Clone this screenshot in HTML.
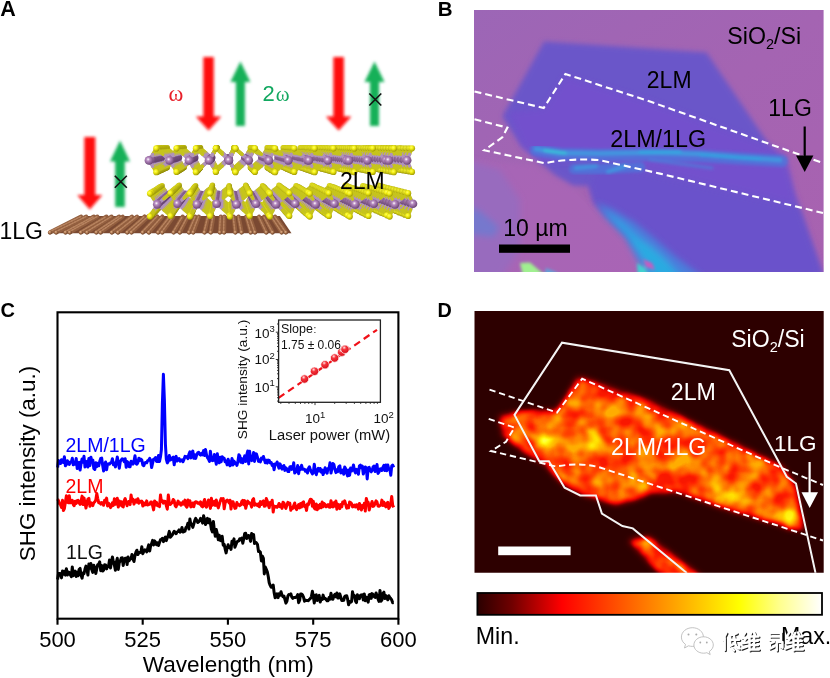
<!DOCTYPE html>
<html><head><meta charset="utf-8"><title>figure</title><style>html,body{margin:0;padding:0;background:#fff;overflow:hidden}
svg{display:block;font-family:"Liberation Sans",sans-serif;opacity:.999}
.s{fill:url(#sg)}.m{fill:url(#mg)}.sb{fill:url(#sgb)}.mb{fill:url(#mgb)}.p{stroke:#b092bc}.y{stroke:#c6c41c}
</style></head><body>
<svg width="830" height="678" viewBox="0 0 830 678">

<defs>
<filter id="b04" x="-5%" y="-5%" width="110%" height="110%"><feGaussianBlur stdDeviation="0.45"/></filter>
<filter id="b05" x="-5%" y="-20%" width="110%" height="140%"><feGaussianBlur stdDeviation="0.5"/></filter>
<filter id="b15" x="-5%" y="-5%" width="110%" height="110%"><feGaussianBlur stdDeviation="1.7"/></filter>
<filter id="b2" x="-10%" y="-10%" width="120%" height="120%"><feGaussianBlur stdDeviation="1.8"/></filter>
<filter id="b25" x="-10%" y="-10%" width="120%" height="120%"><feGaussianBlur stdDeviation="2.5"/></filter>
<filter id="b3" x="-10%" y="-10%" width="120%" height="120%"><feGaussianBlur stdDeviation="3"/></filter>
<clipPath id="clipA"><rect x="140" y="130" width="278.5" height="100"/></clipPath>
<clipPath id="clipB"><rect x="474" y="10" width="349.6" height="262"/></clipPath>
<clipPath id="clipD"><rect x="474.5" y="311" width="349.2" height="261.7"/></clipPath>
<radialGradient id="sg" cx="0.38" cy="0.35" r="0.7"><stop offset="0" stop-color="#ffff60"/><stop offset="0.4" stop-color="#f2ee14"/><stop offset="1" stop-color="#9a9400"/></radialGradient>
<radialGradient id="mg" cx="0.4" cy="0.38" r="0.7"><stop offset="0" stop-color="#ffffff"/><stop offset="0.28" stop-color="#b88cc2"/><stop offset="1" stop-color="#603a6a"/></radialGradient>
<radialGradient id="sgb" cx="0.4" cy="0.38" r="0.7"><stop offset="0" stop-color="#f0ee30"/><stop offset="0.5" stop-color="#d0cc18"/><stop offset="1" stop-color="#868000"/></radialGradient>
<radialGradient id="mgb" cx="0.4" cy="0.38" r="0.7"><stop offset="0" stop-color="#a880b0"/><stop offset="0.45" stop-color="#8a6292"/><stop offset="1" stop-color="#583662"/></radialGradient>
<radialGradient id="cg" cx="0.4" cy="0.35" r="0.7"><stop offset="0" stop-color="#e8b890"/><stop offset="0.5" stop-color="#a06c48"/><stop offset="1" stop-color="#5a3420"/></radialGradient>
<radialGradient id="rdot" cx="0.4" cy="0.3" r="0.75"><stop offset="0" stop-color="#ffe4e4"/><stop offset="0.32" stop-color="#f4343c"/><stop offset="1" stop-color="#d40814"/></radialGradient>
<linearGradient id="bgB" x1="0" y1="0" x2="1" y2="1"><stop offset="0" stop-color="#9c66b6"/><stop offset="0.5" stop-color="#a464b2"/><stop offset="1" stop-color="#a862b0"/></linearGradient>
<linearGradient id="cbar" x1="0" y1="0" x2="1" y2="0"><stop offset="0" stop-color="#2a0000"/><stop offset="0.1" stop-color="#700000"/><stop offset="0.245" stop-color="#ff0000"/><stop offset="0.5" stop-color="#ff8000"/><stop offset="0.76" stop-color="#ffff00"/><stop offset="0.88" stop-color="#ffff90"/><stop offset="1" stop-color="#ffffff"/></linearGradient>
<filter id="heat" filterUnits="userSpaceOnUse" x="440" y="290" width="400" height="300" color-interpolation-filters="sRGB">
<feGaussianBlur in="SourceGraphic" stdDeviation="3.1" result="m"/>
<feTurbulence type="fractalNoise" baseFrequency="0.055" numOctaves="2" seed="11" result="t"/>
<feColorMatrix in="t" type="matrix" values="1 0 0 0 0 1 0 0 0 0 1 0 0 0 0 0 0 0 0 1" result="g"/>
<feComponentTransfer in="g" result="n"><feFuncR type="linear" slope="1.9" intercept="-0.45"/><feFuncG type="linear" slope="1.9" intercept="-0.45"/><feFuncB type="linear" slope="1.9" intercept="-0.45"/></feComponentTransfer>
<feComposite in="m" in2="n" operator="arithmetic" k1="0.46" k2="0.54" k3="0" k4="0" result="i"/>
<feComponentTransfer in="i">
<feFuncR type="table" tableValues="0.18 0.36 0.66 0.92 1 1 1 1 1 1 1"/>
<feFuncG type="table" tableValues="0 0 0 0.02 0.12 0.3 0.5 0.7 0.87 1 1"/>
<feFuncB type="table" tableValues="0 0 0 0 0 0 0 0 0 0.1 0.4"/>
<feFuncA type="linear" slope="0" intercept="1"/>
</feComponentTransfer>
</filter>
</defs>

<!--A-->
<text x="0.2" y="16" font-size="21.5" font-weight="bold">A</text>
<g filter="url(#b05)">
<polygon points="48.0,233.3 79.3,216.1 279.9,216.1 291.5,233.3" fill="#7a4a32"/>
<line x1="50.0" y1="232.3" x2="81.1" y2="216.6" stroke="#935f3f" stroke-width="4.2" stroke-linecap="round"/>
<line x1="56.2" y1="232.3" x2="86.2" y2="216.6" stroke="#935f3f" stroke-width="4.2" stroke-linecap="round"/>
<line x1="65.5" y1="232.3" x2="93.8" y2="216.6" stroke="#935f3f" stroke-width="4.2" stroke-linecap="round"/>
<line x1="69.7" y1="232.3" x2="97.3" y2="216.6" stroke="#935f3f" stroke-width="4.2" stroke-linecap="round"/>
<line x1="80.9" y1="232.3" x2="106.5" y2="216.6" stroke="#935f3f" stroke-width="4.2" stroke-linecap="round"/>
<line x1="87.1" y1="232.3" x2="111.6" y2="216.6" stroke="#935f3f" stroke-width="4.2" stroke-linecap="round"/>
<line x1="96.4" y1="232.3" x2="119.2" y2="216.6" stroke="#935f3f" stroke-width="4.2" stroke-linecap="round"/>
<line x1="100.6" y1="232.3" x2="122.7" y2="216.6" stroke="#935f3f" stroke-width="4.2" stroke-linecap="round"/>
<line x1="111.8" y1="232.3" x2="131.9" y2="216.6" stroke="#935f3f" stroke-width="4.2" stroke-linecap="round"/>
<line x1="118.0" y1="232.3" x2="137.0" y2="216.6" stroke="#935f3f" stroke-width="4.2" stroke-linecap="round"/>
<line x1="127.3" y1="232.3" x2="144.6" y2="216.6" stroke="#935f3f" stroke-width="4.2" stroke-linecap="round"/>
<line x1="131.5" y1="232.3" x2="148.1" y2="216.6" stroke="#935f3f" stroke-width="4.2" stroke-linecap="round"/>
<line x1="142.7" y1="232.3" x2="157.3" y2="216.6" stroke="#935f3f" stroke-width="4.2" stroke-linecap="round"/>
<line x1="148.9" y1="232.3" x2="162.4" y2="216.6" stroke="#935f3f" stroke-width="4.2" stroke-linecap="round"/>
<line x1="158.2" y1="232.3" x2="170.0" y2="216.6" stroke="#935f3f" stroke-width="4.2" stroke-linecap="round"/>
<line x1="162.3" y1="232.3" x2="173.5" y2="216.6" stroke="#935f3f" stroke-width="4.2" stroke-linecap="round"/>
<line x1="173.6" y1="232.3" x2="182.7" y2="216.6" stroke="#935f3f" stroke-width="4.2" stroke-linecap="round"/>
<line x1="179.8" y1="232.3" x2="187.8" y2="216.6" stroke="#935f3f" stroke-width="4.2" stroke-linecap="round"/>
<line x1="189.0" y1="232.3" x2="195.4" y2="216.6" stroke="#935f3f" stroke-width="4.2" stroke-linecap="round"/>
<line x1="193.2" y1="232.3" x2="198.9" y2="216.6" stroke="#935f3f" stroke-width="4.2" stroke-linecap="round"/>
<line x1="204.5" y1="232.3" x2="208.1" y2="216.6" stroke="#935f3f" stroke-width="4.2" stroke-linecap="round"/>
<line x1="210.7" y1="232.3" x2="213.2" y2="216.6" stroke="#935f3f" stroke-width="4.2" stroke-linecap="round"/>
<line x1="219.9" y1="232.3" x2="220.8" y2="216.6" stroke="#935f3f" stroke-width="4.2" stroke-linecap="round"/>
<line x1="224.1" y1="232.3" x2="224.3" y2="216.6" stroke="#935f3f" stroke-width="4.2" stroke-linecap="round"/>
<line x1="235.4" y1="232.3" x2="233.6" y2="216.6" stroke="#935f3f" stroke-width="4.2" stroke-linecap="round"/>
<line x1="241.6" y1="232.3" x2="238.6" y2="216.6" stroke="#935f3f" stroke-width="4.2" stroke-linecap="round"/>
<line x1="250.8" y1="232.3" x2="246.3" y2="216.6" stroke="#935f3f" stroke-width="4.2" stroke-linecap="round"/>
<line x1="255.0" y1="232.3" x2="249.7" y2="216.6" stroke="#935f3f" stroke-width="4.2" stroke-linecap="round"/>
<line x1="266.3" y1="232.3" x2="259.0" y2="216.6" stroke="#935f3f" stroke-width="4.2" stroke-linecap="round"/>
<line x1="272.5" y1="232.3" x2="264.1" y2="216.6" stroke="#935f3f" stroke-width="4.2" stroke-linecap="round"/>
<line x1="281.7" y1="232.3" x2="271.7" y2="216.6" stroke="#935f3f" stroke-width="4.2" stroke-linecap="round"/>
<line x1="285.9" y1="232.3" x2="275.1" y2="216.6" stroke="#935f3f" stroke-width="4.2" stroke-linecap="round"/>
<line x1="49.5" y1="231.7" x2="80.7" y2="216.6" stroke="#b88460" stroke-width="1.5" stroke-linecap="round" stroke-dasharray="1.6,1.4"/>
<line x1="55.7" y1="231.7" x2="85.8" y2="216.6" stroke="#b88460" stroke-width="1.5" stroke-linecap="round" stroke-dasharray="1.6,1.4"/>
<line x1="65.0" y1="231.7" x2="93.4" y2="216.6" stroke="#b88460" stroke-width="1.5" stroke-linecap="round" stroke-dasharray="1.6,1.4"/>
<line x1="69.2" y1="231.7" x2="96.9" y2="216.6" stroke="#b88460" stroke-width="1.5" stroke-linecap="round" stroke-dasharray="1.6,1.4"/>
<line x1="80.4" y1="231.7" x2="106.1" y2="216.6" stroke="#b88460" stroke-width="1.5" stroke-linecap="round" stroke-dasharray="1.6,1.4"/>
<line x1="86.6" y1="231.7" x2="111.2" y2="216.6" stroke="#b88460" stroke-width="1.5" stroke-linecap="round" stroke-dasharray="1.6,1.4"/>
<line x1="95.9" y1="231.7" x2="118.8" y2="216.6" stroke="#b88460" stroke-width="1.5" stroke-linecap="round" stroke-dasharray="1.6,1.4"/>
<line x1="100.1" y1="231.7" x2="122.3" y2="216.6" stroke="#b88460" stroke-width="1.5" stroke-linecap="round" stroke-dasharray="1.6,1.4"/>
<line x1="111.3" y1="231.7" x2="131.5" y2="216.6" stroke="#b88460" stroke-width="1.5" stroke-linecap="round" stroke-dasharray="1.6,1.4"/>
<line x1="117.5" y1="231.7" x2="136.6" y2="216.6" stroke="#b88460" stroke-width="1.5" stroke-linecap="round" stroke-dasharray="1.6,1.4"/>
<line x1="126.8" y1="231.7" x2="144.2" y2="216.6" stroke="#b88460" stroke-width="1.5" stroke-linecap="round" stroke-dasharray="1.6,1.4"/>
<line x1="131.0" y1="231.7" x2="147.7" y2="216.6" stroke="#b88460" stroke-width="1.5" stroke-linecap="round" stroke-dasharray="1.6,1.4"/>
<line x1="142.2" y1="231.7" x2="156.9" y2="216.6" stroke="#b88460" stroke-width="1.5" stroke-linecap="round" stroke-dasharray="1.6,1.4"/>
<line x1="148.4" y1="231.7" x2="162.0" y2="216.6" stroke="#b88460" stroke-width="1.5" stroke-linecap="round" stroke-dasharray="1.6,1.4"/>
<line x1="157.7" y1="231.7" x2="169.6" y2="216.6" stroke="#b88460" stroke-width="1.5" stroke-linecap="round" stroke-dasharray="1.6,1.4"/>
<line x1="161.8" y1="231.7" x2="173.1" y2="216.6" stroke="#b88460" stroke-width="1.5" stroke-linecap="round" stroke-dasharray="1.6,1.4"/>
<line x1="173.1" y1="231.7" x2="182.3" y2="216.6" stroke="#b88460" stroke-width="1.5" stroke-linecap="round" stroke-dasharray="1.6,1.4"/>
<line x1="179.3" y1="231.7" x2="187.4" y2="216.6" stroke="#b88460" stroke-width="1.5" stroke-linecap="round" stroke-dasharray="1.6,1.4"/>
<line x1="188.5" y1="231.7" x2="195.0" y2="216.6" stroke="#b88460" stroke-width="1.5" stroke-linecap="round" stroke-dasharray="1.6,1.4"/>
<line x1="192.7" y1="231.7" x2="198.5" y2="216.6" stroke="#b88460" stroke-width="1.5" stroke-linecap="round" stroke-dasharray="1.6,1.4"/>
<line x1="204.0" y1="231.7" x2="207.7" y2="216.6" stroke="#b88460" stroke-width="1.5" stroke-linecap="round" stroke-dasharray="1.6,1.4"/>
<line x1="210.2" y1="231.7" x2="212.8" y2="216.6" stroke="#b88460" stroke-width="1.5" stroke-linecap="round" stroke-dasharray="1.6,1.4"/>
<line x1="219.4" y1="231.7" x2="220.4" y2="216.6" stroke="#b88460" stroke-width="1.5" stroke-linecap="round" stroke-dasharray="1.6,1.4"/>
<line x1="223.6" y1="231.7" x2="223.9" y2="216.6" stroke="#b88460" stroke-width="1.5" stroke-linecap="round" stroke-dasharray="1.6,1.4"/>
<line x1="234.9" y1="231.7" x2="233.2" y2="216.6" stroke="#b88460" stroke-width="1.5" stroke-linecap="round" stroke-dasharray="1.6,1.4"/>
<line x1="241.1" y1="231.7" x2="238.2" y2="216.6" stroke="#b88460" stroke-width="1.5" stroke-linecap="round" stroke-dasharray="1.6,1.4"/>
<line x1="250.3" y1="231.7" x2="245.9" y2="216.6" stroke="#b88460" stroke-width="1.5" stroke-linecap="round" stroke-dasharray="1.6,1.4"/>
<line x1="254.5" y1="231.7" x2="249.3" y2="216.6" stroke="#b88460" stroke-width="1.5" stroke-linecap="round" stroke-dasharray="1.6,1.4"/>
<line x1="265.8" y1="231.7" x2="258.6" y2="216.6" stroke="#b88460" stroke-width="1.5" stroke-linecap="round" stroke-dasharray="1.6,1.4"/>
<line x1="272.0" y1="231.7" x2="263.7" y2="216.6" stroke="#b88460" stroke-width="1.5" stroke-linecap="round" stroke-dasharray="1.6,1.4"/>
<line x1="281.2" y1="231.7" x2="271.3" y2="216.6" stroke="#b88460" stroke-width="1.5" stroke-linecap="round" stroke-dasharray="1.6,1.4"/>
<line x1="285.4" y1="231.7" x2="274.7" y2="216.6" stroke="#b88460" stroke-width="1.5" stroke-linecap="round" stroke-dasharray="1.6,1.4"/>
<circle cx="50.0" cy="232.5" r="2.1" fill="url(#cg)"/>
<circle cx="56.2" cy="232.5" r="2.1" fill="url(#cg)"/>
<circle cx="65.5" cy="232.5" r="2.1" fill="url(#cg)"/>
<circle cx="69.7" cy="232.5" r="2.1" fill="url(#cg)"/>
<circle cx="80.9" cy="232.5" r="2.1" fill="url(#cg)"/>
<circle cx="87.1" cy="232.5" r="2.1" fill="url(#cg)"/>
<circle cx="96.4" cy="232.5" r="2.1" fill="url(#cg)"/>
<circle cx="100.6" cy="232.5" r="2.1" fill="url(#cg)"/>
<circle cx="111.8" cy="232.5" r="2.1" fill="url(#cg)"/>
<circle cx="118.0" cy="232.5" r="2.1" fill="url(#cg)"/>
<circle cx="127.3" cy="232.5" r="2.1" fill="url(#cg)"/>
<circle cx="131.5" cy="232.5" r="2.1" fill="url(#cg)"/>
<circle cx="142.7" cy="232.5" r="2.1" fill="url(#cg)"/>
<circle cx="148.9" cy="232.5" r="2.1" fill="url(#cg)"/>
<circle cx="158.2" cy="232.5" r="2.1" fill="url(#cg)"/>
<circle cx="162.3" cy="232.5" r="2.1" fill="url(#cg)"/>
<circle cx="173.6" cy="232.5" r="2.1" fill="url(#cg)"/>
<circle cx="179.8" cy="232.5" r="2.1" fill="url(#cg)"/>
<circle cx="189.0" cy="232.5" r="2.1" fill="url(#cg)"/>
<circle cx="193.2" cy="232.5" r="2.1" fill="url(#cg)"/>
<circle cx="204.5" cy="232.5" r="2.1" fill="url(#cg)"/>
<circle cx="210.7" cy="232.5" r="2.1" fill="url(#cg)"/>
<circle cx="219.9" cy="232.5" r="2.1" fill="url(#cg)"/>
<circle cx="224.1" cy="232.5" r="2.1" fill="url(#cg)"/>
<circle cx="235.4" cy="232.5" r="2.1" fill="url(#cg)"/>
<circle cx="241.6" cy="232.5" r="2.1" fill="url(#cg)"/>
<circle cx="250.8" cy="232.5" r="2.1" fill="url(#cg)"/>
<circle cx="255.0" cy="232.5" r="2.1" fill="url(#cg)"/>
<circle cx="266.3" cy="232.5" r="2.1" fill="url(#cg)"/>
<circle cx="272.5" cy="232.5" r="2.1" fill="url(#cg)"/>
<circle cx="281.7" cy="232.5" r="2.1" fill="url(#cg)"/>
<circle cx="285.9" cy="232.5" r="2.1" fill="url(#cg)"/>
</g>
<g filter="url(#b04)" stroke-linecap="round" fill="none">
<path class="p" stroke-width="2.7" d="M185.1 194.1L182.2 189.7M185.1 194.1L182.2 199.2M218.1 194.1L215.3 189.7M218.1 194.1L215.3 199.2M251 194.1L248.3 189.7M251 194.1L248.3 199.2M283.9 194.1L281.4 189.7M283.9 194.1L281.4 199.2M316.9 194.1L314.5 189.7M316.9 194.1L314.5 199.2M349.8 194.1L347.5 189.7M349.8 194.1L347.5 199.2M382.8 194.1L380.6 189.7M382.8 194.1L380.6 199.2"/>
<path class="y" stroke-width="2.7" d="M181.4 152.6L184.3 147.6M181.4 162.5L184.3 167.4M214.5 152.6L217.2 147.6M214.5 162.5L217.2 167.4M247.5 152.6L250.2 147.6M247.5 162.5L250.2 167.4M280.6 152.6L283.1 147.6M280.6 162.5L283.1 167.4M313.6 152.6L316.1 147.6M313.6 162.5L316.1 167.4M346.7 152.6L349 147.6M346.7 162.5L349 167.4M379.8 152.6L381.9 147.6M379.8 162.5L381.9 167.4"/>
<circle class="sb" cx="184.3" cy="147.6" r="2.6"/>
<circle class="sb" cx="184.3" cy="167.4" r="2.6"/>
<circle class="mb" cx="185.1" cy="194.1" r="3.6"/>
<circle class="sb" cx="217.2" cy="147.6" r="2.6"/>
<circle class="sb" cx="217.2" cy="167.4" r="2.6"/>
<circle class="mb" cx="218.1" cy="194.1" r="3.6"/>
<circle class="sb" cx="250.2" cy="147.6" r="2.6"/>
<circle class="sb" cx="250.2" cy="167.4" r="2.6"/>
<circle class="mb" cx="251" cy="194.1" r="3.6"/>
<circle class="sb" cx="283.1" cy="147.6" r="2.6"/>
<circle class="sb" cx="283.1" cy="167.4" r="2.6"/>
<circle class="mb" cx="283.9" cy="194.1" r="3.6"/>
<circle class="sb" cx="316.1" cy="147.6" r="2.6"/>
<circle class="sb" cx="316.1" cy="167.4" r="2.6"/>
<circle class="mb" cx="316.9" cy="194.1" r="3.6"/>
<circle class="sb" cx="349" cy="147.6" r="2.6"/>
<circle class="sb" cx="349" cy="167.4" r="2.6"/>
<circle class="mb" cx="349.8" cy="194.1" r="3.6"/>
<circle class="sb" cx="381.9" cy="147.6" r="2.6"/>
<circle class="sb" cx="381.9" cy="167.4" r="2.6"/>
<circle class="mb" cx="382.8" cy="194.1" r="3.6"/>
<path class="p" stroke-width="2.7" d="M168.2 194.5L165.3 190M168.2 194.5L165.3 199.6M168.2 194.5L173.8 189.8M168.2 194.5L173.8 199.4M178.5 157.6L172.9 152.6M178.5 157.6L172.9 162.6M178.5 157.6L181.1 152.7M178.5 157.6L181.1 162.7M178.5 157.6L181.4 152.6M178.5 157.6L181.4 162.5M201.4 194.5L198.6 190M201.4 194.5L198.6 199.6M201.4 194.5L207 189.8M201.4 194.5L207 199.4M211.7 157.6L206.1 152.6M211.7 157.6L206.1 162.6M211.7 157.6L214.4 152.7M211.7 157.6L214.4 162.7M211.7 157.6L214.5 152.6M211.7 157.6L214.5 162.5M234.6 194.5L231.9 190M234.6 194.5L231.9 199.6M234.6 194.5L240.1 189.8M234.6 194.5L240.1 199.4M244.8 157.6L239.3 152.6M244.8 157.6L239.3 162.6M244.8 157.6L247.7 152.7M244.8 157.6L247.7 162.7M244.8 157.6L247.5 152.6M244.8 157.6L247.5 162.5M267.8 194.5L265.2 190M267.8 194.5L265.2 199.6M267.8 194.5L273.3 189.8M267.8 194.5L273.3 199.4M278 157.6L272.5 152.6M278 157.6L272.5 162.6M278 157.6L281 152.7M278 157.6L281 162.7M278 157.6L280.6 152.6M278 157.6L280.6 162.5M301 194.5L298.5 190M301 194.5L298.5 199.6M301 194.5L306.5 189.8M301 194.5L306.5 199.4M311.2 157.6L305.7 152.6M311.2 157.6L305.7 162.6M311.2 157.6L314.3 152.7M311.2 157.6L314.3 162.7M311.2 157.6L313.6 152.6M311.2 157.6L313.6 162.5M334.2 194.5L331.8 190M334.2 194.5L331.8 199.6M334.2 194.5L339.7 189.8M334.2 194.5L339.7 199.4M344.4 157.6L338.9 152.6M344.4 157.6L338.9 162.6M344.4 157.6L347.6 152.7M344.4 157.6L347.6 162.7M344.4 157.6L346.7 152.6M344.4 157.6L346.7 162.5M367.3 194.5L365.1 190M367.3 194.5L365.1 199.6M367.3 194.5L372.9 189.8M367.3 194.5L372.9 199.4M377.6 157.6L372 152.6M377.6 157.6L372 162.6M377.6 157.6L380.9 152.7M377.6 157.6L380.9 162.7M377.6 157.6L379.8 152.6M377.6 157.6L379.8 162.5"/>
<path class="y" stroke-width="2.7" d="M164.4 152.7L167.4 147.7M164.4 162.7L167.4 167.6M173.8 189.8L179.3 185.2M173.8 199.4L179.3 204.3M181.9 190L179.3 185.2M181.9 199.6L179.3 204.3M172.9 152.6L167.4 147.7M172.9 162.6L167.4 167.6M182.2 189.7L179.3 185.2M182.2 199.2L179.3 204.3M197.7 152.7L200.6 147.7M197.7 162.7L200.6 167.6M207 189.8L212.5 185.2M207 199.4L212.5 204.3M215.2 190L212.5 185.2M215.2 199.6L212.5 204.3M206.1 152.6L200.6 147.7M206.1 162.6L200.6 167.6M215.3 189.7L212.5 185.2M215.3 199.2L212.5 204.3M231 152.7L233.8 147.7M231 162.7L233.8 167.6M240.1 189.8L245.7 185.2M240.1 199.4L245.7 204.3M248.5 190L245.7 185.2M248.5 199.6L245.7 204.3M239.3 152.6L233.8 147.7M239.3 162.6L233.8 167.6M248.3 189.7L245.7 185.2M248.3 199.2L245.7 204.3M264.3 152.7L267 147.7M264.3 162.7L267 167.6M273.3 189.8L278.9 185.2M273.3 199.4L278.9 204.3M281.8 190L278.9 185.2M281.8 199.6L278.9 204.3M272.5 152.6L267 147.7M272.5 162.6L267 167.6M281.4 189.7L278.9 185.2M281.4 199.2L278.9 204.3M297.6 152.7L300.1 147.7M297.6 162.7L300.1 167.6M306.5 189.8L312 185.2M306.5 199.4L312 204.3M315.1 190L312 185.2M315.1 199.6L312 204.3M305.7 152.6L300.1 147.7M305.7 162.6L300.1 167.6M314.5 189.7L312 185.2M314.5 199.2L312 204.3M331 152.7L333.3 147.7M331 162.7L333.3 167.6M339.7 189.8L345.2 185.2M339.7 199.4L345.2 204.3M348.4 190L345.2 185.2M348.4 199.6L345.2 204.3M338.9 152.6L333.3 147.7M338.9 162.6L333.3 167.6M347.5 189.7L345.2 185.2M347.5 199.2L345.2 204.3M364.3 152.7L366.5 147.7M364.3 162.7L366.5 167.6M372.9 189.8L378.4 185.2M372.9 199.4L378.4 204.3M381.7 190L378.4 185.2M381.7 199.6L378.4 204.3M372 152.6L366.5 147.7M372 162.6L366.5 167.6M380.6 189.7L378.4 185.2M380.6 199.2L378.4 204.3"/>
<circle class="sb" cx="167.4" cy="147.7" r="2.6"/>
<circle class="sb" cx="167.4" cy="167.6" r="2.6"/>
<circle class="mb" cx="168.2" cy="194.5" r="3.7"/>
<circle class="mb" cx="178.5" cy="157.6" r="3.7"/>
<circle class="sb" cx="179.3" cy="185.2" r="2.6"/>
<circle class="sb" cx="179.3" cy="204.3" r="2.6"/>
<circle class="sb" cx="200.6" cy="147.7" r="2.6"/>
<circle class="sb" cx="200.6" cy="167.6" r="2.6"/>
<circle class="mb" cx="201.4" cy="194.5" r="3.7"/>
<circle class="mb" cx="211.7" cy="157.6" r="3.7"/>
<circle class="sb" cx="212.5" cy="185.2" r="2.6"/>
<circle class="sb" cx="212.5" cy="204.3" r="2.6"/>
<circle class="sb" cx="233.8" cy="147.7" r="2.6"/>
<circle class="sb" cx="233.8" cy="167.6" r="2.6"/>
<circle class="mb" cx="234.6" cy="194.5" r="3.7"/>
<circle class="mb" cx="244.8" cy="157.6" r="3.7"/>
<circle class="sb" cx="245.7" cy="185.2" r="2.6"/>
<circle class="sb" cx="245.7" cy="204.3" r="2.6"/>
<circle class="sb" cx="267" cy="147.7" r="2.6"/>
<circle class="sb" cx="267" cy="167.6" r="2.6"/>
<circle class="mb" cx="267.8" cy="194.5" r="3.7"/>
<circle class="mb" cx="278" cy="157.6" r="3.7"/>
<circle class="sb" cx="278.9" cy="185.2" r="2.6"/>
<circle class="sb" cx="278.9" cy="204.3" r="2.6"/>
<circle class="sb" cx="300.1" cy="147.7" r="2.6"/>
<circle class="sb" cx="300.1" cy="167.6" r="2.6"/>
<circle class="mb" cx="301" cy="194.5" r="3.7"/>
<circle class="mb" cx="311.2" cy="157.6" r="3.7"/>
<circle class="sb" cx="312" cy="185.2" r="2.6"/>
<circle class="sb" cx="312" cy="204.3" r="2.6"/>
<circle class="sb" cx="333.3" cy="147.7" r="2.6"/>
<circle class="sb" cx="333.3" cy="167.6" r="2.6"/>
<circle class="mb" cx="334.2" cy="194.5" r="3.7"/>
<circle class="mb" cx="344.4" cy="157.6" r="3.7"/>
<circle class="sb" cx="345.2" cy="185.2" r="2.6"/>
<circle class="sb" cx="345.2" cy="204.3" r="2.6"/>
<circle class="sb" cx="366.5" cy="147.7" r="2.6"/>
<circle class="sb" cx="366.5" cy="167.6" r="2.6"/>
<circle class="mb" cx="367.3" cy="194.5" r="3.7"/>
<circle class="mb" cx="377.6" cy="157.6" r="3.7"/>
<circle class="sb" cx="378.4" cy="185.2" r="2.6"/>
<circle class="sb" cx="378.4" cy="204.3" r="2.6"/>
<path class="p" stroke-width="2.8" d="M161.4 157.7L164 152.7M161.4 157.7L164 162.8M161.4 157.7L164.4 152.7M161.4 157.7L164.4 162.7M184.5 194.9L181.6 190.4M184.5 194.9L181.6 200M184.5 194.9L181.9 190M184.5 194.9L181.9 199.6M184.5 194.9L190.1 190.2M184.5 194.9L190.1 199.8M194.8 157.7L189.3 152.7M194.8 157.7L189.3 162.7M194.8 157.7L197.5 152.7M194.8 157.7L197.5 162.8M194.8 157.7L197.7 152.7M194.8 157.7L197.7 162.7M218 194.9L215.1 190.4M218 194.9L215.1 200M218 194.9L215.2 190M218 194.9L215.2 199.6M218 194.9L223.5 190.2M218 194.9L223.5 199.8M228.3 157.7L222.7 152.7M228.3 157.7L222.7 162.7M228.3 157.7L231.1 152.7M228.3 157.7L231.1 162.8M228.3 157.7L231 152.7M228.3 157.7L231 162.7M251.4 194.9L248.7 190.4M251.4 194.9L248.7 200M251.4 194.9L248.5 190M251.4 194.9L248.5 199.6M251.4 194.9L257 190.2M251.4 194.9L257 199.8M261.7 157.7L256.1 152.7M261.7 157.7L256.1 162.7M261.7 157.7L264.6 152.7M261.7 157.7L264.6 162.8M261.7 157.7L264.3 152.7M261.7 157.7L264.3 162.7M284.8 194.9L282.3 190.4M284.8 194.9L282.3 200M284.8 194.9L281.8 190M284.8 194.9L281.8 199.6M284.8 194.9L290.4 190.2M284.8 194.9L290.4 199.8M295.1 157.7L289.6 152.7M295.1 157.7L289.6 162.7M295.1 157.7L298.2 152.7M295.1 157.7L298.2 162.8M295.1 157.7L297.6 152.7M295.1 157.7L297.6 162.7M318.3 194.9L315.8 190.4M318.3 194.9L315.8 200M318.3 194.9L315.1 190M318.3 194.9L315.1 199.6M318.3 194.9L323.8 190.2M318.3 194.9L323.8 199.8M328.6 157.7L323 152.7M328.6 157.7L323 162.7M328.6 157.7L331.7 152.7M328.6 157.7L331.7 162.8M328.6 157.7L331 152.7M328.6 157.7L331 162.7M351.7 194.9L349.4 190.4M351.7 194.9L349.4 200M351.7 194.9L348.4 190M351.7 194.9L348.4 199.6M351.7 194.9L357.3 190.2M351.7 194.9L357.3 199.8M362 157.7L356.4 152.7M362 157.7L356.4 162.7M362 157.7L365.3 152.7M362 157.7L365.3 162.8M362 157.7L364.3 152.7M362 157.7L364.3 162.7M385.1 194.9L382.9 190.4M385.1 194.9L382.9 200M385.1 194.9L381.7 190M385.1 194.9L381.7 199.6"/>
<path class="y" stroke-width="2.8" d="M164.8 190.4L162.2 185.5M164.8 200L162.2 204.7M165.3 190L162.2 185.5M165.3 199.6L162.2 204.7M180.7 152.7L183.7 147.7M180.7 162.8L183.7 167.8M190.1 190.2L195.7 185.5M190.1 199.8L195.7 204.7M181.1 152.7L183.7 147.7M181.1 162.7L183.7 167.8M198.4 190.4L195.7 185.5M198.4 200L195.7 204.7M189.3 152.7L183.7 147.7M189.3 162.7L183.7 167.8M198.6 190L195.7 185.5M198.6 199.6L195.7 204.7M214.3 152.7L217.1 147.7M214.3 162.8L217.1 167.8M223.5 190.2L229.1 185.5M223.5 199.8L229.1 204.7M214.4 152.7L217.1 147.7M214.4 162.7L217.1 167.8M231.9 190.4L229.1 185.5M231.9 200L229.1 204.7M222.7 152.7L217.1 147.7M222.7 162.7L217.1 167.8M231.9 190L229.1 185.5M231.9 199.6L229.1 204.7M247.9 152.7L250.6 147.7M247.9 162.8L250.6 167.8M257 190.2L262.5 185.5M257 199.8L262.5 204.7M247.7 152.7L250.6 147.7M247.7 162.7L250.6 167.8M265.5 190.4L262.5 185.5M265.5 200L262.5 204.7M256.1 152.7L250.6 147.7M256.1 162.7L250.6 167.8M265.2 190L262.5 185.5M265.2 199.6L262.5 204.7M281.4 152.7L284 147.7M281.4 162.8L284 167.8M290.4 190.2L296 185.5M290.4 199.8L296 204.7M281 152.7L284 147.7M281 162.7L284 167.8M299 190.4L296 185.5M299 200L296 204.7M289.6 152.7L284 147.7M289.6 162.7L284 167.8M298.5 190L296 185.5M298.5 199.6L296 204.7M315 152.7L317.4 147.7M315 162.8L317.4 167.8M323.8 190.2L329.4 185.5M323.8 199.8L329.4 204.7M314.3 152.7L317.4 147.7M314.3 162.7L317.4 167.8M332.6 190.4L329.4 185.5M332.6 200L329.4 204.7M323 152.7L317.4 147.7M323 162.7L317.4 167.8M331.8 190L329.4 185.5M331.8 199.6L329.4 204.7M348.5 152.7L350.8 147.7M348.5 162.8L350.8 167.8M357.3 190.2L362.8 185.5M357.3 199.8L362.8 204.7M347.6 152.7L350.8 147.7M347.6 162.7L350.8 167.8M366.1 190.4L362.8 185.5M366.1 200L362.8 204.7M356.4 152.7L350.8 147.7M356.4 162.7L350.8 167.8M365.1 190L362.8 185.5M365.1 199.6L362.8 204.7M382.1 152.7L384.3 147.7M382.1 162.8L384.3 167.8M380.9 152.7L384.3 147.7M380.9 162.7L384.3 167.8"/>
<circle class="mb" cx="161.4" cy="157.7" r="3.7"/>
<circle class="sb" cx="162.2" cy="185.5" r="2.6"/>
<circle class="sb" cx="162.2" cy="204.7" r="2.6"/>
<circle class="sb" cx="183.7" cy="147.7" r="2.6"/>
<circle class="sb" cx="183.7" cy="167.8" r="2.6"/>
<circle class="mb" cx="184.5" cy="194.9" r="3.7"/>
<circle class="mb" cx="194.8" cy="157.7" r="3.7"/>
<circle class="sb" cx="195.7" cy="185.5" r="2.6"/>
<circle class="sb" cx="195.7" cy="204.7" r="2.6"/>
<circle class="sb" cx="217.1" cy="147.7" r="2.6"/>
<circle class="sb" cx="217.1" cy="167.8" r="2.6"/>
<circle class="mb" cx="218" cy="194.9" r="3.7"/>
<circle class="mb" cx="228.3" cy="157.7" r="3.7"/>
<circle class="sb" cx="229.1" cy="185.5" r="2.6"/>
<circle class="sb" cx="229.1" cy="204.7" r="2.6"/>
<circle class="sb" cx="250.6" cy="147.7" r="2.6"/>
<circle class="sb" cx="250.6" cy="167.8" r="2.6"/>
<circle class="mb" cx="251.4" cy="194.9" r="3.7"/>
<circle class="mb" cx="261.7" cy="157.7" r="3.7"/>
<circle class="sb" cx="262.5" cy="185.5" r="2.6"/>
<circle class="sb" cx="262.5" cy="204.7" r="2.6"/>
<circle class="sb" cx="284" cy="147.7" r="2.6"/>
<circle class="sb" cx="284" cy="167.8" r="2.6"/>
<circle class="mb" cx="284.8" cy="194.9" r="3.7"/>
<circle class="mb" cx="295.1" cy="157.7" r="3.7"/>
<circle class="sb" cx="296" cy="185.5" r="2.6"/>
<circle class="sb" cx="296" cy="204.7" r="2.6"/>
<circle class="sb" cx="317.4" cy="147.7" r="2.6"/>
<circle class="sb" cx="317.4" cy="167.8" r="2.6"/>
<circle class="mb" cx="318.3" cy="194.9" r="3.7"/>
<circle class="mb" cx="328.6" cy="157.7" r="3.7"/>
<circle class="sb" cx="329.4" cy="185.5" r="2.6"/>
<circle class="sb" cx="329.4" cy="204.7" r="2.6"/>
<circle class="sb" cx="350.8" cy="147.7" r="2.6"/>
<circle class="sb" cx="350.8" cy="167.8" r="2.6"/>
<circle class="mb" cx="351.7" cy="194.9" r="3.7"/>
<circle class="mb" cx="362" cy="157.7" r="3.7"/>
<circle class="sb" cx="362.8" cy="185.5" r="2.6"/>
<circle class="sb" cx="362.8" cy="204.7" r="2.6"/>
<circle class="sb" cx="384.3" cy="147.7" r="2.6"/>
<circle class="sb" cx="384.3" cy="167.8" r="2.6"/>
<circle class="mb" cx="385.1" cy="194.9" r="3.7"/>
<path class="p" stroke-width="2.8" d="M167.4 195.3L164.4 190.7M167.4 195.3L164.4 200.4M167.4 195.3L164.8 190.4M167.4 195.3L164.8 200M167.4 195.3L173 190.5M167.4 195.3L173 200.2M177.8 157.8L172.2 152.8M177.8 157.8L172.2 162.9M177.8 157.8L180.4 152.8M177.8 157.8L180.4 163M177.8 157.8L180.7 152.7M177.8 157.8L180.7 162.8M201.1 195.3L198.2 190.7M201.1 195.3L198.2 200.4M201.1 195.3L198.4 190.4M201.1 195.3L198.4 200M201.1 195.3L206.7 190.5M201.1 195.3L206.7 200.2M211.5 157.8L205.8 152.8M211.5 157.8L205.8 162.9M211.5 157.8L214.2 152.8M211.5 157.8L214.2 163M211.5 157.8L214.3 152.7M211.5 157.8L214.3 162.8M234.8 195.3L232 190.7M234.8 195.3L232 200.4M234.8 195.3L231.9 190.4M234.8 195.3L231.9 200M234.8 195.3L240.4 190.5M234.8 195.3L240.4 200.2M245.1 157.8L239.5 152.8M245.1 157.8L239.5 162.9M245.1 157.8L248 152.8M245.1 157.8L248 163M245.1 157.8L247.9 152.7M245.1 157.8L247.9 162.8M268.4 195.3L265.8 190.7M268.4 195.3L265.8 200.4M268.4 195.3L265.5 190.4M268.4 195.3L265.5 200M268.4 195.3L274 190.5M268.4 195.3L274 200.2M278.8 157.8L273.2 152.8M278.8 157.8L273.2 162.9M278.8 157.8L281.8 152.8M278.8 157.8L281.8 163M278.8 157.8L281.4 152.7M278.8 157.8L281.4 162.8M302.1 195.3L299.6 190.7M302.1 195.3L299.6 200.4M302.1 195.3L299 190.4M302.1 195.3L299 200M302.1 195.3L307.7 190.5M302.1 195.3L307.7 200.2M312.5 157.8L306.9 152.8M312.5 157.8L306.9 162.9M312.5 157.8L315.6 152.8M312.5 157.8L315.6 163M312.5 157.8L315 152.7M312.5 157.8L315 162.8M335.8 195.3L333.4 190.7M335.8 195.3L333.4 200.4M335.8 195.3L332.6 190.4M335.8 195.3L332.6 200M335.8 195.3L341.4 190.5M335.8 195.3L341.4 200.2M346.2 157.8L340.6 152.8M346.2 157.8L340.6 162.9M346.2 157.8L349.4 152.8M346.2 157.8L349.4 163M346.2 157.8L348.5 152.7M346.2 157.8L348.5 162.8M369.5 195.3L367.2 190.7M369.5 195.3L367.2 200.4M369.5 195.3L366.1 190.4M369.5 195.3L366.1 200M369.5 195.3L375.1 190.5M369.5 195.3L375.1 200.2M379.9 157.8L374.2 152.8M379.9 157.8L374.2 162.9M379.9 157.8L383.3 152.8M379.9 157.8L383.3 163M379.9 157.8L382.1 152.7M379.9 157.8L382.1 162.8"/>
<path class="y" stroke-width="2.8" d="M163.5 152.8L166.5 147.7M163.5 163L166.5 167.9M173 190.5L178.6 185.8M173 200.2L178.6 205.2M164 152.7L166.5 147.7M164 162.8L166.5 167.9M181.3 190.7L178.6 185.8M181.3 200.4L178.6 205.2M172.2 152.8L166.5 147.7M172.2 162.9L166.5 167.9M181.6 190.4L178.6 185.8M181.6 200L178.6 205.2M197.3 152.8L200.2 147.7M197.3 163L200.2 167.9M206.7 190.5L212.3 185.8M206.7 200.2L212.3 205.2M197.5 152.7L200.2 147.7M197.5 162.8L200.2 167.9M215.1 190.7L212.3 185.8M215.1 200.4L212.3 205.2M205.8 152.8L200.2 147.7M205.8 162.9L200.2 167.9M215.1 190.4L212.3 185.8M215.1 200L212.3 205.2M231.1 152.8L233.9 147.7M231.1 163L233.9 167.9M240.4 190.5L246 185.8M240.4 200.2L246 205.2M231.1 152.7L233.9 147.7M231.1 162.8L233.9 167.9M248.9 190.7L246 185.8M248.9 200.4L246 205.2M239.5 152.8L233.9 147.7M239.5 162.9L233.9 167.9M248.7 190.4L246 185.8M248.7 200L246 205.2M264.9 152.8L267.6 147.7M264.9 163L267.6 167.9M274 190.5L279.7 185.8M274 200.2L279.7 205.2M264.6 152.7L267.6 147.7M264.6 162.8L267.6 167.9M282.7 190.7L279.7 185.8M282.7 200.4L279.7 205.2M273.2 152.8L267.6 147.7M273.2 162.9L267.6 167.9M282.3 190.4L279.7 185.8M282.3 200L279.7 205.2M298.7 152.8L301.3 147.7M298.7 163L301.3 167.9M307.7 190.5L313.3 185.8M307.7 200.2L313.3 205.2M298.2 152.7L301.3 147.7M298.2 162.8L301.3 167.9M316.5 190.7L313.3 185.8M316.5 200.4L313.3 205.2M306.9 152.8L301.3 147.7M306.9 162.9L301.3 167.9M315.8 190.4L313.3 185.8M315.8 200L313.3 205.2M332.5 152.8L334.9 147.7M332.5 163L334.9 167.9M341.4 190.5L347 185.8M341.4 200.2L347 205.2M331.7 152.7L334.9 147.7M331.7 162.8L334.9 167.9M350.3 190.7L347 185.8M350.3 200.4L347 205.2M340.6 152.8L334.9 147.7M340.6 162.9L334.9 167.9M349.4 190.4L347 185.8M349.4 200L347 205.2M366.4 152.8L368.6 147.7M366.4 163L368.6 167.9M375.1 190.5L380.7 185.8M375.1 200.2L380.7 205.2M365.3 152.7L368.6 147.7M365.3 162.8L368.6 167.9M384.1 190.7L380.7 185.8M384.1 200.4L380.7 205.2M374.2 152.8L368.6 147.7M374.2 162.9L368.6 167.9M382.9 190.4L380.7 185.8M382.9 200L380.7 205.2"/>
<circle class="sb" cx="166.5" cy="147.7" r="2.7"/>
<circle class="sb" cx="166.5" cy="167.9" r="2.7"/>
<circle class="mb" cx="167.4" cy="195.3" r="3.7"/>
<circle class="mb" cx="177.8" cy="157.8" r="3.7"/>
<circle class="sb" cx="178.6" cy="185.8" r="2.7"/>
<circle class="sb" cx="178.6" cy="205.2" r="2.7"/>
<circle class="sb" cx="200.2" cy="147.7" r="2.7"/>
<circle class="sb" cx="200.2" cy="167.9" r="2.7"/>
<circle class="mb" cx="201.1" cy="195.3" r="3.7"/>
<circle class="mb" cx="211.5" cy="157.8" r="3.7"/>
<circle class="sb" cx="212.3" cy="185.8" r="2.7"/>
<circle class="sb" cx="212.3" cy="205.2" r="2.7"/>
<circle class="sb" cx="233.9" cy="147.7" r="2.7"/>
<circle class="sb" cx="233.9" cy="167.9" r="2.7"/>
<circle class="mb" cx="234.8" cy="195.3" r="3.7"/>
<circle class="mb" cx="245.1" cy="157.8" r="3.7"/>
<circle class="sb" cx="246" cy="185.8" r="2.7"/>
<circle class="sb" cx="246" cy="205.2" r="2.7"/>
<circle class="sb" cx="267.6" cy="147.7" r="2.7"/>
<circle class="sb" cx="267.6" cy="167.9" r="2.7"/>
<circle class="mb" cx="268.4" cy="195.3" r="3.7"/>
<circle class="mb" cx="278.8" cy="157.8" r="3.7"/>
<circle class="sb" cx="279.7" cy="185.8" r="2.7"/>
<circle class="sb" cx="279.7" cy="205.2" r="2.7"/>
<circle class="sb" cx="301.3" cy="147.7" r="2.7"/>
<circle class="sb" cx="301.3" cy="167.9" r="2.7"/>
<circle class="mb" cx="302.1" cy="195.3" r="3.7"/>
<circle class="mb" cx="312.5" cy="157.8" r="3.7"/>
<circle class="sb" cx="313.3" cy="185.8" r="2.7"/>
<circle class="sb" cx="313.3" cy="205.2" r="2.7"/>
<circle class="sb" cx="334.9" cy="147.7" r="2.7"/>
<circle class="sb" cx="334.9" cy="167.9" r="2.7"/>
<circle class="mb" cx="335.8" cy="195.3" r="3.7"/>
<circle class="mb" cx="346.2" cy="157.8" r="3.7"/>
<circle class="sb" cx="347" cy="185.8" r="2.7"/>
<circle class="sb" cx="347" cy="205.2" r="2.7"/>
<circle class="sb" cx="368.6" cy="147.7" r="2.7"/>
<circle class="sb" cx="368.6" cy="167.9" r="2.7"/>
<circle class="mb" cx="369.5" cy="195.3" r="3.7"/>
<circle class="mb" cx="379.9" cy="157.8" r="3.7"/>
<circle class="sb" cx="380.7" cy="185.8" r="2.7"/>
<circle class="sb" cx="380.7" cy="205.2" r="2.7"/>
<path class="p" stroke-width="2.8" d="M160.5 157.9L163 152.9M160.5 157.9L163 163.1M160.5 157.9L163.5 152.8M160.5 157.9L163.5 163M183.9 195.6L180.9 191.1M183.9 195.6L180.9 200.9M183.9 195.6L181.3 190.7M183.9 195.6L181.3 200.4M183.9 195.6L189.6 190.9M183.9 195.6L189.6 200.6M194.4 157.9L188.7 152.8M194.4 157.9L188.7 163M194.4 157.9L197.1 152.9M194.4 157.9L197.1 163.1M194.4 157.9L197.3 152.8M194.4 157.9L197.3 163M217.9 195.6L215 191.1M217.9 195.6L215 200.9M217.9 195.6L215.1 190.7M217.9 195.6L215.1 200.4M217.9 195.6L223.5 190.9M217.9 195.6L223.5 200.6M228.3 157.9L222.7 152.8M228.3 157.9L222.7 163M228.3 157.9L231.2 152.9M228.3 157.9L231.2 163.1M228.3 157.9L231.1 152.8M228.3 157.9L231.1 163M251.8 195.6L249.1 191.1M251.8 195.6L249.1 200.9M251.8 195.6L248.9 190.7M251.8 195.6L248.9 200.4M251.8 195.6L257.4 190.9M251.8 195.6L257.4 200.6M262.3 157.9L256.6 152.8M262.3 157.9L256.6 163M262.3 157.9L265.2 152.9M262.3 157.9L265.2 163.1M262.3 157.9L264.9 152.8M262.3 157.9L264.9 163M285.7 195.6L283.1 191.1M285.7 195.6L283.1 200.9M285.7 195.6L282.7 190.7M285.7 195.6L282.7 200.4M285.7 195.6L291.4 190.9M285.7 195.6L291.4 200.6M296.2 157.9L290.5 152.8M296.2 157.9L290.5 163M296.2 157.9L299.3 152.9M296.2 157.9L299.3 163.1M296.2 157.9L298.7 152.8M296.2 157.9L298.7 163M319.7 195.6L317.2 191.1M319.7 195.6L317.2 200.9M319.7 195.6L316.5 190.7M319.7 195.6L316.5 200.4M319.7 195.6L325.3 190.9M319.7 195.6L325.3 200.6M330.1 157.9L324.5 152.8M330.1 157.9L324.5 163M330.1 157.9L333.4 152.9M330.1 157.9L333.4 163.1M330.1 157.9L332.5 152.8M330.1 157.9L332.5 163M353.6 195.6L351.2 191.1M353.6 195.6L351.2 200.9M353.6 195.6L350.3 190.7M353.6 195.6L350.3 200.4M353.6 195.6L359.2 190.9M353.6 195.6L359.2 200.6M364.1 157.9L358.4 152.8M364.1 157.9L358.4 163M364.1 157.9L367.4 152.9M364.1 157.9L367.4 163.1M364.1 157.9L366.4 152.8M364.1 157.9L366.4 163M387.5 195.6L385.3 191.1M387.5 195.6L385.3 200.9M387.5 195.6L384.1 190.7M387.5 195.6L384.1 200.4"/>
<path class="y" stroke-width="2.8" d="M163.9 191.1L161.3 186.1M163.9 200.9L161.3 205.7M164.4 190.7L161.3 186.1M164.4 200.4L161.3 205.7M180.1 152.9L183.1 147.7M180.1 163.1L183.1 168.1M189.6 190.9L195.2 186.1M189.6 200.6L195.2 205.7M180.4 152.8L183.1 147.7M180.4 163L183.1 168.1M198 191.1L195.2 186.1M198 200.9L195.2 205.7M188.7 152.8L183.1 147.7M188.7 163L183.1 168.1M198.2 190.7L195.2 186.1M198.2 200.4L195.2 205.7M214.1 152.9L217 147.7M214.1 163.1L217 168.1M223.5 190.9L229.2 186.1M223.5 200.6L229.2 205.7M214.2 152.8L217 147.7M214.2 163L217 168.1M232 191.1L229.2 186.1M232 200.9L229.2 205.7M222.7 152.8L217 147.7M222.7 163L217 168.1M232 190.7L229.2 186.1M232 200.4L229.2 205.7M248.2 152.9L250.9 147.7M248.2 163.1L250.9 168.1M257.4 190.9L263.1 186.1M257.4 200.6L263.1 205.7M248 152.8L250.9 147.7M248 163L250.9 168.1M266.1 191.1L263.1 186.1M266.1 200.9L263.1 205.7M256.6 152.8L250.9 147.7M256.6 163L250.9 168.1M265.8 190.7L263.1 186.1M265.8 200.4L263.1 205.7M282.3 152.9L284.9 147.7M282.3 163.1L284.9 168.1M291.4 190.9L297 186.1M291.4 200.6L297 205.7M281.8 152.8L284.9 147.7M281.8 163L284.9 168.1M300.1 191.1L297 186.1M300.1 200.9L297 205.7M290.5 152.8L284.9 147.7M290.5 163L284.9 168.1M299.6 190.7L297 186.1M299.6 200.4L297 205.7M316.3 152.9L318.8 147.7M316.3 163.1L318.8 168.1M325.3 190.9L331 186.1M325.3 200.6L331 205.7M315.6 152.8L318.8 147.7M315.6 163L318.8 168.1M334.2 191.1L331 186.1M334.2 200.9L331 205.7M324.5 152.8L318.8 147.7M324.5 163L318.8 168.1M333.4 190.7L331 186.1M333.4 200.4L331 205.7M350.4 152.9L352.7 147.7M350.4 163.1L352.7 168.1M359.2 190.9L364.9 186.1M359.2 200.6L364.9 205.7M349.4 152.8L352.7 147.7M349.4 163L352.7 168.1M368.3 191.1L364.9 186.1M368.3 200.9L364.9 205.7M358.4 152.8L352.7 147.7M358.4 163L352.7 168.1M367.2 190.7L364.9 186.1M367.2 200.4L364.9 205.7M384.5 152.9L386.7 147.7M384.5 163.1L386.7 168.1M383.3 152.8L386.7 147.7M383.3 163L386.7 168.1"/>
<circle class="mb" cx="160.5" cy="157.9" r="3.7"/>
<circle class="sb" cx="161.3" cy="186.1" r="2.7"/>
<circle class="sb" cx="161.3" cy="205.7" r="2.7"/>
<circle class="sb" cx="183.1" cy="147.7" r="2.7"/>
<circle class="sb" cx="183.1" cy="168.1" r="2.7"/>
<circle class="mb" cx="183.9" cy="195.6" r="3.7"/>
<circle class="mb" cx="194.4" cy="157.9" r="3.7"/>
<circle class="sb" cx="195.2" cy="186.1" r="2.7"/>
<circle class="sb" cx="195.2" cy="205.7" r="2.7"/>
<circle class="sb" cx="217" cy="147.7" r="2.7"/>
<circle class="sb" cx="217" cy="168.1" r="2.7"/>
<circle class="mb" cx="217.9" cy="195.6" r="3.7"/>
<circle class="mb" cx="228.3" cy="157.9" r="3.7"/>
<circle class="sb" cx="229.2" cy="186.1" r="2.7"/>
<circle class="sb" cx="229.2" cy="205.7" r="2.7"/>
<circle class="sb" cx="250.9" cy="147.7" r="2.7"/>
<circle class="sb" cx="250.9" cy="168.1" r="2.7"/>
<circle class="mb" cx="251.8" cy="195.6" r="3.7"/>
<circle class="mb" cx="262.3" cy="157.9" r="3.7"/>
<circle class="sb" cx="263.1" cy="186.1" r="2.7"/>
<circle class="sb" cx="263.1" cy="205.7" r="2.7"/>
<circle class="sb" cx="284.9" cy="147.7" r="2.7"/>
<circle class="sb" cx="284.9" cy="168.1" r="2.7"/>
<circle class="mb" cx="285.7" cy="195.6" r="3.7"/>
<circle class="mb" cx="296.2" cy="157.9" r="3.7"/>
<circle class="sb" cx="297" cy="186.1" r="2.7"/>
<circle class="sb" cx="297" cy="205.7" r="2.7"/>
<circle class="sb" cx="318.8" cy="147.7" r="2.7"/>
<circle class="sb" cx="318.8" cy="168.1" r="2.7"/>
<circle class="mb" cx="319.7" cy="195.6" r="3.7"/>
<circle class="mb" cx="330.1" cy="157.9" r="3.7"/>
<circle class="sb" cx="331" cy="186.1" r="2.7"/>
<circle class="sb" cx="331" cy="205.7" r="2.7"/>
<circle class="sb" cx="352.7" cy="147.7" r="2.7"/>
<circle class="sb" cx="352.7" cy="168.1" r="2.7"/>
<circle class="mb" cx="353.6" cy="195.6" r="3.7"/>
<circle class="mb" cx="364.1" cy="157.9" r="3.7"/>
<circle class="sb" cx="364.9" cy="186.1" r="2.7"/>
<circle class="sb" cx="364.9" cy="205.7" r="2.7"/>
<circle class="sb" cx="386.7" cy="147.7" r="2.7"/>
<circle class="sb" cx="386.7" cy="168.1" r="2.7"/>
<circle class="mb" cx="387.5" cy="195.6" r="3.7"/>
<path class="p" stroke-width="2.8" d="M166.5 196L163.4 191.4M166.5 196L163.4 201.3M166.5 196L163.9 191.1M166.5 196L163.9 200.9M166.5 196L172.2 191.2M166.5 196L172.2 201.1M177.1 158L171.4 152.9M177.1 158L171.4 163.2M177.1 158L179.7 152.9M177.1 158L179.7 163.2M177.1 158L180.1 152.9M177.1 158L180.1 163.1M200.7 196L197.8 191.4M200.7 196L197.8 201.3M200.7 196L198 191.1M200.7 196L198 200.9M200.7 196L206.4 191.2M200.7 196L206.4 201.1M211.3 158L205.6 152.9M211.3 158L205.6 163.2M211.3 158L214.1 152.9M211.3 158L214.1 163.2M211.3 158L214.1 152.9M211.3 158L214.1 163.1M234.9 196L232.1 191.4M234.9 196L232.1 201.3M234.9 196L232 191.1M234.9 196L232 200.9M234.9 196L240.6 191.2M234.9 196L240.6 201.1M245.4 158L239.7 152.9M245.4 158L239.7 163.2M245.4 158L248.4 152.9M245.4 158L248.4 163.2M245.4 158L248.2 152.9M245.4 158L248.2 163.1M269.1 196L266.4 191.4M269.1 196L266.4 201.3M269.1 196L266.1 191.1M269.1 196L266.1 200.9M269.1 196L274.8 191.2M269.1 196L274.8 201.1M279.6 158L273.9 152.9M279.6 158L273.9 163.2M279.6 158L282.7 152.9M279.6 158L282.7 163.2M279.6 158L282.3 152.9M279.6 158L282.3 163.1M303.3 196L300.7 191.4M303.3 196L300.7 201.3M303.3 196L300.1 191.1M303.3 196L300.1 200.9M303.3 196L309 191.2M303.3 196L309 201.1M313.8 158L308.1 152.9M313.8 158L308.1 163.2M313.8 158L317 152.9M313.8 158L317 163.2M313.8 158L316.3 152.9M313.8 158L316.3 163.1M337.5 196L335 191.4M337.5 196L335 201.3M337.5 196L334.2 191.1M337.5 196L334.2 200.9M337.5 196L343.2 191.2M337.5 196L343.2 201.1M348 158L342.3 152.9M348 158L342.3 163.2M348 158L351.3 152.9M348 158L351.3 163.2M348 158L350.4 152.9M348 158L350.4 163.1M371.7 196L369.4 191.4M371.7 196L369.4 201.3M371.7 196L368.3 191.1M371.7 196L368.3 200.9M371.7 196L377.4 191.2M371.7 196L377.4 201.1M382.2 158L376.5 152.9M382.2 158L376.5 163.2M382.2 158L385.7 152.9M382.2 158L385.7 163.2M382.2 158L384.5 152.9M382.2 158L384.5 163.1"/>
<path class="y" stroke-width="2.8" d="M162.6 152.9L165.7 147.8M162.6 163.2L165.7 168.3M172.2 191.2L177.9 186.4M172.2 201.1L177.9 206.1M163 152.9L165.7 147.8M163 163.1L165.7 168.3M180.6 191.4L177.9 186.4M180.6 201.3L177.9 206.1M171.4 152.9L165.7 147.8M171.4 163.2L165.7 168.3M180.9 191.1L177.9 186.4M180.9 200.9L177.9 206.1M196.9 152.9L199.9 147.8M196.9 163.2L199.9 168.3M206.4 191.2L212.1 186.4M206.4 201.1L212.1 206.1M197.1 152.9L199.9 147.8M197.1 163.1L199.9 168.3M214.9 191.4L212.1 186.4M214.9 201.3L212.1 206.1M205.6 152.9L199.9 147.8M205.6 163.2L199.9 168.3M215 191.1L212.1 186.4M215 200.9L212.1 206.1M231.2 152.9L234 147.8M231.2 163.2L234 168.3M240.6 191.2L246.3 186.4M240.6 201.1L246.3 206.1M231.2 152.9L234 147.8M231.2 163.1L234 168.3M249.2 191.4L246.3 186.4M249.2 201.3L246.3 206.1M239.7 152.9L234 147.8M239.7 163.2L234 168.3M249.1 191.1L246.3 186.4M249.1 200.9L246.3 206.1M265.5 152.9L268.2 147.8M265.5 163.2L268.2 168.3M274.8 191.2L280.5 186.4M274.8 201.1L280.5 206.1M265.2 152.9L268.2 147.8M265.2 163.1L268.2 168.3M283.6 191.4L280.5 186.4M283.6 201.3L280.5 206.1M273.9 152.9L268.2 147.8M273.9 163.2L268.2 168.3M283.1 191.1L280.5 186.4M283.1 200.9L280.5 206.1M299.9 152.9L302.4 147.8M299.9 163.2L302.4 168.3M309 191.2L314.7 186.4M309 201.1L314.7 206.1M299.3 152.9L302.4 147.8M299.3 163.1L302.4 168.3M317.9 191.4L314.7 186.4M317.9 201.3L314.7 206.1M308.1 152.9L302.4 147.8M308.1 163.2L302.4 168.3M317.2 191.1L314.7 186.4M317.2 200.9L314.7 206.1M334.2 152.9L336.6 147.8M334.2 163.2L336.6 168.3M343.2 191.2L348.9 186.4M343.2 201.1L348.9 206.1M333.4 152.9L336.6 147.8M333.4 163.1L336.6 168.3M352.2 191.4L348.9 186.4M352.2 201.3L348.9 206.1M342.3 152.9L336.6 147.8M342.3 163.2L336.6 168.3M351.2 191.1L348.9 186.4M351.2 200.9L348.9 206.1M368.5 152.9L370.8 147.8M368.5 163.2L370.8 168.3M377.4 191.2L383.1 186.4M377.4 201.1L383.1 206.1M367.4 152.9L370.8 147.8M367.4 163.1L370.8 168.3M386.5 191.4L383.1 186.4M386.5 201.3L383.1 206.1M376.5 152.9L370.8 147.8M376.5 163.2L370.8 168.3M385.3 191.1L383.1 186.4M385.3 200.9L383.1 206.1"/>
<circle class="sb" cx="165.7" cy="147.8" r="2.7"/>
<circle class="sb" cx="165.7" cy="168.3" r="2.7"/>
<circle class="mb" cx="166.5" cy="196" r="3.8"/>
<circle class="mb" cx="177.1" cy="158" r="3.8"/>
<circle class="sb" cx="177.9" cy="186.4" r="2.7"/>
<circle class="sb" cx="177.9" cy="206.1" r="2.7"/>
<circle class="sb" cx="199.9" cy="147.8" r="2.7"/>
<circle class="sb" cx="199.9" cy="168.3" r="2.7"/>
<circle class="mb" cx="200.7" cy="196" r="3.8"/>
<circle class="mb" cx="211.3" cy="158" r="3.8"/>
<circle class="sb" cx="212.1" cy="186.4" r="2.7"/>
<circle class="sb" cx="212.1" cy="206.1" r="2.7"/>
<circle class="sb" cx="234" cy="147.8" r="2.7"/>
<circle class="sb" cx="234" cy="168.3" r="2.7"/>
<circle class="mb" cx="234.9" cy="196" r="3.8"/>
<circle class="mb" cx="245.4" cy="158" r="3.8"/>
<circle class="sb" cx="246.3" cy="186.4" r="2.7"/>
<circle class="sb" cx="246.3" cy="206.1" r="2.7"/>
<circle class="sb" cx="268.2" cy="147.8" r="2.7"/>
<circle class="sb" cx="268.2" cy="168.3" r="2.7"/>
<circle class="mb" cx="269.1" cy="196" r="3.8"/>
<circle class="mb" cx="279.6" cy="158" r="3.8"/>
<circle class="sb" cx="280.5" cy="186.4" r="2.7"/>
<circle class="sb" cx="280.5" cy="206.1" r="2.7"/>
<circle class="sb" cx="302.4" cy="147.8" r="2.7"/>
<circle class="sb" cx="302.4" cy="168.3" r="2.7"/>
<circle class="mb" cx="303.3" cy="196" r="3.8"/>
<circle class="mb" cx="313.8" cy="158" r="3.8"/>
<circle class="sb" cx="314.7" cy="186.4" r="2.7"/>
<circle class="sb" cx="314.7" cy="206.1" r="2.7"/>
<circle class="sb" cx="336.6" cy="147.8" r="2.7"/>
<circle class="sb" cx="336.6" cy="168.3" r="2.7"/>
<circle class="mb" cx="337.5" cy="196" r="3.8"/>
<circle class="mb" cx="348" cy="158" r="3.8"/>
<circle class="sb" cx="348.9" cy="186.4" r="2.7"/>
<circle class="sb" cx="348.9" cy="206.1" r="2.7"/>
<circle class="sb" cx="370.8" cy="147.8" r="2.7"/>
<circle class="sb" cx="370.8" cy="168.3" r="2.7"/>
<circle class="mb" cx="371.7" cy="196" r="3.8"/>
<circle class="mb" cx="382.2" cy="158" r="3.8"/>
<circle class="sb" cx="383.1" cy="186.4" r="2.7"/>
<circle class="sb" cx="383.1" cy="206.1" r="2.7"/>
<path class="p" stroke-width="2.8" d="M159.5 158.1L162.1 153M159.5 158.1L162.1 163.4M159.5 158.1L162.6 152.9M159.5 158.1L162.6 163.2M183.3 196.4L180.3 191.8M183.3 196.4L180.3 201.7M183.3 196.4L180.6 191.4M183.3 196.4L180.6 201.3M183.3 196.4L189 191.6M183.3 196.4L189 201.5M193.9 158.1L188.2 153M193.9 158.1L188.2 163.3M193.9 158.1L196.7 153M193.9 158.1L196.7 163.4M193.9 158.1L196.9 152.9M193.9 158.1L196.9 163.2M217.7 196.4L214.8 191.8M217.7 196.4L214.8 201.7M217.7 196.4L214.9 191.4M217.7 196.4L214.9 201.3M217.7 196.4L223.5 191.6M217.7 196.4L223.5 201.5M228.4 158.1L222.6 153M228.4 158.1L222.6 163.3M228.4 158.1L231.3 153M228.4 158.1L231.3 163.4M228.4 158.1L231.2 152.9M228.4 158.1L231.2 163.2M252.2 196.4L249.4 191.8M252.2 196.4L249.4 201.7M252.2 196.4L249.2 191.4M252.2 196.4L249.2 201.3M252.2 196.4L257.9 191.6M252.2 196.4L257.9 201.5M262.8 158.1L257.1 153M262.8 158.1L257.1 163.3M262.8 158.1L265.9 153M262.8 158.1L265.9 163.4M262.8 158.1L265.5 152.9M262.8 158.1L265.5 163.2M286.7 196.4L284 191.8M286.7 196.4L284 201.7M286.7 196.4L283.6 191.4M286.7 196.4L283.6 201.3M286.7 196.4L292.4 191.6M286.7 196.4L292.4 201.5M297.3 158.1L291.5 153M297.3 158.1L291.5 163.3M297.3 158.1L300.4 153M297.3 158.1L300.4 163.4M297.3 158.1L299.9 152.9M297.3 158.1L299.9 163.2M321.1 196.4L318.6 191.8M321.1 196.4L318.6 201.7M321.1 196.4L317.9 191.4M321.1 196.4L317.9 201.3M321.1 196.4L326.8 191.6M321.1 196.4L326.8 201.5M331.7 158.1L326 153M331.7 158.1L326 163.3M331.7 158.1L335 153M331.7 158.1L335 163.4M331.7 158.1L334.2 152.9M331.7 158.1L334.2 163.2M355.6 196.4L353.2 191.8M355.6 196.4L353.2 201.7M355.6 196.4L352.2 191.4M355.6 196.4L352.2 201.3M355.6 196.4L361.3 191.6M355.6 196.4L361.3 201.5M366.2 158.1L360.4 153M366.2 158.1L360.4 163.3M366.2 158.1L369.6 153M366.2 158.1L369.6 163.4M366.2 158.1L368.5 152.9M366.2 158.1L368.5 163.2M390 196.4L387.8 191.8M390 196.4L387.8 201.7M390 196.4L386.5 191.4M390 196.4L386.5 201.3"/>
<path class="y" stroke-width="2.8" d="M163 191.8L160.3 186.8M163 201.7L160.3 206.6M163.4 191.4L160.3 186.8M163.4 201.3L160.3 206.6M179.4 153L182.4 147.8M179.4 163.4L182.4 168.5M189 191.6L194.8 186.8M189 201.5L194.8 206.6M179.7 152.9L182.4 147.8M179.7 163.2L182.4 168.5M197.5 191.8L194.8 186.8M197.5 201.7L194.8 206.6M188.2 153L182.4 147.8M188.2 163.3L182.4 168.5M197.8 191.4L194.8 186.8M197.8 201.3L194.8 206.6M214 153L216.9 147.8M214 163.4L216.9 168.5M223.5 191.6L229.2 186.8M223.5 201.5L229.2 206.6M214.1 152.9L216.9 147.8M214.1 163.2L216.9 168.5M232.1 191.8L229.2 186.8M232.1 201.7L229.2 206.6M222.6 153L216.9 147.8M222.6 163.3L216.9 168.5M232.1 191.4L229.2 186.8M232.1 201.3L229.2 206.6M248.6 153L251.3 147.8M248.6 163.4L251.3 168.5M257.9 191.6L263.7 186.8M257.9 201.5L263.7 206.6M248.4 152.9L251.3 147.8M248.4 163.2L251.3 168.5M266.7 191.8L263.7 186.8M266.7 201.7L263.7 206.6M257.1 153L251.3 147.8M257.1 163.3L251.3 168.5M266.4 191.4L263.7 186.8M266.4 201.3L263.7 206.6M283.1 153L285.8 147.8M283.1 163.4L285.8 168.5M292.4 191.6L298.1 186.8M292.4 201.5L298.1 206.6M282.7 152.9L285.8 147.8M282.7 163.2L285.8 168.5M301.3 191.8L298.1 186.8M301.3 201.7L298.1 206.6M291.5 153L285.8 147.8M291.5 163.3L285.8 168.5M300.7 191.4L298.1 186.8M300.7 201.3L298.1 206.6M317.7 153L320.2 147.8M317.7 163.4L320.2 168.5M326.8 191.6L332.6 186.8M326.8 201.5L332.6 206.6M317 152.9L320.2 147.8M317 163.2L320.2 168.5M335.9 191.8L332.6 186.8M335.9 201.7L332.6 206.6M326 153L320.2 147.8M326 163.3L320.2 168.5M335 191.4L332.6 186.8M335 201.3L332.6 206.6M352.3 153L354.7 147.8M352.3 163.4L354.7 168.5M361.3 191.6L367 186.8M361.3 201.5L367 206.6M351.3 152.9L354.7 147.8M351.3 163.2L354.7 168.5M370.5 191.8L367 186.8M370.5 201.7L367 206.6M360.4 153L354.7 147.8M360.4 163.3L354.7 168.5M369.4 191.4L367 186.8M369.4 201.3L367 206.6M386.9 153L389.2 147.8M386.9 163.4L389.2 168.5M385.7 152.9L389.2 147.8M385.7 163.2L389.2 168.5"/>
<circle class="mb" cx="159.5" cy="158.1" r="3.8"/>
<circle class="sb" cx="160.3" cy="186.8" r="2.7"/>
<circle class="sb" cx="160.3" cy="206.6" r="2.7"/>
<circle class="sb" cx="182.4" cy="147.8" r="2.7"/>
<circle class="sb" cx="182.4" cy="168.5" r="2.7"/>
<circle class="mb" cx="183.3" cy="196.4" r="3.8"/>
<circle class="mb" cx="193.9" cy="158.1" r="3.8"/>
<circle class="sb" cx="194.8" cy="186.8" r="2.7"/>
<circle class="sb" cx="194.8" cy="206.6" r="2.7"/>
<circle class="sb" cx="216.9" cy="147.8" r="2.7"/>
<circle class="sb" cx="216.9" cy="168.5" r="2.7"/>
<circle class="mb" cx="217.7" cy="196.4" r="3.8"/>
<circle class="mb" cx="228.4" cy="158.1" r="3.8"/>
<circle class="sb" cx="229.2" cy="186.8" r="2.7"/>
<circle class="sb" cx="229.2" cy="206.6" r="2.7"/>
<circle class="sb" cx="251.3" cy="147.8" r="2.7"/>
<circle class="sb" cx="251.3" cy="168.5" r="2.7"/>
<circle class="mb" cx="252.2" cy="196.4" r="3.8"/>
<circle class="mb" cx="262.8" cy="158.1" r="3.8"/>
<circle class="sb" cx="263.7" cy="186.8" r="2.7"/>
<circle class="sb" cx="263.7" cy="206.6" r="2.7"/>
<circle class="sb" cx="285.8" cy="147.8" r="2.7"/>
<circle class="sb" cx="285.8" cy="168.5" r="2.7"/>
<circle class="mb" cx="286.7" cy="196.4" r="3.8"/>
<circle class="mb" cx="297.3" cy="158.1" r="3.8"/>
<circle class="sb" cx="298.1" cy="186.8" r="2.7"/>
<circle class="sb" cx="298.1" cy="206.6" r="2.7"/>
<circle class="sb" cx="320.2" cy="147.8" r="2.7"/>
<circle class="sb" cx="320.2" cy="168.5" r="2.7"/>
<circle class="mb" cx="321.1" cy="196.4" r="3.8"/>
<circle class="mb" cx="331.7" cy="158.1" r="3.8"/>
<circle class="sb" cx="332.6" cy="186.8" r="2.7"/>
<circle class="sb" cx="332.6" cy="206.6" r="2.7"/>
<circle class="sb" cx="354.7" cy="147.8" r="2.7"/>
<circle class="sb" cx="354.7" cy="168.5" r="2.7"/>
<circle class="mb" cx="355.6" cy="196.4" r="3.8"/>
<circle class="mb" cx="366.2" cy="158.1" r="3.8"/>
<circle class="sb" cx="367" cy="186.8" r="2.7"/>
<circle class="sb" cx="367" cy="206.6" r="2.7"/>
<circle class="sb" cx="389.2" cy="147.8" r="2.7"/>
<circle class="sb" cx="389.2" cy="168.5" r="2.7"/>
<circle class="mb" cx="390" cy="196.4" r="3.8"/>
<path class="p" stroke-width="2.9" d="M165.6 196.8L162.5 192.2M165.6 196.8L162.5 202.2M165.6 196.8L163 191.8M165.6 196.8L163 201.7M165.6 196.8L171.4 192M165.6 196.8L171.4 202M176.3 158.3L170.5 153M176.3 158.3L170.5 163.5M176.3 158.3L179 153.1M176.3 158.3L179 163.5M176.3 158.3L179.4 153M176.3 158.3L179.4 163.4M200.3 196.8L197.3 192.2M200.3 196.8L197.3 202.2M200.3 196.8L197.5 191.8M200.3 196.8L197.5 201.7M200.3 196.8L206.1 192M200.3 196.8L206.1 202M211 158.3L205.3 153M211 158.3L205.3 163.5M211 158.3L213.9 153.1M211 158.3L213.9 163.5M211 158.3L214 153M211 158.3L214 163.4M235.1 196.8L232.2 192.2M235.1 196.8L232.2 202.2M235.1 196.8L232.1 191.8M235.1 196.8L232.1 201.7M235.1 196.8L240.8 192M235.1 196.8L240.8 202M245.8 158.3L240 153M245.8 158.3L240 163.5M245.8 158.3L248.7 153.1M245.8 158.3L248.7 163.5M245.8 158.3L248.6 153M245.8 158.3L248.6 163.4M269.8 196.8L267 192.2M269.8 196.8L267 202.2M269.8 196.8L266.7 191.8M269.8 196.8L266.7 201.7M269.8 196.8L275.6 192M269.8 196.8L275.6 202M280.5 158.3L274.7 153M280.5 158.3L274.7 163.5M280.5 158.3L283.6 153.1M280.5 158.3L283.6 163.5M280.5 158.3L283.1 153M280.5 158.3L283.1 163.4M304.5 196.8L301.9 192.2M304.5 196.8L301.9 202.2M304.5 196.8L301.3 191.8M304.5 196.8L301.3 201.7M304.5 196.8L310.3 192M304.5 196.8L310.3 202M315.2 158.3L309.4 153M315.2 158.3L309.4 163.5M315.2 158.3L318.4 153.1M315.2 158.3L318.4 163.5M315.2 158.3L317.7 153M315.2 158.3L317.7 163.4M339.2 196.8L336.7 192.2M339.2 196.8L336.7 202.2M339.2 196.8L335.9 191.8M339.2 196.8L335.9 201.7M339.2 196.8L345 192M339.2 196.8L345 202M349.9 158.3L344.1 153M349.9 158.3L344.1 163.5M349.9 158.3L353.3 153.1M349.9 158.3L353.3 163.5M349.9 158.3L352.3 153M349.9 158.3L352.3 163.4M373.9 196.8L371.6 192.2M373.9 196.8L371.6 202.2M373.9 196.8L370.5 191.8M373.9 196.8L370.5 201.7M373.9 196.8L379.7 192M373.9 196.8L379.7 202M384.6 158.3L378.8 153M384.6 158.3L378.8 163.5M384.6 158.3L388.2 153.1M384.6 158.3L388.2 163.5M384.6 158.3L386.9 153M384.6 158.3L386.9 163.4"/>
<path class="y" stroke-width="2.9" d="M161.6 153.1L164.7 147.8M161.6 163.5L164.7 168.7M171.4 192L177.2 187.1M171.4 202L177.2 207.1M162.1 153L164.7 147.8M162.1 163.4L164.7 168.7M179.9 192.2L177.2 187.1M179.9 202.2L177.2 207.1M170.5 153L164.7 147.8M170.5 163.5L164.7 168.7M180.3 191.8L177.2 187.1M180.3 201.7L177.2 207.1M196.5 153.1L199.5 147.8M196.5 163.5L199.5 168.7M206.1 192L211.9 187.1M206.1 202L211.9 207.1M196.7 153L199.5 147.8M196.7 163.4L199.5 168.7M214.8 192.2L211.9 187.1M214.8 202.2L211.9 207.1M205.3 153L199.5 147.8M205.3 163.5L199.5 168.7M214.8 191.8L211.9 187.1M214.8 201.7L211.9 207.1M231.3 153.1L234.2 147.8M231.3 163.5L234.2 168.7M240.8 192L246.6 187.1M240.8 202L246.6 207.1M231.3 153L234.2 147.8M231.3 163.4L234.2 168.7M249.6 192.2L246.6 187.1M249.6 202.2L246.6 207.1M240 153L234.2 147.8M240 163.5L234.2 168.7M249.4 191.8L246.6 187.1M249.4 201.7L246.6 207.1M266.2 153.1L268.9 147.8M266.2 163.5L268.9 168.7M275.6 192L281.3 187.1M275.6 202L281.3 207.1M265.9 153L268.9 147.8M265.9 163.4L268.9 168.7M284.5 192.2L281.3 187.1M284.5 202.2L281.3 207.1M274.7 153L268.9 147.8M274.7 163.5L268.9 168.7M284 191.8L281.3 187.1M284 201.7L281.3 207.1M301 153.1L303.6 147.8M301 163.5L303.6 168.7M310.3 192L316.1 187.1M310.3 202L316.1 207.1M300.4 153L303.6 147.8M300.4 163.4L303.6 168.7M319.3 192.2L316.1 187.1M319.3 202.2L316.1 207.1M309.4 153L303.6 147.8M309.4 163.5L303.6 168.7M318.6 191.8L316.1 187.1M318.6 201.7L316.1 207.1M335.9 153.1L338.3 147.8M335.9 163.5L338.3 168.7M345 192L350.8 187.1M345 202L350.8 207.1M335 153L338.3 147.8M335 163.4L338.3 168.7M354.2 192.2L350.8 187.1M354.2 202.2L350.8 207.1M344.1 153L338.3 147.8M344.1 163.5L338.3 168.7M353.2 191.8L350.8 187.1M353.2 201.7L350.8 207.1M370.7 153.1L373.1 147.8M370.7 163.5L373.1 168.7M379.7 192L385.5 187.1M379.7 202L385.5 207.1M369.6 153L373.1 147.8M369.6 163.4L373.1 168.7M389 192.2L385.5 187.1M389 202.2L385.5 207.1M378.8 153L373.1 147.8M378.8 163.5L373.1 168.7M387.8 191.8L385.5 187.1M387.8 201.7L385.5 207.1"/>
<circle class="sb" cx="164.7" cy="147.8" r="2.7"/>
<circle class="sb" cx="164.7" cy="168.7" r="2.7"/>
<circle class="mb" cx="165.6" cy="196.8" r="3.8"/>
<circle class="mb" cx="176.3" cy="158.3" r="3.8"/>
<circle class="sb" cx="177.2" cy="187.1" r="2.7"/>
<circle class="sb" cx="177.2" cy="207.1" r="2.7"/>
<circle class="sb" cx="199.5" cy="147.8" r="2.7"/>
<circle class="sb" cx="199.5" cy="168.7" r="2.7"/>
<circle class="mb" cx="200.3" cy="196.8" r="3.8"/>
<circle class="mb" cx="211" cy="158.3" r="3.8"/>
<circle class="sb" cx="211.9" cy="187.1" r="2.7"/>
<circle class="sb" cx="211.9" cy="207.1" r="2.7"/>
<circle class="sb" cx="234.2" cy="147.8" r="2.7"/>
<circle class="sb" cx="234.2" cy="168.7" r="2.7"/>
<circle class="mb" cx="235.1" cy="196.8" r="3.8"/>
<circle class="mb" cx="245.8" cy="158.3" r="3.8"/>
<circle class="sb" cx="246.6" cy="187.1" r="2.7"/>
<circle class="sb" cx="246.6" cy="207.1" r="2.7"/>
<circle class="sb" cx="268.9" cy="147.8" r="2.7"/>
<circle class="sb" cx="268.9" cy="168.7" r="2.7"/>
<circle class="mb" cx="269.8" cy="196.8" r="3.8"/>
<circle class="mb" cx="280.5" cy="158.3" r="3.8"/>
<circle class="sb" cx="281.3" cy="187.1" r="2.7"/>
<circle class="sb" cx="281.3" cy="207.1" r="2.7"/>
<circle class="sb" cx="303.6" cy="147.8" r="2.7"/>
<circle class="sb" cx="303.6" cy="168.7" r="2.7"/>
<circle class="mb" cx="304.5" cy="196.8" r="3.8"/>
<circle class="mb" cx="315.2" cy="158.3" r="3.8"/>
<circle class="sb" cx="316.1" cy="187.1" r="2.7"/>
<circle class="sb" cx="316.1" cy="207.1" r="2.7"/>
<circle class="sb" cx="338.3" cy="147.8" r="2.7"/>
<circle class="sb" cx="338.3" cy="168.7" r="2.7"/>
<circle class="mb" cx="339.2" cy="196.8" r="3.8"/>
<circle class="mb" cx="349.9" cy="158.3" r="3.8"/>
<circle class="sb" cx="350.8" cy="187.1" r="2.7"/>
<circle class="sb" cx="350.8" cy="207.1" r="2.7"/>
<circle class="sb" cx="373.1" cy="147.8" r="2.7"/>
<circle class="sb" cx="373.1" cy="168.7" r="2.7"/>
<circle class="mb" cx="373.9" cy="196.8" r="3.8"/>
<circle class="mb" cx="384.6" cy="158.3" r="3.8"/>
<circle class="sb" cx="385.5" cy="187.1" r="2.7"/>
<circle class="sb" cx="385.5" cy="207.1" r="2.7"/>
<path class="p" stroke-width="2.9" d="M158.4 158.4L161.1 153.1M158.4 158.4L161.1 163.7M158.4 158.4L161.6 153.1M158.4 158.4L161.6 163.5M182.6 197.2L179.6 192.5M182.6 197.2L179.6 202.6M182.6 197.2L179.9 192.2M182.6 197.2L179.9 202.2M182.6 197.2L188.5 192.3M182.6 197.2L188.5 202.4M193.4 158.4L187.6 153.1M193.4 158.4L187.6 163.6M193.4 158.4L196.2 153.1M193.4 158.4L196.2 163.7M193.4 158.4L196.5 153.1M193.4 158.4L196.5 163.5M217.6 197.2L214.7 192.5M217.6 197.2L214.7 202.6M217.6 197.2L214.8 192.2M217.6 197.2L214.8 202.2M217.6 197.2L223.5 192.3M217.6 197.2L223.5 202.4M228.4 158.4L222.6 153.1M228.4 158.4L222.6 163.6M228.4 158.4L231.4 153.1M228.4 158.4L231.4 163.7M228.4 158.4L231.3 153.1M228.4 158.4L231.3 163.5M252.6 197.2L249.8 192.5M252.6 197.2L249.8 202.6M252.6 197.2L249.6 192.2M252.6 197.2L249.6 202.2M252.6 197.2L258.5 192.3M252.6 197.2L258.5 202.4M263.4 158.4L257.6 153.1M263.4 158.4L257.6 163.6M263.4 158.4L266.5 153.1M263.4 158.4L266.5 163.7M263.4 158.4L266.2 153.1M263.4 158.4L266.2 163.5M287.6 197.2L284.9 192.5M287.6 197.2L284.9 202.6M287.6 197.2L284.5 192.2M287.6 197.2L284.5 202.2M287.6 197.2L293.4 192.3M287.6 197.2L293.4 202.4M298.4 158.4L292.6 153.1M298.4 158.4L292.6 163.6M298.4 158.4L301.6 153.1M298.4 158.4L301.6 163.7M298.4 158.4L301 153.1M298.4 158.4L301 163.5M322.6 197.2L320.1 192.5M322.6 197.2L320.1 202.6M322.6 197.2L319.3 192.2M322.6 197.2L319.3 202.2M322.6 197.2L328.4 192.3M322.6 197.2L328.4 202.4M333.4 158.4L327.6 153.1M333.4 158.4L327.6 163.6M333.4 158.4L336.7 153.1M333.4 158.4L336.7 163.7M333.4 158.4L335.9 153.1M333.4 158.4L335.9 163.5M357.6 197.2L355.2 192.5M357.6 197.2L355.2 202.6M357.6 197.2L354.2 192.2M357.6 197.2L354.2 202.2M357.6 197.2L363.4 192.3M357.6 197.2L363.4 202.4M368.4 158.4L362.5 153.1M368.4 158.4L362.5 163.6M368.4 158.4L371.9 153.1M368.4 158.4L371.9 163.7M368.4 158.4L370.7 153.1M368.4 158.4L370.7 163.5M392.6 197.2L390.3 192.5M392.6 197.2L390.3 202.6M392.6 197.2L389 192.2M392.6 197.2L389 202.2"/>
<path class="y" stroke-width="2.9" d="M162 192.5L159.3 187.4M162 202.6L159.3 207.6M162.5 192.2L159.3 187.4M162.5 202.2L159.3 207.6M178.7 153.1L181.8 147.9M178.7 163.7L181.8 168.9M188.5 192.3L194.3 187.4M188.5 202.4L194.3 207.6M179 153.1L181.8 147.9M179 163.5L181.8 168.9M197.1 192.5L194.3 187.4M197.1 202.6L194.3 207.6M187.6 153.1L181.8 147.9M187.6 163.6L181.8 168.9M197.3 192.2L194.3 187.4M197.3 202.2L194.3 207.6M213.8 153.1L216.8 147.9M213.8 163.7L216.8 168.9M223.5 192.3L229.3 187.4M223.5 202.4L229.3 207.6M213.9 153.1L216.8 147.9M213.9 163.5L216.8 168.9M232.2 192.5L229.3 187.4M232.2 202.6L229.3 207.6M222.6 153.1L216.8 147.9M222.6 163.6L216.8 168.9M232.2 192.2L229.3 187.4M232.2 202.2L229.3 207.6M248.9 153.1L251.7 147.9M248.9 163.7L251.7 168.9M258.5 192.3L264.3 187.4M258.5 202.4L264.3 207.6M248.7 153.1L251.7 147.9M248.7 163.5L251.7 168.9M267.4 192.5L264.3 187.4M267.4 202.6L264.3 207.6M257.6 153.1L251.7 147.9M257.6 163.6L251.7 168.9M267 192.2L264.3 187.4M267 202.2L264.3 207.6M284.1 153.1L286.7 147.9M284.1 163.7L286.7 168.9M293.4 192.3L299.3 187.4M293.4 202.4L299.3 207.6M283.6 153.1L286.7 147.9M283.6 163.5L286.7 168.9M302.5 192.5L299.3 187.4M302.5 202.6L299.3 207.6M292.6 153.1L286.7 147.9M292.6 163.6L286.7 168.9M301.9 192.2L299.3 187.4M301.9 202.2L299.3 207.6M319.2 153.1L321.7 147.9M319.2 163.7L321.7 168.9M328.4 192.3L334.3 187.4M328.4 202.4L334.3 207.6M318.4 153.1L321.7 147.9M318.4 163.5L321.7 168.9M337.6 192.5L334.3 187.4M337.6 202.6L334.3 207.6M327.6 153.1L321.7 147.9M327.6 163.6L321.7 168.9M336.7 192.2L334.3 187.4M336.7 202.2L334.3 207.6M354.3 153.1L356.7 147.9M354.3 163.7L356.7 168.9M363.4 192.3L369.3 187.4M363.4 202.4L369.3 207.6M353.3 153.1L356.7 147.9M353.3 163.5L356.7 168.9M372.7 192.5L369.3 187.4M372.7 202.6L369.3 207.6M362.5 153.1L356.7 147.9M362.5 163.6L356.7 168.9M371.6 192.2L369.3 187.4M371.6 202.2L369.3 207.6M389.4 153.1L391.7 147.9M389.4 163.7L391.7 168.9M388.2 153.1L391.7 147.9M388.2 163.5L391.7 168.9"/>
<circle class="mb" cx="158.4" cy="158.4" r="3.9"/>
<circle class="sb" cx="159.3" cy="187.4" r="2.8"/>
<circle class="sb" cx="159.3" cy="207.6" r="2.8"/>
<circle class="sb" cx="181.8" cy="147.9" r="2.8"/>
<circle class="sb" cx="181.8" cy="168.9" r="2.8"/>
<circle class="mb" cx="182.6" cy="197.2" r="3.9"/>
<circle class="mb" cx="193.4" cy="158.4" r="3.9"/>
<circle class="sb" cx="194.3" cy="187.4" r="2.8"/>
<circle class="sb" cx="194.3" cy="207.6" r="2.8"/>
<circle class="sb" cx="216.8" cy="147.9" r="2.8"/>
<circle class="sb" cx="216.8" cy="168.9" r="2.8"/>
<circle class="mb" cx="217.6" cy="197.2" r="3.9"/>
<circle class="mb" cx="228.4" cy="158.4" r="3.9"/>
<circle class="sb" cx="229.3" cy="187.4" r="2.8"/>
<circle class="sb" cx="229.3" cy="207.6" r="2.8"/>
<circle class="sb" cx="251.7" cy="147.9" r="2.8"/>
<circle class="sb" cx="251.7" cy="168.9" r="2.8"/>
<circle class="mb" cx="252.6" cy="197.2" r="3.9"/>
<circle class="mb" cx="263.4" cy="158.4" r="3.9"/>
<circle class="sb" cx="264.3" cy="187.4" r="2.8"/>
<circle class="sb" cx="264.3" cy="207.6" r="2.8"/>
<circle class="sb" cx="286.7" cy="147.9" r="2.8"/>
<circle class="sb" cx="286.7" cy="168.9" r="2.8"/>
<circle class="mb" cx="287.6" cy="197.2" r="3.9"/>
<circle class="mb" cx="298.4" cy="158.4" r="3.9"/>
<circle class="sb" cx="299.3" cy="187.4" r="2.8"/>
<circle class="sb" cx="299.3" cy="207.6" r="2.8"/>
<circle class="sb" cx="321.7" cy="147.9" r="2.8"/>
<circle class="sb" cx="321.7" cy="168.9" r="2.8"/>
<circle class="mb" cx="322.6" cy="197.2" r="3.9"/>
<circle class="mb" cx="333.4" cy="158.4" r="3.9"/>
<circle class="sb" cx="334.3" cy="187.4" r="2.8"/>
<circle class="sb" cx="334.3" cy="207.6" r="2.8"/>
<circle class="sb" cx="356.7" cy="147.9" r="2.8"/>
<circle class="sb" cx="356.7" cy="168.9" r="2.8"/>
<circle class="mb" cx="357.6" cy="197.2" r="3.9"/>
<circle class="mb" cx="368.4" cy="158.4" r="3.9"/>
<circle class="sb" cx="369.3" cy="187.4" r="2.8"/>
<circle class="sb" cx="369.3" cy="207.6" r="2.8"/>
<circle class="sb" cx="391.7" cy="147.9" r="2.8"/>
<circle class="sb" cx="391.7" cy="168.9" r="2.8"/>
<circle class="mb" cx="392.6" cy="197.2" r="3.9"/>
<path class="p" stroke-width="2.9" d="M164.7 197.7L161.5 192.9M164.7 197.7L161.5 203.1M164.7 197.7L162 192.5M164.7 197.7L162 202.6M164.7 197.7L170.6 192.7M164.7 197.7L170.6 202.9M175.6 158.5L169.7 153.2M175.6 158.5L169.7 163.8M175.6 158.5L178.3 153.2M175.6 158.5L178.3 163.8M175.6 158.5L178.7 153.1M175.6 158.5L178.7 163.7M199.9 197.7L196.9 192.9M199.9 197.7L196.9 203.1M199.9 197.7L197.1 192.5M199.9 197.7L197.1 202.6M199.9 197.7L205.8 192.7M199.9 197.7L205.8 202.9M210.8 158.5L204.9 153.2M210.8 158.5L204.9 163.8M210.8 158.5L213.7 153.2M210.8 158.5L213.7 163.8M210.8 158.5L213.8 153.1M210.8 158.5L213.8 163.7M235.2 197.7L232.3 192.9M235.2 197.7L232.3 203.1M235.2 197.7L232.2 192.5M235.2 197.7L232.2 202.6M235.2 197.7L241.1 192.7M235.2 197.7L241.1 202.9M246.1 158.5L240.2 153.2M246.1 158.5L240.2 163.8M246.1 158.5L249.1 153.2M246.1 158.5L249.1 163.8M246.1 158.5L248.9 153.1M246.1 158.5L248.9 163.7M270.5 197.7L267.7 192.9M270.5 197.7L267.7 203.1M270.5 197.7L267.4 192.5M270.5 197.7L267.4 202.6M270.5 197.7L276.3 192.7M270.5 197.7L276.3 202.9M281.3 158.5L275.5 153.2M281.3 158.5L275.5 163.8M281.3 158.5L284.5 153.2M281.3 158.5L284.5 163.8M281.3 158.5L284.1 153.1M281.3 158.5L284.1 163.7M305.7 197.7L303.1 192.9M305.7 197.7L303.1 203.1M305.7 197.7L302.5 192.5M305.7 197.7L302.5 202.6M305.7 197.7L311.6 192.7M305.7 197.7L311.6 202.9M316.6 158.5L310.7 153.2M316.6 158.5L310.7 163.8M316.6 158.5L319.9 153.2M316.6 158.5L319.9 163.8M316.6 158.5L319.2 153.1M316.6 158.5L319.2 163.7M341 197.7L338.5 192.9M341 197.7L338.5 203.1M341 197.7L337.6 192.5M341 197.7L337.6 202.6M341 197.7L346.9 192.7M341 197.7L346.9 202.9M351.9 158.5L346 153.2M351.9 158.5L346 163.8M351.9 158.5L355.3 153.2M351.9 158.5L355.3 163.8M351.9 158.5L354.3 153.1M351.9 158.5L354.3 163.7M376.3 197.7L373.9 192.9M376.3 197.7L373.9 203.1M376.3 197.7L372.7 192.5M376.3 197.7L372.7 202.6M376.3 197.7L382.1 192.7M376.3 197.7L382.1 202.9M387.1 158.5L381.3 153.2M387.1 158.5L381.3 163.8M387.1 158.5L390.7 153.2M387.1 158.5L390.7 163.8M387.1 158.5L389.4 153.1M387.1 158.5L389.4 163.7"/>
<path class="y" stroke-width="2.9" d="M160.6 153.2L163.8 147.9M160.6 163.8L163.8 169.1M170.6 192.7L176.4 187.8M170.6 202.9L176.4 208.1M161.1 153.1L163.8 147.9M161.1 163.7L163.8 169.1M179.2 192.9L176.4 187.8M179.2 203.1L176.4 208.1M169.7 153.2L163.8 147.9M169.7 163.8L163.8 169.1M179.6 192.5L176.4 187.8M179.6 202.6L176.4 208.1M196 153.2L199.1 147.9M196 163.8L199.1 169.1M205.8 192.7L211.7 187.8M205.8 202.9L211.7 208.1M196.2 153.1L199.1 147.9M196.2 163.7L199.1 169.1M214.6 192.9L211.7 187.8M214.6 203.1L211.7 208.1M204.9 153.2L199.1 147.9M204.9 163.8L199.1 169.1M214.7 192.5L211.7 187.8M214.7 202.6L211.7 208.1M231.4 153.2L234.3 147.9M231.4 163.8L234.3 169.1M241.1 192.7L247 187.8M241.1 202.9L247 208.1M231.4 153.1L234.3 147.9M231.4 163.7L234.3 169.1M250 192.9L247 187.8M250 203.1L247 208.1M240.2 153.2L234.3 147.9M240.2 163.8L234.3 169.1M249.8 192.5L247 187.8M249.8 202.6L247 208.1M266.8 153.2L269.6 147.9M266.8 163.8L269.6 169.1M276.3 192.7L282.2 187.8M276.3 202.9L282.2 208.1M266.5 153.1L269.6 147.9M266.5 163.7L269.6 169.1M285.4 192.9L282.2 187.8M285.4 203.1L282.2 208.1M275.5 153.2L269.6 147.9M275.5 163.8L269.6 169.1M284.9 192.5L282.2 187.8M284.9 202.6L282.2 208.1M302.2 153.2L304.9 147.9M302.2 163.8L304.9 169.1M311.6 192.7L317.5 187.8M311.6 202.9L317.5 208.1M301.6 153.1L304.9 147.9M301.6 163.7L304.9 169.1M320.8 192.9L317.5 187.8M320.8 203.1L317.5 208.1M310.7 153.2L304.9 147.9M310.7 163.8L304.9 169.1M320.1 192.5L317.5 187.8M320.1 202.6L317.5 208.1M337.6 153.2L340.1 147.9M337.6 163.8L340.1 169.1M346.9 192.7L352.8 187.8M346.9 202.9L352.8 208.1M336.7 153.1L340.1 147.9M336.7 163.7L340.1 169.1M356.2 192.9L352.8 187.8M356.2 203.1L352.8 208.1M346 153.2L340.1 147.9M346 163.8L340.1 169.1M355.2 192.5L352.8 187.8M355.2 202.6L352.8 208.1M373 153.2L375.4 147.9M373 163.8L375.4 169.1M382.1 192.7L388 187.8M382.1 202.9L388 208.1M371.9 153.1L375.4 147.9M371.9 163.7L375.4 169.1M391.6 192.9L388 187.8M391.6 203.1L388 208.1M381.3 153.2L375.4 147.9M381.3 163.8L375.4 169.1M390.3 192.5L388 187.8M390.3 202.6L388 208.1"/>
<circle class="sb" cx="163.8" cy="147.9" r="2.8"/>
<circle class="sb" cx="163.8" cy="169.1" r="2.8"/>
<circle class="mb" cx="164.7" cy="197.7" r="3.9"/>
<circle class="mb" cx="175.6" cy="158.5" r="3.9"/>
<circle class="sb" cx="176.4" cy="187.8" r="2.8"/>
<circle class="sb" cx="176.4" cy="208.1" r="2.8"/>
<circle class="sb" cx="199.1" cy="147.9" r="2.8"/>
<circle class="sb" cx="199.1" cy="169.1" r="2.8"/>
<circle class="mb" cx="199.9" cy="197.7" r="3.9"/>
<circle class="mb" cx="210.8" cy="158.5" r="3.9"/>
<circle class="sb" cx="211.7" cy="187.8" r="2.8"/>
<circle class="sb" cx="211.7" cy="208.1" r="2.8"/>
<circle class="sb" cx="234.3" cy="147.9" r="2.8"/>
<circle class="sb" cx="234.3" cy="169.1" r="2.8"/>
<circle class="mb" cx="235.2" cy="197.7" r="3.9"/>
<circle class="mb" cx="246.1" cy="158.5" r="3.9"/>
<circle class="sb" cx="247" cy="187.8" r="2.8"/>
<circle class="sb" cx="247" cy="208.1" r="2.8"/>
<circle class="sb" cx="269.6" cy="147.9" r="2.8"/>
<circle class="sb" cx="269.6" cy="169.1" r="2.8"/>
<circle class="mb" cx="270.5" cy="197.7" r="3.9"/>
<circle class="mb" cx="281.3" cy="158.5" r="3.9"/>
<circle class="sb" cx="282.2" cy="187.8" r="2.8"/>
<circle class="sb" cx="282.2" cy="208.1" r="2.8"/>
<circle class="sb" cx="304.9" cy="147.9" r="2.8"/>
<circle class="sb" cx="304.9" cy="169.1" r="2.8"/>
<circle class="mb" cx="305.7" cy="197.7" r="3.9"/>
<circle class="mb" cx="316.6" cy="158.5" r="3.9"/>
<circle class="sb" cx="317.5" cy="187.8" r="2.8"/>
<circle class="sb" cx="317.5" cy="208.1" r="2.8"/>
<circle class="sb" cx="340.1" cy="147.9" r="2.8"/>
<circle class="sb" cx="340.1" cy="169.1" r="2.8"/>
<circle class="mb" cx="341" cy="197.7" r="3.9"/>
<circle class="mb" cx="351.9" cy="158.5" r="3.9"/>
<circle class="sb" cx="352.8" cy="187.8" r="2.8"/>
<circle class="sb" cx="352.8" cy="208.1" r="2.8"/>
<circle class="sb" cx="375.4" cy="147.9" r="2.8"/>
<circle class="sb" cx="375.4" cy="169.1" r="2.8"/>
<circle class="mb" cx="376.3" cy="197.7" r="3.9"/>
<circle class="mb" cx="387.1" cy="158.5" r="3.9"/>
<circle class="sb" cx="388" cy="187.8" r="2.8"/>
<circle class="sb" cx="388" cy="208.1" r="2.8"/>
<path class="p" stroke-width="2.9" d="M157.4 158.6L160.1 153.3M157.4 158.6L160.1 164M157.4 158.6L160.6 153.2M157.4 158.6L160.6 163.8M182 198.1L178.8 193.3M182 198.1L178.8 203.6M182 198.1L179.2 192.9M182 198.1L179.2 203.1M182 198.1L187.9 193.1M182 198.1L187.9 203.3M192.9 158.6L187 153.3M192.9 158.6L187 163.9M192.9 158.6L195.8 153.3M192.9 158.6L195.8 164M192.9 158.6L196 153.2M192.9 158.6L196 163.8M217.5 198.1L214.5 193.3M217.5 198.1L214.5 203.6M217.5 198.1L214.6 192.9M217.5 198.1L214.6 203.1M217.5 198.1L223.4 193.1M217.5 198.1L223.4 203.3M228.5 158.6L222.6 153.3M228.5 158.6L222.6 163.9M228.5 158.6L231.5 153.3M228.5 158.6L231.5 164M228.5 158.6L231.4 153.2M228.5 158.6L231.4 163.8M253.1 198.1L250.2 193.3M253.1 198.1L250.2 203.6M253.1 198.1L250 192.9M253.1 198.1L250 203.1M253.1 198.1L259 193.1M253.1 198.1L259 203.3M264 158.6L258.1 153.3M264 158.6L258.1 163.9M264 158.6L267.1 153.3M264 158.6L267.1 164M264 158.6L266.8 153.2M264 158.6L266.8 163.8M288.6 198.1L285.9 193.3M288.6 198.1L285.9 203.6M288.6 198.1L285.4 192.9M288.6 198.1L285.4 203.1M288.6 198.1L294.5 193.1M288.6 198.1L294.5 203.3M299.6 158.6L293.6 153.3M299.6 158.6L293.6 163.9M299.6 158.6L302.8 153.3M299.6 158.6L302.8 164M299.6 158.6L302.2 153.2M299.6 158.6L302.2 163.8M324.1 198.1L321.6 193.3M324.1 198.1L321.6 203.6M324.1 198.1L320.8 192.9M324.1 198.1L320.8 203.1M324.1 198.1L330.1 193.1M324.1 198.1L330.1 203.3M335.1 158.6L329.2 153.3M335.1 158.6L329.2 163.9M335.1 158.6L338.5 153.3M335.1 158.6L338.5 164M335.1 158.6L337.6 153.2M335.1 158.6L337.6 163.8M359.7 198.1L357.2 193.3M359.7 198.1L357.2 203.6M359.7 198.1L356.2 192.9M359.7 198.1L356.2 203.1M359.7 198.1L365.6 193.1M359.7 198.1L365.6 203.3M370.6 158.6L364.7 153.3M370.6 158.6L364.7 163.9M370.6 158.6L374.2 153.3M370.6 158.6L374.2 164M370.6 158.6L373 153.2M370.6 158.6L373 163.8M395.2 198.1L392.9 193.3M395.2 198.1L392.9 203.6M395.2 198.1L391.6 192.9M395.2 198.1L391.6 203.1"/>
<path class="y" stroke-width="2.9" d="M161 193.3L158.3 188.1M161 203.6L158.3 208.6M161.5 192.9L158.3 188.1M161.5 203.1L158.3 208.6M177.9 153.3L181.1 147.9M177.9 164L181.1 169.3M187.9 193.1L193.8 188.1M187.9 203.3L193.8 208.6M178.3 153.2L181.1 147.9M178.3 163.8L181.1 169.3M196.7 193.3L193.8 188.1M196.7 203.6L193.8 208.6M187 153.3L181.1 147.9M187 163.9L181.1 169.3M196.9 192.9L193.8 188.1M196.9 203.1L193.8 208.6M213.6 153.3L216.6 147.9M213.6 164L216.6 169.3M223.4 193.1L229.4 188.1M223.4 203.3L229.4 208.6M213.7 153.2L216.6 147.9M213.7 163.8L216.6 169.3M232.4 193.3L229.4 188.1M232.4 203.6L229.4 208.6M222.6 153.3L216.6 147.9M222.6 163.9L216.6 169.3M232.3 192.9L229.4 188.1M232.3 203.1L229.4 208.6M249.3 153.3L252.2 147.9M249.3 164L252.2 169.3M259 193.1L264.9 188.1M259 203.3L264.9 208.6M249.1 153.2L252.2 147.9M249.1 163.8L252.2 169.3M268 193.3L264.9 188.1M268 203.6L264.9 208.6M258.1 153.3L252.2 147.9M258.1 163.9L252.2 169.3M267.7 192.9L264.9 188.1M267.7 203.1L264.9 208.6M285 153.3L287.7 147.9M285 164L287.7 169.3M294.5 193.1L300.4 188.1M294.5 203.3L300.4 208.6M284.5 153.2L287.7 147.9M284.5 163.8L287.7 169.3M303.7 193.3L300.4 188.1M303.7 203.6L300.4 208.6M293.6 153.3L287.7 147.9M293.6 163.9L287.7 169.3M303.1 192.9L300.4 188.1M303.1 203.1L300.4 208.6M320.7 153.3L323.3 147.9M320.7 164L323.3 169.3M330.1 193.1L336 188.1M330.1 203.3L336 208.6M319.9 153.2L323.3 147.9M319.9 163.8L323.3 169.3M339.4 193.3L336 188.1M339.4 203.6L336 208.6M329.2 153.3L323.3 147.9M329.2 163.9L323.3 169.3M338.5 192.9L336 188.1M338.5 203.1L336 208.6M356.3 153.3L358.8 147.9M356.3 164L358.8 169.3M365.6 193.1L371.5 188.1M365.6 203.3L371.5 208.6M355.3 153.2L358.8 147.9M355.3 163.8L358.8 169.3M375.1 193.3L371.5 188.1M375.1 203.6L371.5 208.6M364.7 153.3L358.8 147.9M364.7 163.9L358.8 169.3M373.9 192.9L371.5 188.1M373.9 203.1L371.5 208.6M392 153.3L394.3 147.9M392 164L394.3 169.3M390.7 153.2L394.3 147.9M390.7 163.8L394.3 169.3"/>
<circle class="mb" cx="157.4" cy="158.6" r="3.9"/>
<circle class="sb" cx="158.3" cy="188.1" r="2.8"/>
<circle class="sb" cx="158.3" cy="208.6" r="2.8"/>
<circle class="sb" cx="181.1" cy="147.9" r="2.8"/>
<circle class="sb" cx="181.1" cy="169.3" r="2.8"/>
<circle class="mb" cx="182" cy="198.1" r="3.9"/>
<circle class="mb" cx="192.9" cy="158.6" r="3.9"/>
<circle class="sb" cx="193.8" cy="188.1" r="2.8"/>
<circle class="sb" cx="193.8" cy="208.6" r="2.8"/>
<circle class="sb" cx="216.6" cy="147.9" r="2.8"/>
<circle class="sb" cx="216.6" cy="169.3" r="2.8"/>
<circle class="mb" cx="217.5" cy="198.1" r="3.9"/>
<circle class="mb" cx="228.5" cy="158.6" r="3.9"/>
<circle class="sb" cx="229.4" cy="188.1" r="2.8"/>
<circle class="sb" cx="229.4" cy="208.6" r="2.8"/>
<circle class="sb" cx="252.2" cy="147.9" r="2.8"/>
<circle class="sb" cx="252.2" cy="169.3" r="2.8"/>
<circle class="mb" cx="253.1" cy="198.1" r="3.9"/>
<circle class="mb" cx="264" cy="158.6" r="3.9"/>
<circle class="sb" cx="264.9" cy="188.1" r="2.8"/>
<circle class="sb" cx="264.9" cy="208.6" r="2.8"/>
<circle class="sb" cx="287.7" cy="147.9" r="2.8"/>
<circle class="sb" cx="287.7" cy="169.3" r="2.8"/>
<circle class="mb" cx="288.6" cy="198.1" r="3.9"/>
<circle class="mb" cx="299.6" cy="158.6" r="3.9"/>
<circle class="sb" cx="300.4" cy="188.1" r="2.8"/>
<circle class="sb" cx="300.4" cy="208.6" r="2.8"/>
<circle class="sb" cx="323.3" cy="147.9" r="2.8"/>
<circle class="sb" cx="323.3" cy="169.3" r="2.8"/>
<circle class="mb" cx="324.1" cy="198.1" r="3.9"/>
<circle class="mb" cx="335.1" cy="158.6" r="3.9"/>
<circle class="sb" cx="336" cy="188.1" r="2.8"/>
<circle class="sb" cx="336" cy="208.6" r="2.8"/>
<circle class="sb" cx="358.8" cy="147.9" r="2.8"/>
<circle class="sb" cx="358.8" cy="169.3" r="2.8"/>
<circle class="mb" cx="359.7" cy="198.1" r="3.9"/>
<circle class="mb" cx="370.6" cy="158.6" r="3.9"/>
<circle class="sb" cx="371.5" cy="188.1" r="2.8"/>
<circle class="sb" cx="371.5" cy="208.6" r="2.8"/>
<circle class="sb" cx="394.3" cy="147.9" r="2.8"/>
<circle class="sb" cx="394.3" cy="169.3" r="2.8"/>
<circle class="mb" cx="395.2" cy="198.1" r="3.9"/>
<path class="p" stroke-width="3.0" d="M163.7 198.5L160.5 193.7M163.7 198.5L160.5 204M163.7 198.5L161 193.3M163.7 198.5L161 203.6M163.7 198.5L169.7 193.5M163.7 198.5L169.7 203.8M174.8 158.7L168.8 153.3M174.8 158.7L168.8 164.1M174.8 158.7L177.6 153.4M174.8 158.7L177.6 164.2M174.8 158.7L177.9 153.3M174.8 158.7L177.9 164M199.5 198.5L196.5 193.7M199.5 198.5L196.5 204M199.5 198.5L196.7 193.3M199.5 198.5L196.7 203.6M199.5 198.5L205.5 193.5M199.5 198.5L205.5 203.8M210.6 158.7L204.6 153.3M210.6 158.7L204.6 164.1M210.6 158.7L213.5 153.4M210.6 158.7L213.5 164.2M210.6 158.7L213.6 153.3M210.6 158.7L213.6 164M235.4 198.5L232.4 193.7M235.4 198.5L232.4 204M235.4 198.5L232.4 193.3M235.4 198.5L232.4 203.6M235.4 198.5L241.3 193.5M235.4 198.5L241.3 203.8M246.4 158.7L240.4 153.3M246.4 158.7L240.4 164.1M246.4 158.7L249.5 153.4M246.4 158.7L249.5 164.2M246.4 158.7L249.3 153.3M246.4 158.7L249.3 164M271.2 198.5L268.4 193.7M271.2 198.5L268.4 204M271.2 198.5L268 193.3M271.2 198.5L268 203.6M271.2 198.5L277.2 193.5M271.2 198.5L277.2 203.8M282.2 158.7L276.3 153.3M282.2 158.7L276.3 164.1M282.2 158.7L285.5 153.4M282.2 158.7L285.5 164.2M282.2 158.7L285 153.3M282.2 158.7L285 164M307 198.5L304.3 193.7M307 198.5L304.3 204M307 198.5L303.7 193.3M307 198.5L303.7 203.6M307 198.5L313 193.5M307 198.5L313 203.8M318.1 158.7L312.1 153.3M318.1 158.7L312.1 164.1M318.1 158.7L321.4 153.4M318.1 158.7L321.4 164.2M318.1 158.7L320.7 153.3M318.1 158.7L320.7 164M342.8 198.5L340.3 193.7M342.8 198.5L340.3 204M342.8 198.5L339.4 193.3M342.8 198.5L339.4 203.6M342.8 198.5L348.8 193.5M342.8 198.5L348.8 203.8M353.9 158.7L347.9 153.3M353.9 158.7L347.9 164.1M353.9 158.7L357.4 153.4M353.9 158.7L357.4 164.2M353.9 158.7L356.3 153.3M353.9 158.7L356.3 164M378.7 198.5L376.3 193.7M378.7 198.5L376.3 204M378.7 198.5L375.1 193.3M378.7 198.5L375.1 203.6M378.7 198.5L384.6 193.5M378.7 198.5L384.6 203.8M389.7 158.7L383.7 153.3M389.7 158.7L383.7 164.1M389.7 158.7L393.4 153.4M389.7 158.7L393.4 164.2M389.7 158.7L392 153.3M389.7 158.7L392 164"/>
<path class="y" stroke-width="3.0" d="M159.6 153.4L162.8 147.9M159.6 164.2L162.8 169.5M169.7 193.5L175.7 188.5M169.7 203.8L175.7 209.1M160.1 153.3L162.8 147.9M160.1 164L162.8 169.5M178.5 193.7L175.7 188.5M178.5 204L175.7 209.1M168.8 153.3L162.8 147.9M168.8 164.1L162.8 169.5M178.8 193.3L175.7 188.5M178.8 203.6L175.7 209.1M195.6 153.4L198.7 147.9M195.6 164.2L198.7 169.5M205.5 193.5L211.5 188.5M205.5 203.8L211.5 209.1M195.8 153.3L198.7 147.9M195.8 164L198.7 169.5M214.4 193.7L211.5 188.5M214.4 204L211.5 209.1M204.6 153.3L198.7 147.9M204.6 164.1L198.7 169.5M214.5 193.3L211.5 188.5M214.5 203.6L211.5 209.1M231.5 153.4L234.5 147.9M231.5 164.2L234.5 169.5M241.3 193.5L247.3 188.5M241.3 203.8L247.3 209.1M231.5 153.3L234.5 147.9M231.5 164L234.5 169.5M250.4 193.7L247.3 188.5M250.4 204L247.3 209.1M240.4 153.3L234.5 147.9M240.4 164.1L234.5 169.5M250.2 193.3L247.3 188.5M250.2 203.6L247.3 209.1M267.5 153.4L270.3 147.9M267.5 164.2L270.3 169.5M277.2 193.5L283.1 188.5M277.2 203.8L283.1 209.1M267.1 153.3L270.3 147.9M267.1 164L270.3 169.5M286.4 193.7L283.1 188.5M286.4 204L283.1 209.1M276.3 153.3L270.3 147.9M276.3 164.1L270.3 169.5M285.9 193.3L283.1 188.5M285.9 203.6L283.1 209.1M303.4 153.4L306.1 147.9M303.4 164.2L306.1 169.5M313 193.5L319 188.5M313 203.8L319 209.1M302.8 153.3L306.1 147.9M302.8 164L306.1 169.5M322.3 193.7L319 188.5M322.3 204L319 209.1M312.1 153.3L306.1 147.9M312.1 164.1L306.1 169.5M321.6 193.3L319 188.5M321.6 203.6L319 209.1M339.4 153.4L341.9 147.9M339.4 164.2L341.9 169.5M348.8 193.5L354.8 188.5M348.8 203.8L354.8 209.1M338.5 153.3L341.9 147.9M338.5 164L341.9 169.5M358.3 193.7L354.8 188.5M358.3 204L354.8 209.1M347.9 153.3L341.9 147.9M347.9 164.1L341.9 169.5M357.2 193.3L354.8 188.5M357.2 203.6L354.8 209.1M375.4 153.4L377.8 147.9M375.4 164.2L377.8 169.5M384.6 193.5L390.6 188.5M384.6 203.8L390.6 209.1M374.2 153.3L377.8 147.9M374.2 164L377.8 169.5M394.3 193.7L390.6 188.5M394.3 204L390.6 209.1M383.7 153.3L377.8 147.9M383.7 164.1L377.8 169.5M392.9 193.3L390.6 188.5M392.9 203.6L390.6 209.1"/>
<circle class="sb" cx="162.8" cy="147.9" r="2.8"/>
<circle class="sb" cx="162.8" cy="169.5" r="2.8"/>
<circle class="mb" cx="163.7" cy="198.5" r="3.9"/>
<circle class="mb" cx="174.8" cy="158.7" r="3.9"/>
<circle class="sb" cx="175.7" cy="188.5" r="2.8"/>
<circle class="sb" cx="175.7" cy="209.1" r="2.8"/>
<circle class="sb" cx="198.7" cy="147.9" r="2.8"/>
<circle class="sb" cx="198.7" cy="169.5" r="2.8"/>
<circle class="mb" cx="199.5" cy="198.5" r="3.9"/>
<circle class="mb" cx="210.6" cy="158.7" r="3.9"/>
<circle class="sb" cx="211.5" cy="188.5" r="2.8"/>
<circle class="sb" cx="211.5" cy="209.1" r="2.8"/>
<circle class="sb" cx="234.5" cy="147.9" r="2.8"/>
<circle class="sb" cx="234.5" cy="169.5" r="2.8"/>
<circle class="mb" cx="235.4" cy="198.5" r="3.9"/>
<circle class="mb" cx="246.4" cy="158.7" r="3.9"/>
<circle class="sb" cx="247.3" cy="188.5" r="2.8"/>
<circle class="sb" cx="247.3" cy="209.1" r="2.8"/>
<circle class="sb" cx="270.3" cy="147.9" r="2.8"/>
<circle class="sb" cx="270.3" cy="169.5" r="2.8"/>
<circle class="mb" cx="271.2" cy="198.5" r="3.9"/>
<circle class="mb" cx="282.2" cy="158.7" r="3.9"/>
<circle class="sb" cx="283.1" cy="188.5" r="2.8"/>
<circle class="sb" cx="283.1" cy="209.1" r="2.8"/>
<circle class="sb" cx="306.1" cy="147.9" r="2.8"/>
<circle class="sb" cx="306.1" cy="169.5" r="2.8"/>
<circle class="mb" cx="307" cy="198.5" r="3.9"/>
<circle class="mb" cx="318.1" cy="158.7" r="3.9"/>
<circle class="sb" cx="319" cy="188.5" r="2.8"/>
<circle class="sb" cx="319" cy="209.1" r="2.8"/>
<circle class="sb" cx="341.9" cy="147.9" r="2.8"/>
<circle class="sb" cx="341.9" cy="169.5" r="2.8"/>
<circle class="mb" cx="342.8" cy="198.5" r="3.9"/>
<circle class="mb" cx="353.9" cy="158.7" r="3.9"/>
<circle class="sb" cx="354.8" cy="188.5" r="2.8"/>
<circle class="sb" cx="354.8" cy="209.1" r="2.8"/>
<circle class="sb" cx="377.8" cy="147.9" r="2.8"/>
<circle class="sb" cx="377.8" cy="169.5" r="2.8"/>
<circle class="mb" cx="378.7" cy="198.5" r="3.9"/>
<circle class="mb" cx="389.7" cy="158.7" r="3.9"/>
<circle class="sb" cx="390.6" cy="188.5" r="2.8"/>
<circle class="sb" cx="390.6" cy="209.1" r="2.8"/>
<path class="p" stroke-width="3.0" d="M156.3 158.8L159.1 153.4M156.3 158.8L159.1 164.3M156.3 158.8L159.6 153.4M156.3 158.8L159.6 164.2M181.3 198.9L178.1 194.1M181.3 198.9L178.1 204.5M181.3 198.9L178.5 193.7M181.3 198.9L178.5 204M181.3 198.9L187.3 193.9M181.3 198.9L187.3 204.3M192.4 158.8L186.4 153.4M192.4 158.8L186.4 164.2M192.4 158.8L195.3 153.4M192.4 158.8L195.3 164.3M192.4 158.8L195.6 153.4M192.4 158.8L195.6 164.2M217.4 198.9L214.3 194.1M217.4 198.9L214.3 204.5M217.4 198.9L214.4 193.7M217.4 198.9L214.4 204M217.4 198.9L223.4 193.9M217.4 198.9L223.4 204.3M228.5 158.8L222.5 153.4M228.5 158.8L222.5 164.2M228.5 158.8L231.6 153.4M228.5 158.8L231.6 164.3M228.5 158.8L231.5 153.4M228.5 158.8L231.5 164.2M253.5 198.9L250.6 194.1M253.5 198.9L250.6 204.5M253.5 198.9L250.4 193.7M253.5 198.9L250.4 204M253.5 198.9L259.5 193.9M253.5 198.9L259.5 204.3M264.6 158.8L258.6 153.4M264.6 158.8L258.6 164.2M264.6 158.8L267.8 153.4M264.6 158.8L267.8 164.3M264.6 158.8L267.5 153.4M264.6 158.8L267.5 164.2M289.6 198.9L286.9 194.1M289.6 198.9L286.9 204.5M289.6 198.9L286.4 193.7M289.6 198.9L286.4 204M289.6 198.9L295.6 193.9M289.6 198.9L295.6 204.3M300.8 158.8L294.7 153.4M300.8 158.8L294.7 164.2M300.8 158.8L304.1 153.4M300.8 158.8L304.1 164.3M300.8 158.8L303.4 153.4M300.8 158.8L303.4 164.2M325.7 198.9L323.1 194.1M325.7 198.9L323.1 204.5M325.7 198.9L322.3 193.7M325.7 198.9L322.3 204M325.7 198.9L331.8 193.9M325.7 198.9L331.8 204.3M336.9 158.8L330.8 153.4M336.9 158.8L330.8 164.2M336.9 158.8L340.3 153.4M336.9 158.8L340.3 164.3M336.9 158.8L339.4 153.4M336.9 158.8L339.4 164.2M361.8 198.9L359.4 194.1M361.8 198.9L359.4 204.5M361.8 198.9L358.3 193.7M361.8 198.9L358.3 204M361.8 198.9L367.9 193.9M361.8 198.9L367.9 204.3M373 158.8L367 153.4M373 158.8L367 164.2M373 158.8L376.6 153.4M373 158.8L376.6 164.3M373 158.8L375.4 153.4M373 158.8L375.4 164.2M398 198.9L395.6 194.1M398 198.9L395.6 204.5M398 198.9L394.3 193.7M398 198.9L394.3 204"/>
<path class="y" stroke-width="3.0" d="M160 194.1L157.2 188.8M160 204.5L157.2 209.6M160.5 193.7L157.2 188.8M160.5 204L157.2 209.6M177.2 153.4L180.4 148M177.2 164.3L180.4 169.7M187.3 193.9L193.3 188.8M187.3 204.3L193.3 209.6M177.6 153.4L180.4 148M177.6 164.2L180.4 169.7M196.2 194.1L193.3 188.8M196.2 204.5L193.3 209.6M186.4 153.4L180.4 148M186.4 164.2L180.4 169.7M196.5 193.7L193.3 188.8M196.5 204L193.3 209.6M213.4 153.4L216.5 148M213.4 164.3L216.5 169.7M223.4 193.9L229.4 188.8M223.4 204.3L229.4 209.6M213.5 153.4L216.5 148M213.5 164.2L216.5 169.7M232.5 194.1L229.4 188.8M232.5 204.5L229.4 209.6M222.5 153.4L216.5 148M222.5 164.2L216.5 169.7M232.4 193.7L229.4 188.8M232.4 204L229.4 209.6M249.7 153.4L252.6 148M249.7 164.3L252.6 169.7M259.5 193.9L265.5 188.8M259.5 204.3L265.5 209.6M249.5 153.4L252.6 148M249.5 164.2L252.6 169.7M268.7 194.1L265.5 188.8M268.7 204.5L265.5 209.6M258.6 153.4L252.6 148M258.6 164.2L252.6 169.7M268.4 193.7L265.5 188.8M268.4 204L265.5 209.6M286 153.4L288.7 148M286 164.3L288.7 169.7M295.6 193.9L301.7 188.8M295.6 204.3L301.7 209.6M285.5 153.4L288.7 148M285.5 164.2L288.7 169.7M305 194.1L301.7 188.8M305 204.5L301.7 209.6M294.7 153.4L288.7 148M294.7 164.2L288.7 169.7M304.3 193.7L301.7 188.8M304.3 204L301.7 209.6M322.2 153.4L324.8 148M322.2 164.3L324.8 169.7M331.8 193.9L337.8 188.8M331.8 204.3L337.8 209.6M321.4 153.4L324.8 148M321.4 164.2L324.8 169.7M341.2 194.1L337.8 188.8M341.2 204.5L337.8 209.6M330.8 153.4L324.8 148M330.8 164.2L324.8 169.7M340.3 193.7L337.8 188.8M340.3 204L337.8 209.6M358.5 153.4L360.9 148M358.5 164.3L360.9 169.7M367.9 193.9L373.9 188.8M367.9 204.3L373.9 209.6M357.4 153.4L360.9 148M357.4 164.2L360.9 169.7M377.5 194.1L373.9 188.8M377.5 204.5L373.9 209.6M367 153.4L360.9 148M367 164.2L360.9 169.7M376.3 193.7L373.9 188.8M376.3 204L373.9 209.6M394.7 153.4L397 148M394.7 164.3L397 169.7M393.4 153.4L397 148M393.4 164.2L397 169.7"/>
<circle class="mb" cx="156.3" cy="158.8" r="4.0"/>
<circle class="sb" cx="157.2" cy="188.8" r="2.8"/>
<circle class="sb" cx="157.2" cy="209.6" r="2.8"/>
<circle class="sb" cx="180.4" cy="148" r="2.8"/>
<circle class="sb" cx="180.4" cy="169.7" r="2.8"/>
<circle class="mb" cx="181.3" cy="198.9" r="4.0"/>
<circle class="mb" cx="192.4" cy="158.8" r="4.0"/>
<circle class="sb" cx="193.3" cy="188.8" r="2.8"/>
<circle class="sb" cx="193.3" cy="209.6" r="2.8"/>
<circle class="sb" cx="216.5" cy="148" r="2.8"/>
<circle class="sb" cx="216.5" cy="169.7" r="2.8"/>
<circle class="mb" cx="217.4" cy="198.9" r="4.0"/>
<circle class="mb" cx="228.5" cy="158.8" r="4.0"/>
<circle class="sb" cx="229.4" cy="188.8" r="2.8"/>
<circle class="sb" cx="229.4" cy="209.6" r="2.8"/>
<circle class="sb" cx="252.6" cy="148" r="2.8"/>
<circle class="sb" cx="252.6" cy="169.7" r="2.8"/>
<circle class="mb" cx="253.5" cy="198.9" r="4.0"/>
<circle class="mb" cx="264.6" cy="158.8" r="4.0"/>
<circle class="sb" cx="265.5" cy="188.8" r="2.8"/>
<circle class="sb" cx="265.5" cy="209.6" r="2.8"/>
<circle class="sb" cx="288.7" cy="148" r="2.8"/>
<circle class="sb" cx="288.7" cy="169.7" r="2.8"/>
<circle class="mb" cx="289.6" cy="198.9" r="4.0"/>
<circle class="mb" cx="300.8" cy="158.8" r="4.0"/>
<circle class="sb" cx="301.7" cy="188.8" r="2.8"/>
<circle class="sb" cx="301.7" cy="209.6" r="2.8"/>
<circle class="sb" cx="324.8" cy="148" r="2.8"/>
<circle class="sb" cx="324.8" cy="169.7" r="2.8"/>
<circle class="mb" cx="325.7" cy="198.9" r="4.0"/>
<circle class="mb" cx="336.9" cy="158.8" r="4.0"/>
<circle class="sb" cx="337.8" cy="188.8" r="2.8"/>
<circle class="sb" cx="337.8" cy="209.6" r="2.8"/>
<circle class="sb" cx="360.9" cy="148" r="2.8"/>
<circle class="sb" cx="360.9" cy="169.7" r="2.8"/>
<circle class="mb" cx="361.8" cy="198.9" r="4.0"/>
<circle class="mb" cx="373" cy="158.8" r="4.0"/>
<circle class="sb" cx="373.9" cy="188.8" r="2.8"/>
<circle class="sb" cx="373.9" cy="209.6" r="2.8"/>
<circle class="sb" cx="397" cy="148" r="2.8"/>
<circle class="sb" cx="397" cy="169.7" r="2.8"/>
<circle class="mb" cx="398" cy="198.9" r="4.0"/>
<path class="p" stroke-width="3.0" d="M162.7 199.4L159.4 194.5M162.7 199.4L159.4 205M162.7 199.4L160 194.1M162.7 199.4L160 204.5M162.7 199.4L168.8 194.3M162.7 199.4L168.8 204.8M174 158.9L167.9 153.5M174 158.9L167.9 164.4M174 158.9L176.8 153.5M174 158.9L176.8 164.5M174 158.9L177.2 153.4M174 158.9L177.2 164.3M199.1 199.4L196 194.5M199.1 199.4L196 205M199.1 199.4L196.2 194.1M199.1 199.4L196.2 204.5M199.1 199.4L205.2 194.3M199.1 199.4L205.2 204.8M210.4 158.9L204.3 153.5M210.4 158.9L204.3 164.4M210.4 158.9L213.3 153.5M210.4 158.9L213.3 164.5M210.4 158.9L213.4 153.4M210.4 158.9L213.4 164.3M235.5 199.4L232.5 194.5M235.5 199.4L232.5 205M235.5 199.4L232.5 194.1M235.5 199.4L232.5 204.5M235.5 199.4L241.6 194.3M235.5 199.4L241.6 204.8M246.8 158.9L240.7 153.5M246.8 158.9L240.7 164.4M246.8 158.9L249.9 153.5M246.8 158.9L249.9 164.5M246.8 158.9L249.7 153.4M246.8 158.9L249.7 164.3M271.9 199.4L269.1 194.5M271.9 199.4L269.1 205M271.9 199.4L268.7 194.1M271.9 199.4L268.7 204.5M271.9 199.4L278 194.3M271.9 199.4L278 204.8M283.2 158.9L277.1 153.5M283.2 158.9L277.1 164.4M283.2 158.9L286.4 153.5M283.2 158.9L286.4 164.5M283.2 158.9L286 153.4M283.2 158.9L286 164.3M308.3 199.4L305.6 194.5M308.3 199.4L305.6 205M308.3 199.4L305 194.1M308.3 199.4L305 204.5M308.3 199.4L314.4 194.3M308.3 199.4L314.4 204.8M319.6 158.9L313.5 153.5M319.6 158.9L313.5 164.4M319.6 158.9L323 153.5M319.6 158.9L323 164.5M319.6 158.9L322.2 153.4M319.6 158.9L322.2 164.3M344.7 199.4L342.2 194.5M344.7 199.4L342.2 205M344.7 199.4L341.2 194.1M344.7 199.4L341.2 204.5M344.7 199.4L350.8 194.3M344.7 199.4L350.8 204.8M356 158.9L349.9 153.5M356 158.9L349.9 164.4M356 158.9L359.5 153.5M356 158.9L359.5 164.5M356 158.9L358.5 153.4M356 158.9L358.5 164.3M381.1 199.4L378.7 194.5M381.1 199.4L378.7 205M381.1 199.4L377.5 194.1M381.1 199.4L377.5 204.5M381.1 199.4L387.2 194.3M381.1 199.4L387.2 204.8M392.4 158.9L386.3 153.5M392.4 158.9L386.3 164.4M392.4 158.9L396.1 153.5M392.4 158.9L396.1 164.5M392.4 158.9L394.7 153.4M392.4 158.9L394.7 164.3"/>
<path class="y" stroke-width="3.0" d="M158.5 153.5L161.8 148M158.5 164.5L161.8 169.9M168.8 194.3L174.9 189.2M168.8 204.8L174.9 210.1M159.1 153.4L161.8 148M159.1 164.3L161.8 169.9M177.7 194.5L174.9 189.2M177.7 205L174.9 210.1M167.9 153.5L161.8 148M167.9 164.4L161.8 169.9M178.1 194.1L174.9 189.2M178.1 204.5L174.9 210.1M195.1 153.5L198.2 148M195.1 164.5L198.2 169.9M205.2 194.3L211.3 189.2M205.2 204.8L211.3 210.1M195.3 153.4L198.2 148M195.3 164.3L198.2 169.9M214.3 194.5L211.3 189.2M214.3 205L211.3 210.1M204.3 153.5L198.2 148M204.3 164.4L198.2 169.9M214.3 194.1L211.3 189.2M214.3 204.5L211.3 210.1M231.6 153.5L234.6 148M231.6 164.5L234.6 169.9M241.6 194.3L247.7 189.2M241.6 204.8L247.7 210.1M231.6 153.4L234.6 148M231.6 164.3L234.6 169.9M250.8 194.5L247.7 189.2M250.8 205L247.7 210.1M240.7 153.5L234.6 148M240.7 164.4L234.6 169.9M250.6 194.1L247.7 189.2M250.6 204.5L247.7 210.1M268.2 153.5L271 148M268.2 164.5L271 169.9M278 194.3L284.1 189.2M278 204.8L284.1 210.1M267.8 153.4L271 148M267.8 164.3L271 169.9M287.4 194.5L284.1 189.2M287.4 205L284.1 210.1M277.1 153.5L271 148M277.1 164.4L271 169.9M286.9 194.1L284.1 189.2M286.9 204.5L284.1 210.1M304.7 153.5L307.4 148M304.7 164.5L307.4 169.9M314.4 194.3L320.5 189.2M314.4 204.8L320.5 210.1M304.1 153.4L307.4 148M304.1 164.3L307.4 169.9M323.9 194.5L320.5 189.2M323.9 205L320.5 210.1M313.5 153.5L307.4 148M313.5 164.4L307.4 169.9M323.1 194.1L320.5 189.2M323.1 204.5L320.5 210.1M341.3 153.5L343.8 148M341.3 164.5L343.8 169.9M350.8 194.3L356.9 189.2M350.8 204.8L356.9 210.1M340.3 153.4L343.8 148M340.3 164.3L343.8 169.9M360.5 194.5L356.9 189.2M360.5 205L356.9 210.1M349.9 153.5L343.8 148M349.9 164.4L343.8 169.9M359.4 194.1L356.9 189.2M359.4 204.5L356.9 210.1M377.8 153.5L380.2 148M377.8 164.5L380.2 169.9M387.2 194.3L393.3 189.2M387.2 204.8L393.3 210.1M376.6 153.4L380.2 148M376.6 164.3L380.2 169.9M397 194.5L393.3 189.2M397 205L393.3 210.1M386.3 153.5L380.2 148M386.3 164.4L380.2 169.9M395.6 194.1L393.3 189.2M395.6 204.5L393.3 210.1"/>
<circle class="sb" cx="161.8" cy="148" r="2.9"/>
<circle class="sb" cx="161.8" cy="169.9" r="2.9"/>
<circle class="mb" cx="162.7" cy="199.4" r="4.0"/>
<circle class="mb" cx="174" cy="158.9" r="4.0"/>
<circle class="sb" cx="174.9" cy="189.2" r="2.9"/>
<circle class="sb" cx="174.9" cy="210.1" r="2.9"/>
<circle class="sb" cx="198.2" cy="148" r="2.9"/>
<circle class="sb" cx="198.2" cy="169.9" r="2.9"/>
<circle class="mb" cx="199.1" cy="199.4" r="4.0"/>
<circle class="mb" cx="210.4" cy="158.9" r="4.0"/>
<circle class="sb" cx="211.3" cy="189.2" r="2.9"/>
<circle class="sb" cx="211.3" cy="210.1" r="2.9"/>
<circle class="sb" cx="234.6" cy="148" r="2.9"/>
<circle class="sb" cx="234.6" cy="169.9" r="2.9"/>
<circle class="mb" cx="235.5" cy="199.4" r="4.0"/>
<circle class="mb" cx="246.8" cy="158.9" r="4.0"/>
<circle class="sb" cx="247.7" cy="189.2" r="2.9"/>
<circle class="sb" cx="247.7" cy="210.1" r="2.9"/>
<circle class="sb" cx="271" cy="148" r="2.9"/>
<circle class="sb" cx="271" cy="169.9" r="2.9"/>
<circle class="mb" cx="271.9" cy="199.4" r="4.0"/>
<circle class="mb" cx="283.2" cy="158.9" r="4.0"/>
<circle class="sb" cx="284.1" cy="189.2" r="2.9"/>
<circle class="sb" cx="284.1" cy="210.1" r="2.9"/>
<circle class="sb" cx="307.4" cy="148" r="2.9"/>
<circle class="sb" cx="307.4" cy="169.9" r="2.9"/>
<circle class="mb" cx="308.3" cy="199.4" r="4.0"/>
<circle class="mb" cx="319.6" cy="158.9" r="4.0"/>
<circle class="sb" cx="320.5" cy="189.2" r="2.9"/>
<circle class="sb" cx="320.5" cy="210.1" r="2.9"/>
<circle class="sb" cx="343.8" cy="148" r="2.9"/>
<circle class="sb" cx="343.8" cy="169.9" r="2.9"/>
<circle class="mb" cx="344.7" cy="199.4" r="4.0"/>
<circle class="mb" cx="356" cy="158.9" r="4.0"/>
<circle class="sb" cx="356.9" cy="189.2" r="2.9"/>
<circle class="sb" cx="356.9" cy="210.1" r="2.9"/>
<circle class="sb" cx="380.2" cy="148" r="2.9"/>
<circle class="sb" cx="380.2" cy="169.9" r="2.9"/>
<circle class="mb" cx="381.1" cy="199.4" r="4.0"/>
<circle class="mb" cx="392.4" cy="158.9" r="4.0"/>
<circle class="sb" cx="393.3" cy="189.2" r="2.9"/>
<circle class="sb" cx="393.3" cy="210.1" r="2.9"/>
<path class="p" stroke-width="3.0" d="M155.2 159.1L158 153.6M155.2 159.1L158 164.7M155.2 159.1L158.5 153.5M155.2 159.1L158.5 164.5M180.6 199.8L177.3 194.9M180.6 199.8L177.3 205.5M180.6 199.8L177.7 194.5M180.6 199.8L177.7 205M180.6 199.8L186.7 194.7M180.6 199.8L186.7 205.3M191.9 159.1L185.8 153.6M191.9 159.1L185.8 164.6M191.9 159.1L194.8 153.6M191.9 159.1L194.8 164.7M191.9 159.1L195.1 153.5M191.9 159.1L195.1 164.5M217.3 199.8L214.2 194.9M217.3 199.8L214.2 205.5M217.3 199.8L214.3 194.5M217.3 199.8L214.3 205M217.3 199.8L223.4 194.7M217.3 199.8L223.4 205.3M228.6 159.1L222.5 153.6M228.6 159.1L222.5 164.6M228.6 159.1L231.7 153.6M228.6 159.1L231.7 164.7M228.6 159.1L231.6 153.5M228.6 159.1L231.6 164.5M254 199.8L251 194.9M254 199.8L251 205.5M254 199.8L250.8 194.5M254 199.8L250.8 205M254 199.8L260.1 194.7M254 199.8L260.1 205.3M265.3 159.1L259.2 153.6M265.3 159.1L259.2 164.6M265.3 159.1L268.5 153.6M265.3 159.1L268.5 164.7M265.3 159.1L268.2 153.5M265.3 159.1L268.2 164.5M290.7 199.8L287.9 194.9M290.7 199.8L287.9 205.5M290.7 199.8L287.4 194.5M290.7 199.8L287.4 205M290.7 199.8L296.8 194.7M290.7 199.8L296.8 205.3M302 159.1L295.9 153.6M302 159.1L295.9 164.6M302 159.1L305.4 153.6M302 159.1L305.4 164.7M302 159.1L304.7 153.5M302 159.1L304.7 164.5M327.4 199.8L324.7 194.9M327.4 199.8L324.7 205.5M327.4 199.8L323.9 194.5M327.4 199.8L323.9 205M327.4 199.8L333.5 194.7M327.4 199.8L333.5 205.3M338.7 159.1L332.6 153.6M338.7 159.1L332.6 164.6M338.7 159.1L342.2 153.6M338.7 159.1L342.2 164.7M338.7 159.1L341.3 153.5M338.7 159.1L341.3 164.5M364.1 199.8L361.6 194.9M364.1 199.8L361.6 205.5M364.1 199.8L360.5 194.5M364.1 199.8L360.5 205M364.1 199.8L370.2 194.7M364.1 199.8L370.2 205.3M375.4 159.1L369.3 153.6M375.4 159.1L369.3 164.6M375.4 159.1L379.1 153.6M375.4 159.1L379.1 164.7M375.4 159.1L377.8 153.5M375.4 159.1L377.8 164.5M400.8 199.8L398.4 194.9M400.8 199.8L398.4 205.5M400.8 199.8L397 194.5M400.8 199.8L397 205"/>
<path class="y" stroke-width="3.0" d="M158.9 194.9L156.1 189.6M158.9 205.5L156.1 210.7M159.4 194.5L156.1 189.6M159.4 205L156.1 210.7M176.4 153.6L179.7 148M176.4 164.7L179.7 170.1M186.7 194.7L192.8 189.6M186.7 205.3L192.8 210.7M176.8 153.5L179.7 148M176.8 164.5L179.7 170.1M195.7 194.9L192.8 189.6M195.7 205.5L192.8 210.7M185.8 153.6L179.7 148M185.8 164.6L179.7 170.1M196 194.5L192.8 189.6M196 205L192.8 210.7M213.3 153.6L216.4 148M213.3 164.7L216.4 170.1M223.4 194.7L229.5 189.6M223.4 205.3L229.5 210.7M213.3 153.5L216.4 148M213.3 164.5L216.4 170.1M232.6 194.9L229.5 189.6M232.6 205.5L229.5 210.7M222.5 153.6L216.4 148M222.5 164.6L216.4 170.1M232.5 194.5L229.5 189.6M232.5 205L229.5 210.7M250.1 153.6L253.1 148M250.1 164.7L253.1 170.1M260.1 194.7L266.2 189.6M260.1 205.3L266.2 210.7M249.9 153.5L253.1 148M249.9 164.5L253.1 170.1M269.4 194.9L266.2 189.6M269.4 205.5L266.2 210.7M259.2 153.6L253.1 148M259.2 164.6L253.1 170.1M269.1 194.5L266.2 189.6M269.1 205L266.2 210.7M287 153.6L289.8 148M287 164.7L289.8 170.1M296.8 194.7L302.9 189.6M296.8 205.3L302.9 210.7M286.4 153.5L289.8 148M286.4 164.5L289.8 170.1M306.3 194.9L302.9 189.6M306.3 205.5L302.9 210.7M295.9 153.6L289.8 148M295.9 164.6L289.8 170.1M305.6 194.5L302.9 189.6M305.6 205L302.9 210.7M323.8 153.6L326.5 148M323.8 164.7L326.5 170.1M333.5 194.7L339.6 189.6M333.5 205.3L339.6 210.7M323 153.5L326.5 148M323 164.5L326.5 170.1M343.1 194.9L339.6 189.6M343.1 205.5L339.6 210.7M332.6 153.6L326.5 148M332.6 164.6L326.5 170.1M342.2 194.5L339.6 189.6M342.2 205L339.6 210.7M360.6 153.6L363.2 148M360.6 164.7L363.2 170.1M370.2 194.7L376.3 189.6M370.2 205.3L376.3 210.7M359.5 153.5L363.2 148M359.5 164.5L363.2 170.1M380 194.9L376.3 189.6M380 205.5L376.3 210.7M369.3 153.6L363.2 148M369.3 164.6L363.2 170.1M378.7 194.5L376.3 189.6M378.7 205L376.3 210.7M397.5 153.6L399.9 148M397.5 164.7L399.9 170.1M396.1 153.5L399.9 148M396.1 164.5L399.9 170.1"/>
<circle class="mb" cx="155.2" cy="159.1" r="4.0"/>
<circle class="sb" cx="156.1" cy="189.6" r="2.9"/>
<circle class="sb" cx="156.1" cy="210.7" r="2.9"/>
<circle class="sb" cx="179.7" cy="148" r="2.9"/>
<circle class="sb" cx="179.7" cy="170.1" r="2.9"/>
<circle class="mb" cx="180.6" cy="199.8" r="4.0"/>
<circle class="mb" cx="191.9" cy="159.1" r="4.0"/>
<circle class="sb" cx="192.8" cy="189.6" r="2.9"/>
<circle class="sb" cx="192.8" cy="210.7" r="2.9"/>
<circle class="sb" cx="216.4" cy="148" r="2.9"/>
<circle class="sb" cx="216.4" cy="170.1" r="2.9"/>
<circle class="mb" cx="217.3" cy="199.8" r="4.0"/>
<circle class="mb" cx="228.6" cy="159.1" r="4.0"/>
<circle class="sb" cx="229.5" cy="189.6" r="2.9"/>
<circle class="sb" cx="229.5" cy="210.7" r="2.9"/>
<circle class="sb" cx="253.1" cy="148" r="2.9"/>
<circle class="sb" cx="253.1" cy="170.1" r="2.9"/>
<circle class="mb" cx="254" cy="199.8" r="4.0"/>
<circle class="mb" cx="265.3" cy="159.1" r="4.0"/>
<circle class="sb" cx="266.2" cy="189.6" r="2.9"/>
<circle class="sb" cx="266.2" cy="210.7" r="2.9"/>
<circle class="sb" cx="289.8" cy="148" r="2.9"/>
<circle class="sb" cx="289.8" cy="170.1" r="2.9"/>
<circle class="mb" cx="290.7" cy="199.8" r="4.0"/>
<circle class="mb" cx="302" cy="159.1" r="4.0"/>
<circle class="sb" cx="302.9" cy="189.6" r="2.9"/>
<circle class="sb" cx="302.9" cy="210.7" r="2.9"/>
<circle class="sb" cx="326.5" cy="148" r="2.9"/>
<circle class="sb" cx="326.5" cy="170.1" r="2.9"/>
<circle class="mb" cx="327.4" cy="199.8" r="4.0"/>
<circle class="mb" cx="338.7" cy="159.1" r="4.0"/>
<circle class="sb" cx="339.6" cy="189.6" r="2.9"/>
<circle class="sb" cx="339.6" cy="210.7" r="2.9"/>
<circle class="sb" cx="363.2" cy="148" r="2.9"/>
<circle class="sb" cx="363.2" cy="170.1" r="2.9"/>
<circle class="mb" cx="364.1" cy="199.8" r="4.0"/>
<circle class="mb" cx="375.4" cy="159.1" r="4.0"/>
<circle class="sb" cx="376.3" cy="189.6" r="2.9"/>
<circle class="sb" cx="376.3" cy="210.7" r="2.9"/>
<circle class="sb" cx="399.9" cy="148" r="2.9"/>
<circle class="sb" cx="399.9" cy="170.1" r="2.9"/>
<circle class="mb" cx="400.8" cy="199.8" r="4.0"/>
<path class="p" stroke-width="3.1" d="M161.7 200.3L158.4 195.3M161.7 200.3L158.4 206M161.7 200.3L158.9 194.9M161.7 200.3L158.9 205.5M161.7 200.3L167.9 195.1M161.7 200.3L167.9 205.8M173.1 159.2L167 153.6M173.1 159.2L167 164.7M173.1 159.2L176 153.7M173.1 159.2L176 164.8M173.1 159.2L176.4 153.6M173.1 159.2L176.4 164.7M198.7 200.3L195.5 195.3M198.7 200.3L195.5 206M198.7 200.3L195.7 194.9M198.7 200.3L195.7 205.5M198.7 200.3L204.9 195.1M198.7 200.3L204.9 205.8M210.1 159.2L204 153.6M210.1 159.2L204 164.7M210.1 159.2L213.2 153.7M210.1 159.2L213.2 164.8M210.1 159.2L213.3 153.6M210.1 159.2L213.3 164.7M235.7 200.3L232.7 195.3M235.7 200.3L232.7 206M235.7 200.3L232.6 194.9M235.7 200.3L232.6 205.5M235.7 200.3L241.9 195.1M235.7 200.3L241.9 205.8M247.1 159.2L241 153.6M247.1 159.2L241 164.7M247.1 159.2L250.3 153.7M247.1 159.2L250.3 164.8M247.1 159.2L250.1 153.6M247.1 159.2L250.1 164.7M272.7 200.3L269.8 195.3M272.7 200.3L269.8 206M272.7 200.3L269.4 194.9M272.7 200.3L269.4 205.5M272.7 200.3L278.9 195.1M272.7 200.3L278.9 205.8M284.1 159.2L278 153.6M284.1 159.2L278 164.7M284.1 159.2L287.5 153.7M284.1 159.2L287.5 164.8M284.1 159.2L287 153.6M284.1 159.2L287 164.7M309.7 200.3L307 195.3M309.7 200.3L307 206M309.7 200.3L306.3 194.9M309.7 200.3L306.3 205.5M309.7 200.3L315.9 195.1M309.7 200.3L315.9 205.8M321.1 159.2L315 153.6M321.1 159.2L315 164.7M321.1 159.2L324.6 153.7M321.1 159.2L324.6 164.8M321.1 159.2L323.8 153.6M321.1 159.2L323.8 164.7M346.7 200.3L344.1 195.3M346.7 200.3L344.1 206M346.7 200.3L343.1 194.9M346.7 200.3L343.1 205.5M346.7 200.3L352.9 195.1M346.7 200.3L352.9 205.8M358.1 159.2L352 153.6M358.1 159.2L352 164.7M358.1 159.2L361.8 153.7M358.1 159.2L361.8 164.8M358.1 159.2L360.6 153.6M358.1 159.2L360.6 164.7M383.7 200.3L381.3 195.3M383.7 200.3L381.3 206M383.7 200.3L380 194.9M383.7 200.3L380 205.5M383.7 200.3L389.9 195.1M383.7 200.3L389.9 205.8M395.1 159.2L389 153.6M395.1 159.2L389 164.7M395.1 159.2L398.9 153.7M395.1 159.2L398.9 164.8M395.1 159.2L397.5 153.6M395.1 159.2L397.5 164.7"/>
<path class="y" stroke-width="3.1" d="M157.4 153.7L160.8 148.1M157.4 164.8L160.8 170.3M167.9 195.1L174 189.9M167.9 205.8L174 211.2M158 153.6L160.8 148.1M158 164.7L160.8 170.3M176.9 195.3L174 189.9M176.9 206L174 211.2M167 153.6L160.8 148.1M167 164.7L160.8 170.3M177.3 194.9L174 189.9M177.3 205.5L174 211.2M194.6 153.7L197.8 148.1M194.6 164.8L197.8 170.3M204.9 195.1L211 189.9M204.9 205.8L211 211.2M194.8 153.6L197.8 148.1M194.8 164.7L197.8 170.3M214.1 195.3L211 189.9M214.1 206L211 211.2M204 153.6L197.8 148.1M204 164.7L197.8 170.3M214.2 194.9L211 189.9M214.2 205.5L211 211.2M231.7 153.7L234.8 148.1M231.7 164.8L234.8 170.3M241.9 195.1L248 189.9M241.9 205.8L248 211.2M231.7 153.6L234.8 148.1M231.7 164.7L234.8 170.3M251.2 195.3L248 189.9M251.2 206L248 211.2M241 153.6L234.8 148.1M241 164.7L234.8 170.3M251 194.9L248 189.9M251 205.5L248 211.2M268.9 153.7L271.8 148.1M268.9 164.8L271.8 170.3M278.9 195.1L285 189.9M278.9 205.8L285 211.2M268.5 153.6L271.8 148.1M268.5 164.7L271.8 170.3M288.4 195.3L285 189.9M288.4 206L285 211.2M278 153.6L271.8 148.1M278 164.7L271.8 170.3M287.9 194.9L285 189.9M287.9 205.5L285 211.2M306 153.7L308.8 148.1M306 164.8L308.8 170.3M315.9 195.1L322 189.9M315.9 205.8L322 211.2M305.4 153.6L308.8 148.1M305.4 164.7L308.8 170.3M325.5 195.3L322 189.9M325.5 206L322 211.2M315 153.6L308.8 148.1M315 164.7L308.8 170.3M324.7 194.9L322 189.9M324.7 205.5L322 211.2M343.2 153.7L345.8 148.1M343.2 164.8L345.8 170.3M352.9 195.1L359 189.9M352.9 205.8L359 211.2M342.2 153.6L345.8 148.1M342.2 164.7L345.8 170.3M362.7 195.3L359 189.9M362.7 206L359 211.2M352 153.6L345.8 148.1M352 164.7L345.8 170.3M361.6 194.9L359 189.9M361.6 205.5L359 211.2M380.3 153.7L382.8 148.1M380.3 164.8L382.8 170.3M389.9 195.1L396 189.9M389.9 205.8L396 211.2M379.1 153.6L382.8 148.1M379.1 164.7L382.8 170.3M399.9 195.3L396 189.9M399.9 206L396 211.2M389 153.6L382.8 148.1M389 164.7L382.8 170.3M398.4 194.9L396 189.9M398.4 205.5L396 211.2"/>
<circle class="sb" cx="160.8" cy="148.1" r="2.9"/>
<circle class="sb" cx="160.8" cy="170.3" r="2.9"/>
<circle class="mb" cx="161.7" cy="200.3" r="4.1"/>
<circle class="mb" cx="173.1" cy="159.2" r="4.1"/>
<circle class="sb" cx="174" cy="189.9" r="2.9"/>
<circle class="sb" cx="174" cy="211.2" r="2.9"/>
<circle class="sb" cx="197.8" cy="148.1" r="2.9"/>
<circle class="sb" cx="197.8" cy="170.3" r="2.9"/>
<circle class="mb" cx="198.7" cy="200.3" r="4.1"/>
<circle class="mb" cx="210.1" cy="159.2" r="4.1"/>
<circle class="sb" cx="211" cy="189.9" r="2.9"/>
<circle class="sb" cx="211" cy="211.2" r="2.9"/>
<circle class="sb" cx="234.8" cy="148.1" r="2.9"/>
<circle class="sb" cx="234.8" cy="170.3" r="2.9"/>
<circle class="mb" cx="235.7" cy="200.3" r="4.1"/>
<circle class="mb" cx="247.1" cy="159.2" r="4.1"/>
<circle class="sb" cx="248" cy="189.9" r="2.9"/>
<circle class="sb" cx="248" cy="211.2" r="2.9"/>
<circle class="sb" cx="271.8" cy="148.1" r="2.9"/>
<circle class="sb" cx="271.8" cy="170.3" r="2.9"/>
<circle class="mb" cx="272.7" cy="200.3" r="4.1"/>
<circle class="mb" cx="284.1" cy="159.2" r="4.1"/>
<circle class="sb" cx="285" cy="189.9" r="2.9"/>
<circle class="sb" cx="285" cy="211.2" r="2.9"/>
<circle class="sb" cx="308.8" cy="148.1" r="2.9"/>
<circle class="sb" cx="308.8" cy="170.3" r="2.9"/>
<circle class="mb" cx="309.7" cy="200.3" r="4.1"/>
<circle class="mb" cx="321.1" cy="159.2" r="4.1"/>
<circle class="sb" cx="322" cy="189.9" r="2.9"/>
<circle class="sb" cx="322" cy="211.2" r="2.9"/>
<circle class="sb" cx="345.8" cy="148.1" r="2.9"/>
<circle class="sb" cx="345.8" cy="170.3" r="2.9"/>
<circle class="mb" cx="346.7" cy="200.3" r="4.1"/>
<circle class="mb" cx="358.1" cy="159.2" r="4.1"/>
<circle class="sb" cx="359" cy="189.9" r="2.9"/>
<circle class="sb" cx="359" cy="211.2" r="2.9"/>
<circle class="sb" cx="382.8" cy="148.1" r="2.9"/>
<circle class="sb" cx="382.8" cy="170.3" r="2.9"/>
<circle class="mb" cx="383.7" cy="200.3" r="4.1"/>
<circle class="mb" cx="395.1" cy="159.2" r="4.1"/>
<circle class="sb" cx="396" cy="189.9" r="2.9"/>
<circle class="sb" cx="396" cy="211.2" r="2.9"/>
<path class="p" stroke-width="3.1" d="M154 159.3L156.9 153.8M154 159.3L156.9 165M154 159.3L157.4 153.7M154 159.3L157.4 164.8M179.8 200.8L176.5 195.8M179.8 200.8L176.5 206.5M179.8 200.8L176.9 195.3M179.8 200.8L176.9 206M179.8 200.8L186.1 195.5M179.8 200.8L186.1 206.3M191.3 159.3L185.1 153.7M191.3 159.3L185.1 164.9M191.3 159.3L194.3 153.8M191.3 159.3L194.3 165M191.3 159.3L194.6 153.7M191.3 159.3L194.6 164.8M217.1 200.8L214 195.8M217.1 200.8L214 206.5M217.1 200.8L214.1 195.3M217.1 200.8L214.1 206M217.1 200.8L223.4 195.5M217.1 200.8L223.4 206.3M228.7 159.3L222.4 153.7M228.7 159.3L222.4 164.9M228.7 159.3L231.8 153.8M228.7 159.3L231.8 165M228.7 159.3L231.7 153.7M228.7 159.3L231.7 164.8M254.5 200.8L251.5 195.8M254.5 200.8L251.5 206.5M254.5 200.8L251.2 195.3M254.5 200.8L251.2 206M254.5 200.8L260.7 195.5M254.5 200.8L260.7 206.3M266 159.3L259.7 153.7M266 159.3L259.7 164.9M266 159.3L269.2 153.8M266 159.3L269.2 165M266 159.3L268.9 153.7M266 159.3L268.9 164.8M291.8 200.8L288.9 195.8M291.8 200.8L288.9 206.5M291.8 200.8L288.4 195.3M291.8 200.8L288.4 206M291.8 200.8L298 195.5M291.8 200.8L298 206.3M303.3 159.3L297 153.7M303.3 159.3L297 164.9M303.3 159.3L306.7 153.8M303.3 159.3L306.7 165M303.3 159.3L306 153.7M303.3 159.3L306 164.8M329.1 200.8L326.4 195.8M329.1 200.8L326.4 206.5M329.1 200.8L325.5 195.3M329.1 200.8L325.5 206M329.1 200.8L335.3 195.5M329.1 200.8L335.3 206.3M340.6 159.3L334.4 153.7M340.6 159.3L334.4 164.9M340.6 159.3L344.2 153.8M340.6 159.3L344.2 165M340.6 159.3L343.2 153.7M340.6 159.3L343.2 164.8M366.4 200.8L363.8 195.8M366.4 200.8L363.8 206.5M366.4 200.8L362.7 195.3M366.4 200.8L362.7 206M366.4 200.8L372.6 195.5M366.4 200.8L372.6 206.3M377.9 159.3L371.7 153.7M377.9 159.3L371.7 164.9M377.9 159.3L381.6 153.8M377.9 159.3L381.6 165M377.9 159.3L380.3 153.7M377.9 159.3L380.3 164.8M403.7 200.8L401.3 195.8M403.7 200.8L401.3 206.5M403.7 200.8L399.9 195.3M403.7 200.8L399.9 206"/>
<path class="y" stroke-width="3.1" d="M157.8 195.8L155 190.3M157.8 206.5L155 211.8M158.4 195.3L155 190.3M158.4 206L155 211.8M175.6 153.8L178.9 148.1M175.6 165L178.9 170.5M186.1 195.5L192.3 190.3M186.1 206.3L192.3 211.8M176 153.7L178.9 148.1M176 164.8L178.9 170.5M195.3 195.8L192.3 190.3M195.3 206.5L192.3 211.8M185.1 153.7L178.9 148.1M185.1 164.9L178.9 170.5M195.5 195.3L192.3 190.3M195.5 206L192.3 211.8M213.1 153.8L216.2 148.1M213.1 165L216.2 170.5M223.4 195.5L229.6 190.3M223.4 206.3L229.6 211.8M213.2 153.7L216.2 148.1M213.2 164.8L216.2 170.5M232.7 195.8L229.6 190.3M232.7 206.5L229.6 211.8M222.4 153.7L216.2 148.1M222.4 164.9L216.2 170.5M232.7 195.3L229.6 190.3M232.7 206L229.6 211.8M250.5 153.8L253.5 148.1M250.5 165L253.5 170.5M260.7 195.5L266.9 190.3M260.7 206.3L266.9 211.8M250.3 153.7L253.5 148.1M250.3 164.8L253.5 170.5M270.2 195.8L266.9 190.3M270.2 206.5L266.9 211.8M259.7 153.7L253.5 148.1M259.7 164.9L253.5 170.5M269.8 195.3L266.9 190.3M269.8 206L266.9 211.8M288 153.8L290.8 148.1M288 165L290.8 170.5M298 195.5L304.2 190.3M298 206.3L304.2 211.8M287.5 153.7L290.8 148.1M287.5 164.8L290.8 170.5M307.6 195.8L304.2 190.3M307.6 206.5L304.2 211.8M297 153.7L290.8 148.1M297 164.9L290.8 170.5M307 195.3L304.2 190.3M307 206L304.2 211.8M325.4 153.8L328.1 148.1M325.4 165L328.1 170.5M335.3 195.5L341.5 190.3M335.3 206.3L341.5 211.8M324.6 153.7L328.1 148.1M324.6 164.8L328.1 170.5M345.1 195.8L341.5 190.3M345.1 206.5L341.5 211.8M334.4 153.7L328.1 148.1M334.4 164.9L328.1 170.5M344.1 195.3L341.5 190.3M344.1 206L341.5 211.8M362.9 153.8L365.4 148.1M362.9 165L365.4 170.5M372.6 195.5L378.8 190.3M372.6 206.3L378.8 211.8M361.8 153.7L365.4 148.1M361.8 164.8L365.4 170.5M382.6 195.8L378.8 190.3M382.6 206.5L378.8 211.8M371.7 153.7L365.4 148.1M371.7 164.9L365.4 170.5M381.3 195.3L378.8 190.3M381.3 206L378.8 211.8M400.4 153.8L402.7 148.1M400.4 165L402.7 170.5M398.9 153.7L402.7 148.1M398.9 164.8L402.7 170.5"/>
<circle class="mb" cx="154" cy="159.3" r="4.1"/>
<circle class="sb" cx="155" cy="190.3" r="2.9"/>
<circle class="sb" cx="155" cy="211.8" r="2.9"/>
<circle class="sb" cx="178.9" cy="148.1" r="2.9"/>
<circle class="sb" cx="178.9" cy="170.5" r="2.9"/>
<circle class="mb" cx="179.8" cy="200.8" r="4.1"/>
<circle class="mb" cx="191.3" cy="159.3" r="4.1"/>
<circle class="sb" cx="192.3" cy="190.3" r="2.9"/>
<circle class="sb" cx="192.3" cy="211.8" r="2.9"/>
<circle class="sb" cx="216.2" cy="148.1" r="2.9"/>
<circle class="sb" cx="216.2" cy="170.5" r="2.9"/>
<circle class="mb" cx="217.1" cy="200.8" r="4.1"/>
<circle class="mb" cx="228.7" cy="159.3" r="4.1"/>
<circle class="sb" cx="229.6" cy="190.3" r="2.9"/>
<circle class="sb" cx="229.6" cy="211.8" r="2.9"/>
<circle class="sb" cx="253.5" cy="148.1" r="2.9"/>
<circle class="sb" cx="253.5" cy="170.5" r="2.9"/>
<circle class="mb" cx="254.5" cy="200.8" r="4.1"/>
<circle class="mb" cx="266" cy="159.3" r="4.1"/>
<circle class="sb" cx="266.9" cy="190.3" r="2.9"/>
<circle class="sb" cx="266.9" cy="211.8" r="2.9"/>
<circle class="sb" cx="290.8" cy="148.1" r="2.9"/>
<circle class="sb" cx="290.8" cy="170.5" r="2.9"/>
<circle class="mb" cx="291.8" cy="200.8" r="4.1"/>
<circle class="mb" cx="303.3" cy="159.3" r="4.1"/>
<circle class="sb" cx="304.2" cy="190.3" r="2.9"/>
<circle class="sb" cx="304.2" cy="211.8" r="2.9"/>
<circle class="sb" cx="328.1" cy="148.1" r="2.9"/>
<circle class="sb" cx="328.1" cy="170.5" r="2.9"/>
<circle class="mb" cx="329.1" cy="200.8" r="4.1"/>
<circle class="mb" cx="340.6" cy="159.3" r="4.1"/>
<circle class="sb" cx="341.5" cy="190.3" r="2.9"/>
<circle class="sb" cx="341.5" cy="211.8" r="2.9"/>
<circle class="sb" cx="365.4" cy="148.1" r="2.9"/>
<circle class="sb" cx="365.4" cy="170.5" r="2.9"/>
<circle class="mb" cx="366.4" cy="200.8" r="4.1"/>
<circle class="mb" cx="377.9" cy="159.3" r="4.1"/>
<circle class="sb" cx="378.8" cy="190.3" r="2.9"/>
<circle class="sb" cx="378.8" cy="211.8" r="2.9"/>
<circle class="sb" cx="402.7" cy="148.1" r="2.9"/>
<circle class="sb" cx="402.7" cy="170.5" r="2.9"/>
<circle class="mb" cx="403.7" cy="200.8" r="4.1"/>
<path class="p" stroke-width="3.1" d="M160.7 201.2L157.2 196.2M160.7 201.2L157.2 207.1M160.7 201.2L157.8 195.8M160.7 201.2L157.8 206.5M160.7 201.2L166.9 196M160.7 201.2L166.9 206.8M172.3 159.4L166 153.8M172.3 159.4L166 165.1M172.3 159.4L175.2 153.8M172.3 159.4L175.2 165.2M172.3 159.4L175.6 153.8M172.3 159.4L175.6 165M198.3 201.2L195 196.2M198.3 201.2L195 207.1M198.3 201.2L195.3 195.8M198.3 201.2L195.3 206.5M198.3 201.2L204.5 196M198.3 201.2L204.5 206.8M209.9 159.4L203.6 153.8M209.9 159.4L203.6 165.1M209.9 159.4L213 153.8M209.9 159.4L213 165.2M209.9 159.4L213.1 153.8M209.9 159.4L213.1 165M235.9 201.2L232.8 196.2M235.9 201.2L232.8 207.1M235.9 201.2L232.7 195.8M235.9 201.2L232.7 206.5M235.9 201.2L242.2 196M235.9 201.2L242.2 206.8M247.5 159.4L241.2 153.8M247.5 159.4L241.2 165.1M247.5 159.4L250.7 153.8M247.5 159.4L250.7 165.2M247.5 159.4L250.5 153.8M247.5 159.4L250.5 165M273.5 201.2L270.6 196.2M273.5 201.2L270.6 207.1M273.5 201.2L270.2 195.8M273.5 201.2L270.2 206.5M273.5 201.2L279.8 196M273.5 201.2L279.8 206.8M285.1 159.4L278.8 153.8M285.1 159.4L278.8 165.1M285.1 159.4L288.5 153.8M285.1 159.4L288.5 165.2M285.1 159.4L288 153.8M285.1 159.4L288 165M311.1 201.2L308.3 196.2M311.1 201.2L308.3 207.1M311.1 201.2L307.6 195.8M311.1 201.2L307.6 206.5M311.1 201.2L317.4 196M311.1 201.2L317.4 206.8M322.7 159.4L316.5 153.8M322.7 159.4L316.5 165.1M322.7 159.4L326.3 153.8M322.7 159.4L326.3 165.2M322.7 159.4L325.4 153.8M322.7 159.4L325.4 165M348.7 201.2L346.1 196.2M348.7 201.2L346.1 207.1M348.7 201.2L345.1 195.8M348.7 201.2L345.1 206.5M348.7 201.2L355 196M348.7 201.2L355 206.8M360.3 159.4L354.1 153.8M360.3 159.4L354.1 165.1M360.3 159.4L364.1 153.8M360.3 159.4L364.1 165.2M360.3 159.4L362.9 153.8M360.3 159.4L362.9 165M386.4 201.2L383.9 196.2M386.4 201.2L383.9 207.1M386.4 201.2L382.6 195.8M386.4 201.2L382.6 206.5M386.4 201.2L392.6 196M386.4 201.2L392.6 206.8M398 159.4L391.7 153.8M398 159.4L391.7 165.1M398 159.4L401.8 153.8M398 159.4L401.8 165.2M398 159.4L400.4 153.8M398 159.4L400.4 165"/>
<path class="y" stroke-width="3.1" d="M156.3 153.8L159.7 148.1M156.3 165.2L159.7 170.7M166.9 196L173.2 190.7M166.9 206.8L173.2 212.4M156.9 153.8L159.7 148.1M156.9 165L159.7 170.7M176.1 196.2L173.2 190.7M176.1 207.1L173.2 212.4M166 153.8L159.7 148.1M166 165.1L159.7 170.7M176.5 195.8L173.2 190.7M176.5 206.5L173.2 212.4M194.1 153.8L197.3 148.1M194.1 165.2L197.3 170.7M204.5 196L210.8 190.7M204.5 206.8L210.8 212.4M194.3 153.8L197.3 148.1M194.3 165L197.3 170.7M213.9 196.2L210.8 190.7M213.9 207.1L210.8 212.4M203.6 153.8L197.3 148.1M203.6 165.1L197.3 170.7M214 195.8L210.8 190.7M214 206.5L210.8 212.4M231.8 153.8L235 148.1M231.8 165.2L235 170.7M242.2 196L248.4 190.7M242.2 206.8L248.4 212.4M231.8 153.8L235 148.1M231.8 165L235 170.7M251.7 196.2L248.4 190.7M251.7 207.1L248.4 212.4M241.2 153.8L235 148.1M241.2 165.1L235 170.7M251.5 195.8L248.4 190.7M251.5 206.5L248.4 212.4M269.6 153.8L272.6 148.1M269.6 165.2L272.6 170.7M279.8 196L286.1 190.7M279.8 206.8L286.1 212.4M269.2 153.8L272.6 148.1M269.2 165L272.6 170.7M289.5 196.2L286.1 190.7M289.5 207.1L286.1 212.4M278.8 153.8L272.6 148.1M278.8 165.1L272.6 170.7M288.9 195.8L286.1 190.7M288.9 206.5L286.1 212.4M307.4 153.8L310.2 148.1M307.4 165.2L310.2 170.7M317.4 196L323.7 190.7M317.4 206.8L323.7 212.4M306.7 153.8L310.2 148.1M306.7 165L310.2 170.7M327.2 196.2L323.7 190.7M327.2 207.1L323.7 212.4M316.5 153.8L310.2 148.1M316.5 165.1L310.2 170.7M326.4 195.8L323.7 190.7M326.4 206.5L323.7 212.4M345.2 153.8L347.8 148.1M345.2 165.2L347.8 170.7M355 196L361.3 190.7M355 206.8L361.3 212.4M344.2 153.8L347.8 148.1M344.2 165L347.8 170.7M365 196.2L361.3 190.7M365 207.1L361.3 212.4M354.1 153.8L347.8 148.1M354.1 165.1L347.8 170.7M363.8 195.8L361.3 190.7M363.8 206.5L361.3 212.4M383 153.8L385.4 148.1M383 165.2L385.4 170.7M392.6 196L398.9 190.7M392.6 206.8L398.9 212.4M381.6 153.8L385.4 148.1M381.6 165L385.4 170.7M402.8 196.2L398.9 190.7M402.8 207.1L398.9 212.4M391.7 153.8L385.4 148.1M391.7 165.1L385.4 170.7M401.3 195.8L398.9 190.7M401.3 206.5L398.9 212.4"/>
<circle class="sb" cx="159.7" cy="148.1" r="3.0"/>
<circle class="sb" cx="159.7" cy="170.7" r="3.0"/>
<circle class="mb" cx="160.7" cy="201.2" r="4.1"/>
<circle class="mb" cx="172.3" cy="159.4" r="4.1"/>
<circle class="sb" cx="173.2" cy="190.7" r="3.0"/>
<circle class="sb" cx="173.2" cy="212.4" r="3.0"/>
<circle class="sb" cx="197.3" cy="148.1" r="3.0"/>
<circle class="sb" cx="197.3" cy="170.7" r="3.0"/>
<circle class="mb" cx="198.3" cy="201.2" r="4.1"/>
<circle class="mb" cx="209.9" cy="159.4" r="4.1"/>
<circle class="sb" cx="210.8" cy="190.7" r="3.0"/>
<circle class="sb" cx="210.8" cy="212.4" r="3.0"/>
<circle class="sb" cx="235" cy="148.1" r="3.0"/>
<circle class="sb" cx="235" cy="170.7" r="3.0"/>
<circle class="mb" cx="235.9" cy="201.2" r="4.1"/>
<circle class="mb" cx="247.5" cy="159.4" r="4.1"/>
<circle class="sb" cx="248.4" cy="190.7" r="3.0"/>
<circle class="sb" cx="248.4" cy="212.4" r="3.0"/>
<circle class="sb" cx="272.6" cy="148.1" r="3.0"/>
<circle class="sb" cx="272.6" cy="170.7" r="3.0"/>
<circle class="mb" cx="273.5" cy="201.2" r="4.1"/>
<circle class="mb" cx="285.1" cy="159.4" r="4.1"/>
<circle class="sb" cx="286.1" cy="190.7" r="3.0"/>
<circle class="sb" cx="286.1" cy="212.4" r="3.0"/>
<circle class="sb" cx="310.2" cy="148.1" r="3.0"/>
<circle class="sb" cx="310.2" cy="170.7" r="3.0"/>
<circle class="mb" cx="311.1" cy="201.2" r="4.1"/>
<circle class="mb" cx="322.7" cy="159.4" r="4.1"/>
<circle class="sb" cx="323.7" cy="190.7" r="3.0"/>
<circle class="sb" cx="323.7" cy="212.4" r="3.0"/>
<circle class="sb" cx="347.8" cy="148.1" r="3.0"/>
<circle class="sb" cx="347.8" cy="170.7" r="3.0"/>
<circle class="mb" cx="348.7" cy="201.2" r="4.1"/>
<circle class="mb" cx="360.3" cy="159.4" r="4.1"/>
<circle class="sb" cx="361.3" cy="190.7" r="3.0"/>
<circle class="sb" cx="361.3" cy="212.4" r="3.0"/>
<circle class="sb" cx="385.4" cy="148.1" r="3.0"/>
<circle class="sb" cx="385.4" cy="170.7" r="3.0"/>
<circle class="mb" cx="386.4" cy="201.2" r="4.1"/>
<circle class="mb" cx="398" cy="159.4" r="4.1"/>
<circle class="sb" cx="398.9" cy="190.7" r="3.0"/>
<circle class="sb" cx="398.9" cy="212.4" r="3.0"/>
<path class="p" stroke-width="3.1" d="M152.8 159.6L155.7 153.9M152.8 159.6L155.7 165.4M152.8 159.6L156.3 153.8M152.8 159.6L156.3 165.2M179.1 201.7L175.7 196.6M179.1 201.7L175.7 207.6M179.1 201.7L176.1 196.2M179.1 201.7L176.1 207.1M179.1 201.7L185.4 196.4M179.1 201.7L185.4 207.3M190.8 159.6L184.5 153.9M190.8 159.6L184.5 165.3M190.8 159.6L193.8 153.9M190.8 159.6L193.8 165.4M190.8 159.6L194.1 153.8M190.8 159.6L194.1 165.2M217 201.7L213.8 196.6M217 201.7L213.8 207.6M217 201.7L213.9 196.2M217 201.7L213.9 207.1M217 201.7L223.3 196.4M217 201.7L223.3 207.3M228.7 159.6L222.4 153.9M228.7 159.6L222.4 165.3M228.7 159.6L231.9 153.9M228.7 159.6L231.9 165.4M228.7 159.6L231.8 153.8M228.7 159.6L231.8 165.2M255 201.7L251.9 196.6M255 201.7L251.9 207.6M255 201.7L251.7 196.2M255 201.7L251.7 207.1M255 201.7L261.3 196.4M255 201.7L261.3 207.3M266.6 159.6L260.3 153.9M266.6 159.6L260.3 165.3M266.6 159.6L270 153.9M266.6 159.6L270 165.4M266.6 159.6L269.6 153.8M266.6 159.6L269.6 165.2M292.9 201.7L290 196.6M292.9 201.7L290 207.6M292.9 201.7L289.5 196.2M292.9 201.7L289.5 207.1M292.9 201.7L299.2 196.4M292.9 201.7L299.2 207.3M304.6 159.6L298.3 153.9M304.6 159.6L298.3 165.3M304.6 159.6L308.1 153.9M304.6 159.6L308.1 165.4M304.6 159.6L307.4 153.8M304.6 159.6L307.4 165.2M330.8 201.7L328.1 196.6M330.8 201.7L328.1 207.6M330.8 201.7L327.2 196.2M330.8 201.7L327.2 207.1M330.8 201.7L337.1 196.4M330.8 201.7L337.1 207.3M342.5 159.6L336.2 153.9M342.5 159.6L336.2 165.3M342.5 159.6L346.2 153.9M342.5 159.6L346.2 165.4M342.5 159.6L345.2 153.8M342.5 159.6L345.2 165.2M368.8 201.7L366.2 196.6M368.8 201.7L366.2 207.6M368.8 201.7L365 196.2M368.8 201.7L365 207.1M368.8 201.7L375.1 196.4M368.8 201.7L375.1 207.3M380.5 159.6L374.1 153.9M380.5 159.6L374.1 165.3M380.5 159.6L384.3 153.9M380.5 159.6L384.3 165.4M380.5 159.6L383 153.8M380.5 159.6L383 165.2M406.7 201.7L404.3 196.6M406.7 201.7L404.3 207.6M406.7 201.7L402.8 196.2M406.7 201.7L402.8 207.1"/>
<path class="y" stroke-width="3.1" d="M156.7 196.6L153.8 191.1M156.7 207.6L153.8 212.9M157.2 196.2L153.8 191.1M157.2 207.1L153.8 212.9M174.8 153.9L178.1 148.2M174.8 165.4L178.1 171M185.4 196.4L191.7 191.1M185.4 207.3L191.7 212.9M175.2 153.8L178.1 148.2M175.2 165.2L178.1 171M194.8 196.6L191.7 191.1M194.8 207.6L191.7 212.9M184.5 153.9L178.1 148.2M184.5 165.3L178.1 171M195 196.2L191.7 191.1M195 207.1L191.7 212.9M212.9 153.9L216.1 148.2M212.9 165.4L216.1 171M223.3 196.4L229.7 191.1M223.3 207.3L229.7 212.9M213 153.8L216.1 148.2M213 165.2L216.1 171M232.9 196.6L229.7 191.1M232.9 207.6L229.7 212.9M222.4 153.9L216.1 148.2M222.4 165.3L216.1 171M232.8 196.2L229.7 191.1M232.8 207.1L229.7 212.9M251 153.9L254 148.2M251 165.4L254 171M261.3 196.4L267.6 191.1M261.3 207.3L267.6 212.9M250.7 153.8L254 148.2M250.7 165.2L254 171M271 196.6L267.6 191.1M271 207.6L267.6 212.9M260.3 153.9L254 148.2M260.3 165.3L254 171M270.6 196.2L267.6 191.1M270.6 207.1L267.6 212.9M289 153.9L291.9 148.2M289 165.4L291.9 171M299.2 196.4L305.5 191.1M299.2 207.3L305.5 212.9M288.5 153.8L291.9 148.2M288.5 165.2L291.9 171M309 196.6L305.5 191.1M309 207.6L305.5 212.9M298.3 153.9L291.9 148.2M298.3 165.3L291.9 171M308.3 196.2L305.5 191.1M308.3 207.1L305.5 212.9M327.1 153.9L329.9 148.2M327.1 165.4L329.9 171M337.1 196.4L343.5 191.1M337.1 207.3L343.5 212.9M326.3 153.8L329.9 148.2M326.3 165.2L329.9 171M347.1 196.6L343.5 191.1M347.1 207.6L343.5 212.9M336.2 153.9L329.9 148.2M336.2 165.3L329.9 171M346.1 196.2L343.5 191.1M346.1 207.1L343.5 212.9M365.2 153.9L367.8 148.2M365.2 165.4L367.8 171M375.1 196.4L381.4 191.1M375.1 207.3L381.4 212.9M364.1 153.8L367.8 148.2M364.1 165.2L367.8 171M385.2 196.6L381.4 191.1M385.2 207.6L381.4 212.9M374.1 153.9L367.8 148.2M374.1 165.3L367.8 171M383.9 196.2L381.4 191.1M383.9 207.1L381.4 212.9M403.3 153.9L405.7 148.2M403.3 165.4L405.7 171M401.8 153.8L405.7 148.2M401.8 165.2L405.7 171"/>
<circle class="mb" cx="152.8" cy="159.6" r="4.2"/>
<circle class="sb" cx="153.8" cy="191.1" r="3.0"/>
<circle class="sb" cx="153.8" cy="212.9" r="3.0"/>
<circle class="sb" cx="178.1" cy="148.2" r="3.0"/>
<circle class="sb" cx="178.1" cy="171" r="3.0"/>
<circle class="mb" cx="179.1" cy="201.7" r="4.2"/>
<circle class="mb" cx="190.8" cy="159.6" r="4.2"/>
<circle class="sb" cx="191.7" cy="191.1" r="3.0"/>
<circle class="sb" cx="191.7" cy="212.9" r="3.0"/>
<circle class="sb" cx="216.1" cy="148.2" r="3.0"/>
<circle class="sb" cx="216.1" cy="171" r="3.0"/>
<circle class="mb" cx="217" cy="201.7" r="4.2"/>
<circle class="mb" cx="228.7" cy="159.6" r="4.2"/>
<circle class="sb" cx="229.7" cy="191.1" r="3.0"/>
<circle class="sb" cx="229.7" cy="212.9" r="3.0"/>
<circle class="sb" cx="254" cy="148.2" r="3.0"/>
<circle class="sb" cx="254" cy="171" r="3.0"/>
<circle class="mb" cx="255" cy="201.7" r="4.2"/>
<circle class="mb" cx="266.6" cy="159.6" r="4.2"/>
<circle class="sb" cx="267.6" cy="191.1" r="3.0"/>
<circle class="sb" cx="267.6" cy="212.9" r="3.0"/>
<circle class="sb" cx="291.9" cy="148.2" r="3.0"/>
<circle class="sb" cx="291.9" cy="171" r="3.0"/>
<circle class="mb" cx="292.9" cy="201.7" r="4.2"/>
<circle class="mb" cx="304.6" cy="159.6" r="4.2"/>
<circle class="sb" cx="305.5" cy="191.1" r="3.0"/>
<circle class="sb" cx="305.5" cy="212.9" r="3.0"/>
<circle class="sb" cx="329.9" cy="148.2" r="3.0"/>
<circle class="sb" cx="329.9" cy="171" r="3.0"/>
<circle class="mb" cx="330.8" cy="201.7" r="4.2"/>
<circle class="mb" cx="342.5" cy="159.6" r="4.2"/>
<circle class="sb" cx="343.5" cy="191.1" r="3.0"/>
<circle class="sb" cx="343.5" cy="212.9" r="3.0"/>
<circle class="sb" cx="367.8" cy="148.2" r="3.0"/>
<circle class="sb" cx="367.8" cy="171" r="3.0"/>
<circle class="mb" cx="368.8" cy="201.7" r="4.2"/>
<circle class="mb" cx="380.5" cy="159.6" r="4.2"/>
<circle class="sb" cx="381.4" cy="191.1" r="3.0"/>
<circle class="sb" cx="381.4" cy="212.9" r="3.0"/>
<circle class="sb" cx="405.7" cy="148.2" r="3.0"/>
<circle class="sb" cx="405.7" cy="171" r="3.0"/>
<circle class="mb" cx="406.7" cy="201.7" r="4.2"/>
<path class="p" stroke-width="3.2" d="M159.6 202.2L156.1 197.1M159.6 202.2L156.1 208.1M159.6 202.2L156.7 196.6M159.6 202.2L156.7 207.6M159.6 202.2L165.9 196.9M159.6 202.2L165.9 207.9M171.4 159.7L165 154M171.4 159.7L165 165.4M171.4 159.7L174.3 154M171.4 159.7L174.3 165.5M171.4 159.7L174.8 153.9M171.4 159.7L174.8 165.4M197.8 202.2L194.5 197.1M197.8 202.2L194.5 208.1M197.8 202.2L194.8 196.6M197.8 202.2L194.8 207.6M197.8 202.2L204.2 196.9M197.8 202.2L204.2 207.9M209.6 159.7L203.2 154M209.6 159.7L203.2 165.4M209.6 159.7L212.8 154M209.6 159.7L212.8 165.5M209.6 159.7L212.9 153.9M209.6 159.7L212.9 165.4M236.1 202.2L232.9 197.1M236.1 202.2L232.9 208.1M236.1 202.2L232.9 196.6M236.1 202.2L232.9 207.6M236.1 202.2L242.5 196.9M236.1 202.2L242.5 207.9M247.9 159.7L241.5 154M247.9 159.7L241.5 165.4M247.9 159.7L251.2 154M247.9 159.7L251.2 165.5M247.9 159.7L251 153.9M247.9 159.7L251 165.4M274.3 202.2L271.3 197.1M274.3 202.2L271.3 208.1M274.3 202.2L271 196.6M274.3 202.2L271 207.6M274.3 202.2L280.7 196.9M274.3 202.2L280.7 207.9M286.1 159.7L279.8 154M286.1 159.7L279.8 165.4M286.1 159.7L289.6 154M286.1 159.7L289.6 165.5M286.1 159.7L289 153.9M286.1 159.7L289 165.4M312.6 202.2L309.8 197.1M312.6 202.2L309.8 208.1M312.6 202.2L309 196.6M312.6 202.2L309 207.6M312.6 202.2L319 196.9M312.6 202.2L319 207.9M324.4 159.7L318 154M324.4 159.7L318 165.4M324.4 159.7L328 154M324.4 159.7L328 165.5M324.4 159.7L327.1 153.9M324.4 159.7L327.1 165.4M350.9 202.2L348.2 197.1M350.9 202.2L348.2 208.1M350.9 202.2L347.1 196.6M350.9 202.2L347.1 207.6M350.9 202.2L357.2 196.9M350.9 202.2L357.2 207.9M362.6 159.7L356.3 154M362.6 159.7L356.3 165.4M362.6 159.7L366.4 154M362.6 159.7L366.4 165.5M362.6 159.7L365.2 153.9M362.6 159.7L365.2 165.4M389.1 202.2L386.6 197.1M389.1 202.2L386.6 208.1M389.1 202.2L385.2 196.6M389.1 202.2L385.2 207.6M389.1 202.2L395.5 196.9M389.1 202.2L395.5 207.9M400.9 159.7L394.5 154M400.9 159.7L394.5 165.4M400.9 159.7L404.9 154M400.9 159.7L404.9 165.5M400.9 159.7L403.3 153.9M400.9 159.7L403.3 165.4"/>
<path class="y" stroke-width="3.2" d="M155.1 154L158.6 148.2M155.1 165.5L158.6 171.2M165.9 196.9L172.3 191.5M165.9 207.9L172.3 213.5M155.7 153.9L158.6 148.2M155.7 165.4L158.6 171.2M175.3 197.1L172.3 191.5M175.3 208.1L172.3 213.5M165 154L158.6 148.2M165 165.4L158.6 171.2M175.7 196.6L172.3 191.5M175.7 207.6L172.3 213.5M193.5 154L196.9 148.2M193.5 165.5L196.9 171.2M204.2 196.9L210.6 191.5M204.2 207.9L210.6 213.5M193.8 153.9L196.9 148.2M193.8 165.4L196.9 171.2M213.7 197.1L210.6 191.5M213.7 208.1L210.6 213.5M203.2 154L196.9 148.2M203.2 165.4L196.9 171.2M213.8 196.6L210.6 191.5M213.8 207.6L210.6 213.5M232 154L235.1 148.2M232 165.5L235.1 171.2M242.5 196.9L248.8 191.5M242.5 207.9L248.8 213.5M231.9 153.9L235.1 148.2M231.9 165.4L235.1 171.2M252.1 197.1L248.8 191.5M252.1 208.1L248.8 213.5M241.5 154L235.1 148.2M241.5 165.4L235.1 171.2M251.9 196.6L248.8 191.5M251.9 207.6L248.8 213.5M270.4 154L273.4 148.2M270.4 165.5L273.4 171.2M280.7 196.9L287.1 191.5M280.7 207.9L287.1 213.5M270 153.9L273.4 148.2M270 165.4L273.4 171.2M290.6 197.1L287.1 191.5M290.6 208.1L287.1 213.5M279.8 154L273.4 148.2M279.8 165.4L273.4 171.2M290 196.6L287.1 191.5M290 207.6L287.1 213.5M308.8 154L311.6 148.2M308.8 165.5L311.6 171.2M319 196.9L325.3 191.5M319 207.9L325.3 213.5M308.1 153.9L311.6 148.2M308.1 165.4L311.6 171.2M329 197.1L325.3 191.5M329 208.1L325.3 213.5M318 154L311.6 148.2M318 165.4L311.6 171.2M328.1 196.6L325.3 191.5M328.1 207.6L325.3 213.5M347.2 154L349.9 148.2M347.2 165.5L349.9 171.2M357.2 196.9L363.6 191.5M357.2 207.9L363.6 213.5M346.2 153.9L349.9 148.2M346.2 165.4L349.9 171.2M367.4 197.1L363.6 191.5M367.4 208.1L363.6 213.5M356.3 154L349.9 148.2M356.3 165.4L349.9 171.2M366.2 196.6L363.6 191.5M366.2 207.6L363.6 213.5M385.6 154L388.2 148.2M385.6 165.5L388.2 171.2M395.5 196.9L401.9 191.5M395.5 207.9L401.9 213.5M384.3 153.9L388.2 148.2M384.3 165.4L388.2 171.2M405.8 197.1L401.9 191.5M405.8 208.1L401.9 213.5M394.5 154L388.2 148.2M394.5 165.4L388.2 171.2M404.3 196.6L401.9 191.5M404.3 207.6L401.9 213.5"/>
<circle class="sb" cx="158.6" cy="148.2" r="3.0"/>
<circle class="sb" cx="158.6" cy="171.2" r="3.0"/>
<circle class="mb" cx="159.6" cy="202.2" r="4.2"/>
<circle class="mb" cx="171.4" cy="159.7" r="4.2"/>
<circle class="sb" cx="172.3" cy="191.5" r="3.0"/>
<circle class="sb" cx="172.3" cy="213.5" r="3.0"/>
<circle class="sb" cx="196.9" cy="148.2" r="3.0"/>
<circle class="sb" cx="196.9" cy="171.2" r="3.0"/>
<circle class="mb" cx="197.8" cy="202.2" r="4.2"/>
<circle class="mb" cx="209.6" cy="159.7" r="4.2"/>
<circle class="sb" cx="210.6" cy="191.5" r="3.0"/>
<circle class="sb" cx="210.6" cy="213.5" r="3.0"/>
<circle class="sb" cx="235.1" cy="148.2" r="3.0"/>
<circle class="sb" cx="235.1" cy="171.2" r="3.0"/>
<circle class="mb" cx="236.1" cy="202.2" r="4.2"/>
<circle class="mb" cx="247.9" cy="159.7" r="4.2"/>
<circle class="sb" cx="248.8" cy="191.5" r="3.0"/>
<circle class="sb" cx="248.8" cy="213.5" r="3.0"/>
<circle class="sb" cx="273.4" cy="148.2" r="3.0"/>
<circle class="sb" cx="273.4" cy="171.2" r="3.0"/>
<circle class="mb" cx="274.3" cy="202.2" r="4.2"/>
<circle class="mb" cx="286.1" cy="159.7" r="4.2"/>
<circle class="sb" cx="287.1" cy="191.5" r="3.0"/>
<circle class="sb" cx="287.1" cy="213.5" r="3.0"/>
<circle class="sb" cx="311.6" cy="148.2" r="3.0"/>
<circle class="sb" cx="311.6" cy="171.2" r="3.0"/>
<circle class="mb" cx="312.6" cy="202.2" r="4.2"/>
<circle class="mb" cx="324.4" cy="159.7" r="4.2"/>
<circle class="sb" cx="325.3" cy="191.5" r="3.0"/>
<circle class="sb" cx="325.3" cy="213.5" r="3.0"/>
<circle class="sb" cx="349.9" cy="148.2" r="3.0"/>
<circle class="sb" cx="349.9" cy="171.2" r="3.0"/>
<circle class="mb" cx="350.9" cy="202.2" r="4.2"/>
<circle class="mb" cx="362.6" cy="159.7" r="4.2"/>
<circle class="sb" cx="363.6" cy="191.5" r="3.0"/>
<circle class="sb" cx="363.6" cy="213.5" r="3.0"/>
<circle class="sb" cx="388.2" cy="148.2" r="3.0"/>
<circle class="sb" cx="388.2" cy="171.2" r="3.0"/>
<circle class="mb" cx="389.1" cy="202.2" r="4.2"/>
<circle class="mb" cx="400.9" cy="159.7" r="4.2"/>
<circle class="sb" cx="401.9" cy="191.5" r="3.0"/>
<circle class="sb" cx="401.9" cy="213.5" r="3.0"/>
<path class="p" stroke-width="3.2" d="M151.6 159.8L154.5 154.1M151.6 159.8L154.5 165.7M151.6 159.8L155.1 154M151.6 159.8L155.1 165.5M178.3 202.7L174.9 197.5M178.3 202.7L174.9 208.7M178.3 202.7L175.3 197.1M178.3 202.7L175.3 208.1M178.3 202.7L184.7 197.3M178.3 202.7L184.7 208.4M190.2 159.8L183.8 154M190.2 159.8L183.8 165.6M190.2 159.8L193.3 154.1M190.2 159.8L193.3 165.7M190.2 159.8L193.5 154M190.2 159.8L193.5 165.5M216.9 202.7L213.6 197.5M216.9 202.7L213.6 208.7M216.9 202.7L213.7 197.1M216.9 202.7L213.7 208.1M216.9 202.7L223.3 197.3M216.9 202.7L223.3 208.4M228.8 159.8L222.3 154M228.8 159.8L222.3 165.6M228.8 159.8L232 154.1M228.8 159.8L232 165.7M228.8 159.8L232 154M228.8 159.8L232 165.5M255.5 202.7L252.4 197.5M255.5 202.7L252.4 208.7M255.5 202.7L252.1 197.1M255.5 202.7L252.1 208.1M255.5 202.7L261.9 197.3M255.5 202.7L261.9 208.4M267.4 159.8L260.9 154M267.4 159.8L260.9 165.6M267.4 159.8L270.8 154.1M267.4 159.8L270.8 165.7M267.4 159.8L270.4 154M267.4 159.8L270.4 165.5M294.1 202.7L291.1 197.5M294.1 202.7L291.1 208.7M294.1 202.7L290.6 197.1M294.1 202.7L290.6 208.1M294.1 202.7L300.5 197.3M294.1 202.7L300.5 208.4M305.9 159.8L299.5 154M305.9 159.8L299.5 165.6M305.9 159.8L309.5 154.1M305.9 159.8L309.5 165.7M305.9 159.8L308.8 154M305.9 159.8L308.8 165.5M332.6 202.7L329.9 197.5M332.6 202.7L329.9 208.7M332.6 202.7L329 197.1M332.6 202.7L329 208.1M332.6 202.7L339.1 197.3M332.6 202.7L339.1 208.4M344.5 159.8L338.1 154M344.5 159.8L338.1 165.6M344.5 159.8L348.3 154.1M344.5 159.8L348.3 165.7M344.5 159.8L347.2 154M344.5 159.8L347.2 165.5M371.2 202.7L368.6 197.5M371.2 202.7L368.6 208.7M371.2 202.7L367.4 197.1M371.2 202.7L367.4 208.1M371.2 202.7L377.7 197.3M371.2 202.7L377.7 208.4M383.1 159.8L376.7 154M383.1 159.8L376.7 165.6M383.1 159.8L387 154.1M383.1 159.8L387 165.7M383.1 159.8L385.6 154M383.1 159.8L385.6 165.5M409.8 202.7L407.4 197.5M409.8 202.7L407.4 208.7M409.8 202.7L405.8 197.1M409.8 202.7L405.8 208.1"/>
<path class="y" stroke-width="3.2" d="M155.5 197.5L152.6 191.9M155.5 208.7L152.6 214.1M156.1 197.1L152.6 191.9M156.1 208.1L152.6 214.1M173.9 154.1L177.3 148.2M173.9 165.7L177.3 171.4M184.7 197.3L191.2 191.9M184.7 208.4L191.2 214.1M174.3 154L177.3 148.2M174.3 165.5L177.3 171.4M194.2 197.5L191.2 191.9M194.2 208.7L191.2 214.1M183.8 154L177.3 148.2M183.8 165.6L177.3 171.4M194.5 197.1L191.2 191.9M194.5 208.1L191.2 214.1M212.6 154.1L215.9 148.2M212.6 165.7L215.9 171.4M223.3 197.3L229.7 191.9M223.3 208.4L229.7 214.1M212.8 154L215.9 148.2M212.8 165.5L215.9 171.4M233 197.5L229.7 191.9M233 208.7L229.7 214.1M222.3 154L215.9 148.2M222.3 165.6L215.9 171.4M232.9 197.1L229.7 191.9M232.9 208.1L229.7 214.1M251.4 154.1L254.5 148.2M251.4 165.7L254.5 171.4M261.9 197.3L268.3 191.9M261.9 208.4L268.3 214.1M251.2 154L254.5 148.2M251.2 165.5L254.5 171.4M271.7 197.5L268.3 191.9M271.7 208.7L268.3 214.1M260.9 154L254.5 148.2M260.9 165.6L254.5 171.4M271.3 197.1L268.3 191.9M271.3 208.1L268.3 214.1M290.1 154.1L293.1 148.2M290.1 165.7L293.1 171.4M300.5 197.3L306.9 191.9M300.5 208.4L306.9 214.1M289.6 154L293.1 148.2M289.6 165.5L293.1 171.4M310.5 197.5L306.9 191.9M310.5 208.7L306.9 214.1M299.5 154L293.1 148.2M299.5 165.6L293.1 171.4M309.8 197.1L306.9 191.9M309.8 208.1L306.9 214.1M328.9 154.1L331.7 148.2M328.9 165.7L331.7 171.4M339.1 197.3L345.5 191.9M339.1 208.4L345.5 214.1M328 154L331.7 148.2M328 165.5L331.7 171.4M349.2 197.5L345.5 191.9M349.2 208.7L345.5 214.1M338.1 154L331.7 148.2M338.1 165.6L331.7 171.4M348.2 197.1L345.5 191.9M348.2 208.1L345.5 214.1M367.7 154.1L370.3 148.2M367.7 165.7L370.3 171.4M377.7 197.3L384.1 191.9M377.7 208.4L384.1 214.1M366.4 154L370.3 148.2M366.4 165.5L370.3 171.4M388 197.5L384.1 191.9M388 208.7L384.1 214.1M376.7 154L370.3 148.2M376.7 165.6L370.3 171.4M386.6 197.1L384.1 191.9M386.6 208.1L384.1 214.1M406.4 154.1L408.8 148.2M406.4 165.7L408.8 171.4M404.9 154L408.8 148.2M404.9 165.5L408.8 171.4"/>
<circle class="mb" cx="151.6" cy="159.8" r="4.2"/>
<circle class="sb" cx="152.6" cy="191.9" r="3.0"/>
<circle class="sb" cx="152.6" cy="214.1" r="3.0"/>
<circle class="sb" cx="177.3" cy="148.2" r="3.0"/>
<circle class="sb" cx="177.3" cy="171.4" r="3.0"/>
<circle class="mb" cx="178.3" cy="202.7" r="4.2"/>
<circle class="mb" cx="190.2" cy="159.8" r="4.2"/>
<circle class="sb" cx="191.2" cy="191.9" r="3.0"/>
<circle class="sb" cx="191.2" cy="214.1" r="3.0"/>
<circle class="sb" cx="215.9" cy="148.2" r="3.0"/>
<circle class="sb" cx="215.9" cy="171.4" r="3.0"/>
<circle class="mb" cx="216.9" cy="202.7" r="4.2"/>
<circle class="mb" cx="228.8" cy="159.8" r="4.2"/>
<circle class="sb" cx="229.7" cy="191.9" r="3.0"/>
<circle class="sb" cx="229.7" cy="214.1" r="3.0"/>
<circle class="sb" cx="254.5" cy="148.2" r="3.0"/>
<circle class="sb" cx="254.5" cy="171.4" r="3.0"/>
<circle class="mb" cx="255.5" cy="202.7" r="4.2"/>
<circle class="mb" cx="267.4" cy="159.8" r="4.2"/>
<circle class="sb" cx="268.3" cy="191.9" r="3.0"/>
<circle class="sb" cx="268.3" cy="214.1" r="3.0"/>
<circle class="sb" cx="293.1" cy="148.2" r="3.0"/>
<circle class="sb" cx="293.1" cy="171.4" r="3.0"/>
<circle class="mb" cx="294.1" cy="202.7" r="4.2"/>
<circle class="mb" cx="305.9" cy="159.8" r="4.2"/>
<circle class="sb" cx="306.9" cy="191.9" r="3.0"/>
<circle class="sb" cx="306.9" cy="214.1" r="3.0"/>
<circle class="sb" cx="331.7" cy="148.2" r="3.0"/>
<circle class="sb" cx="331.7" cy="171.4" r="3.0"/>
<circle class="mb" cx="332.6" cy="202.7" r="4.2"/>
<circle class="mb" cx="344.5" cy="159.8" r="4.2"/>
<circle class="sb" cx="345.5" cy="191.9" r="3.0"/>
<circle class="sb" cx="345.5" cy="214.1" r="3.0"/>
<circle class="sb" cx="370.3" cy="148.2" r="3.0"/>
<circle class="sb" cx="370.3" cy="171.4" r="3.0"/>
<circle class="mb" cx="371.2" cy="202.7" r="4.2"/>
<circle class="mb" cx="383.1" cy="159.8" r="4.2"/>
<circle class="sb" cx="384.1" cy="191.9" r="3.0"/>
<circle class="sb" cx="384.1" cy="214.1" r="3.0"/>
<circle class="sb" cx="408.8" cy="148.2" r="3.0"/>
<circle class="sb" cx="408.8" cy="171.4" r="3.0"/>
<circle class="mb" cx="409.8" cy="202.7" r="4.2"/>
<path class="p" stroke-width="3.2" d="M158.4 203.2L154.9 198M158.4 203.2L154.9 209.3M158.4 203.2L155.5 197.5M158.4 203.2L155.5 208.7M158.4 203.2L164.9 197.8M158.4 203.2L164.9 209M170.4 160L163.9 154.1M170.4 160L163.9 165.8M170.4 160L173.5 154.2M170.4 160L173.5 165.9M170.4 160L173.9 154.1M170.4 160L173.9 165.7M197.4 203.2L194 198M197.4 203.2L194 209.3M197.4 203.2L194.2 197.5M197.4 203.2L194.2 208.7M197.4 203.2L203.8 197.8M197.4 203.2L203.8 209M209.3 160L202.9 154.1M209.3 160L202.9 165.8M209.3 160L212.5 154.2M209.3 160L212.5 165.9M209.3 160L212.6 154.1M209.3 160L212.6 165.7M236.3 203.2L233.1 198M236.3 203.2L233.1 209.3M236.3 203.2L233 197.5M236.3 203.2L233 208.7M236.3 203.2L242.8 197.8M236.3 203.2L242.8 209M248.3 160L241.8 154.1M248.3 160L241.8 165.8M248.3 160L251.6 154.2M248.3 160L251.6 165.9M248.3 160L251.4 154.1M248.3 160L251.4 165.7M275.2 203.2L272.1 198M275.2 203.2L272.1 209.3M275.2 203.2L271.7 197.5M275.2 203.2L271.7 208.7M275.2 203.2L281.7 197.8M275.2 203.2L281.7 209M287.2 160L280.7 154.1M287.2 160L280.7 165.8M287.2 160L290.7 154.2M287.2 160L290.7 165.9M287.2 160L290.1 154.1M287.2 160L290.1 165.7M314.1 203.2L311.2 198M314.1 203.2L311.2 209.3M314.1 203.2L310.5 197.5M314.1 203.2L310.5 208.7M314.1 203.2L320.6 197.8M314.1 203.2L320.6 209M326.1 160L319.6 154.1M326.1 160L319.6 165.8M326.1 160L329.8 154.2M326.1 160L329.8 165.9M326.1 160L328.9 154.1M326.1 160L328.9 165.7M353 203.2L350.3 198M353 203.2L350.3 209.3M353 203.2L349.2 197.5M353 203.2L349.2 208.7M353 203.2L359.5 197.8M353 203.2L359.5 209M365 160L358.5 154.1M365 160L358.5 165.8M365 160L368.9 154.2M365 160L368.9 165.9M365 160L367.7 154.1M365 160L367.7 165.7M391.9 203.2L389.4 198M391.9 203.2L389.4 209.3M391.9 203.2L388 197.5M391.9 203.2L388 208.7M391.9 203.2L398.4 197.8M391.9 203.2L398.4 209M403.9 160L397.5 154.1M403.9 160L397.5 165.8M403.9 160L408 154.2M403.9 160L408 165.9M403.9 160L406.4 154.1M403.9 160L406.4 165.7"/>
<path class="y" stroke-width="3.2" d="M153.9 154.2L157.5 148.3M153.9 165.9L157.5 171.7M164.9 197.8L171.4 192.3M164.9 209L171.4 214.7M154.5 154.1L157.5 148.3M154.5 165.7L157.5 171.7M174.4 198L171.4 192.3M174.4 209.3L171.4 214.7M163.9 154.1L157.5 148.3M163.9 165.8L157.5 171.7M174.9 197.5L171.4 192.3M174.9 208.7L171.4 214.7M193 154.2L196.4 148.3M193 165.9L196.4 171.7M203.8 197.8L210.3 192.3M203.8 209L210.3 214.7M193.3 154.1L196.4 148.3M193.3 165.7L196.4 171.7M213.5 198L210.3 192.3M213.5 209.3L210.3 214.7M202.9 154.1L196.4 148.3M202.9 165.8L196.4 171.7M213.6 197.5L210.3 192.3M213.6 208.7L210.3 214.7M232.1 154.2L235.3 148.3M232.1 165.9L235.3 171.7M242.8 197.8L249.2 192.3M242.8 209L249.2 214.7M232 154.1L235.3 148.3M232 165.7L235.3 171.7M252.6 198L249.2 192.3M252.6 209.3L249.2 214.7M241.8 154.1L235.3 148.3M241.8 165.8L235.3 171.7M252.4 197.5L249.2 192.3M252.4 208.7L249.2 214.7M271.2 154.2L274.2 148.3M271.2 165.9L274.2 171.7M281.7 197.8L288.2 192.3M281.7 209L288.2 214.7M270.8 154.1L274.2 148.3M270.8 165.7L274.2 171.7M291.7 198L288.2 192.3M291.7 209.3L288.2 214.7M280.7 154.1L274.2 148.3M280.7 165.8L274.2 171.7M291.1 197.5L288.2 192.3M291.1 208.7L288.2 214.7M310.3 154.2L313.1 148.3M310.3 165.9L313.1 171.7M320.6 197.8L327.1 192.3M320.6 209L327.1 214.7M309.5 154.1L313.1 148.3M309.5 165.7L313.1 171.7M330.8 198L327.1 192.3M330.8 209.3L327.1 214.7M319.6 154.1L313.1 148.3M319.6 165.8L313.1 171.7M329.9 197.5L327.1 192.3M329.9 208.7L327.1 214.7M349.3 154.2L352.1 148.3M349.3 165.9L352.1 171.7M359.5 197.8L366 192.3M359.5 209L366 214.7M348.3 154.1L352.1 148.3M348.3 165.7L352.1 171.7M369.9 198L366 192.3M369.9 209.3L366 214.7M358.5 154.1L352.1 148.3M358.5 165.8L352.1 171.7M368.6 197.5L366 192.3M368.6 208.7L366 214.7M388.4 154.2L391 148.3M388.4 165.9L391 171.7M398.4 197.8L404.9 192.3M398.4 209L404.9 214.7M387 154.1L391 148.3M387 165.7L391 171.7M409 198L404.9 192.3M409 209.3L404.9 214.7M397.5 154.1L391 148.3M397.5 165.8L391 171.7M407.4 197.5L404.9 192.3M407.4 208.7L404.9 214.7"/>
<circle class="sb" cx="157.5" cy="148.3" r="3.1"/>
<circle class="sb" cx="157.5" cy="171.7" r="3.1"/>
<circle class="mb" cx="158.4" cy="203.2" r="4.3"/>
<circle class="mb" cx="170.4" cy="160" r="4.3"/>
<circle class="sb" cx="171.4" cy="192.3" r="3.1"/>
<circle class="sb" cx="171.4" cy="214.7" r="3.1"/>
<circle class="sb" cx="196.4" cy="148.3" r="3.1"/>
<circle class="sb" cx="196.4" cy="171.7" r="3.1"/>
<circle class="mb" cx="197.4" cy="203.2" r="4.3"/>
<circle class="mb" cx="209.3" cy="160" r="4.3"/>
<circle class="sb" cx="210.3" cy="192.3" r="3.1"/>
<circle class="sb" cx="210.3" cy="214.7" r="3.1"/>
<circle class="sb" cx="235.3" cy="148.3" r="3.1"/>
<circle class="sb" cx="235.3" cy="171.7" r="3.1"/>
<circle class="mb" cx="236.3" cy="203.2" r="4.3"/>
<circle class="mb" cx="248.3" cy="160" r="4.3"/>
<circle class="sb" cx="249.2" cy="192.3" r="3.1"/>
<circle class="sb" cx="249.2" cy="214.7" r="3.1"/>
<circle class="sb" cx="274.2" cy="148.3" r="3.1"/>
<circle class="sb" cx="274.2" cy="171.7" r="3.1"/>
<circle class="mb" cx="275.2" cy="203.2" r="4.3"/>
<circle class="mb" cx="287.2" cy="160" r="4.3"/>
<circle class="sb" cx="288.2" cy="192.3" r="3.1"/>
<circle class="sb" cx="288.2" cy="214.7" r="3.1"/>
<circle class="sb" cx="313.1" cy="148.3" r="3.1"/>
<circle class="sb" cx="313.1" cy="171.7" r="3.1"/>
<circle class="mb" cx="314.1" cy="203.2" r="4.3"/>
<circle class="mb" cx="326.1" cy="160" r="4.3"/>
<circle class="sb" cx="327.1" cy="192.3" r="3.1"/>
<circle class="sb" cx="327.1" cy="214.7" r="3.1"/>
<circle class="sb" cx="352.1" cy="148.3" r="3.1"/>
<circle class="sb" cx="352.1" cy="171.7" r="3.1"/>
<circle class="mb" cx="353" cy="203.2" r="4.3"/>
<circle class="mb" cx="365" cy="160" r="4.3"/>
<circle class="sb" cx="366" cy="192.3" r="3.1"/>
<circle class="sb" cx="366" cy="214.7" r="3.1"/>
<circle class="sb" cx="391" cy="148.3" r="3.1"/>
<circle class="sb" cx="391" cy="171.7" r="3.1"/>
<circle class="mb" cx="391.9" cy="203.2" r="4.3"/>
<circle class="mb" cx="403.9" cy="160" r="4.3"/>
<circle class="sb" cx="404.9" cy="192.3" r="3.1"/>
<circle class="sb" cx="404.9" cy="214.7" r="3.1"/>
<path class="p" stroke-width="3.2" d="M150.3 160.1L153.3 154.3M150.3 160.1L153.3 166.1M150.3 160.1L153.9 154.2M150.3 160.1L153.9 165.9M177.5 203.7L174 198.5M177.5 203.7L174 209.8M177.5 203.7L174.4 198M177.5 203.7L174.4 209.3M177.5 203.7L184 198.2M177.5 203.7L184 209.5M189.6 160.1L183 154.2M189.6 160.1L183 166M189.6 160.1L192.7 154.3M189.6 160.1L192.7 166.1M189.6 160.1L193 154.2M189.6 160.1L193 165.9M216.7 203.7L213.4 198.5M216.7 203.7L213.4 209.8M216.7 203.7L213.5 198M216.7 203.7L213.5 209.3M216.7 203.7L223.3 198.2M216.7 203.7L223.3 209.5M228.8 160.1L222.3 154.2M228.8 160.1L222.3 166M228.8 160.1L232.1 154.3M228.8 160.1L232.1 166.1M228.8 160.1L232.1 154.2M228.8 160.1L232.1 165.9M256 203.7L252.8 198.5M256 203.7L252.8 209.8M256 203.7L252.6 198M256 203.7L252.6 209.3M256 203.7L262.5 198.2M256 203.7L262.5 209.5M268.1 160.1L261.6 154.2M268.1 160.1L261.6 166M268.1 160.1L271.6 154.3M268.1 160.1L271.6 166.1M268.1 160.1L271.2 154.2M268.1 160.1L271.2 165.9M295.3 203.7L292.3 198.5M295.3 203.7L292.3 209.8M295.3 203.7L291.7 198M295.3 203.7L291.7 209.3M295.3 203.7L301.8 198.2M295.3 203.7L301.8 209.5M307.4 160.1L300.8 154.2M307.4 160.1L300.8 166M307.4 160.1L311 154.3M307.4 160.1L311 166.1M307.4 160.1L310.3 154.2M307.4 160.1L310.3 165.9M334.5 203.7L331.7 198.5M334.5 203.7L331.7 209.8M334.5 203.7L330.8 198M334.5 203.7L330.8 209.3M334.5 203.7L341.1 198.2M334.5 203.7L341.1 209.5M346.6 160.1L340.1 154.2M346.6 160.1L340.1 166M346.6 160.1L350.4 154.3M346.6 160.1L350.4 166.1M346.6 160.1L349.3 154.2M346.6 160.1L349.3 165.9M373.8 203.7L371.1 198.5M373.8 203.7L371.1 209.8M373.8 203.7L369.9 198M373.8 203.7L369.9 209.3M373.8 203.7L380.3 198.2M373.8 203.7L380.3 209.5M385.9 160.1L379.3 154.2M385.9 160.1L379.3 166M385.9 160.1L389.9 154.3M385.9 160.1L389.9 166.1M385.9 160.1L388.4 154.2M385.9 160.1L388.4 165.9M413 203.7L410.6 198.5M413 203.7L410.6 209.8M413 203.7L409 198M413 203.7L409 209.3"/>
<path class="y" stroke-width="3.2" d="M154.3 198.5L151.3 192.7M154.3 209.8L151.3 215.3M154.9 198L151.3 192.7M154.9 209.3L151.3 215.3M173 154.3L176.5 148.3M173 166.1L176.5 171.9M184 198.2L190.6 192.7M184 209.5L190.6 215.3M173.5 154.2L176.5 148.3M173.5 165.9L176.5 171.9M193.7 198.5L190.6 192.7M193.7 209.8L190.6 215.3M183 154.2L176.5 148.3M183 166L176.5 171.9M194 198L190.6 192.7M194 209.3L190.6 215.3M212.4 154.3L215.8 148.3M212.4 166.1L215.8 171.9M223.3 198.2L229.8 192.7M223.3 209.5L229.8 215.3M212.5 154.2L215.8 148.3M212.5 165.9L215.8 171.9M233.1 198.5L229.8 192.7M233.1 209.8L229.8 215.3M222.3 154.2L215.8 148.3M222.3 166L215.8 171.9M233.1 198L229.8 192.7M233.1 209.3L229.8 215.3M251.9 154.3L255 148.3M251.9 166.1L255 171.9M262.5 198.2L269.1 192.7M262.5 209.5L269.1 215.3M251.6 154.2L255 148.3M251.6 165.9L255 171.9M272.6 198.5L269.1 192.7M272.6 209.8L269.1 215.3M261.6 154.2L255 148.3M261.6 166L255 171.9M272.1 198L269.1 192.7M272.1 209.3L269.1 215.3M291.3 154.3L294.3 148.3M291.3 166.1L294.3 171.9M301.8 198.2L308.3 192.7M301.8 209.5L308.3 215.3M290.7 154.2L294.3 148.3M290.7 165.9L294.3 171.9M312 198.5L308.3 192.7M312 209.8L308.3 215.3M300.8 154.2L294.3 148.3M300.8 166L294.3 171.9M311.2 198L308.3 192.7M311.2 209.3L308.3 215.3M330.7 154.3L333.5 148.3M330.7 166.1L333.5 171.9M341.1 198.2L347.6 192.7M341.1 209.5L347.6 215.3M329.8 154.2L333.5 148.3M329.8 165.9L333.5 171.9M351.4 198.5L347.6 192.7M351.4 209.8L347.6 215.3M340.1 154.2L333.5 148.3M340.1 166L333.5 171.9M350.3 198L347.6 192.7M350.3 209.3L347.6 215.3M370.2 154.3L372.8 148.3M370.2 166.1L372.8 171.9M380.3 198.2L386.9 192.7M380.3 209.5L386.9 215.3M368.9 154.2L372.8 148.3M368.9 165.9L372.8 171.9M390.9 198.5L386.9 192.7M390.9 209.8L386.9 215.3M379.3 154.2L372.8 148.3M379.3 166L372.8 171.9M389.4 198L386.9 192.7M389.4 209.3L386.9 215.3M409.6 154.3L412 148.3M409.6 166.1L412 171.9M408 154.2L412 148.3M408 165.9L412 171.9"/>
<circle class="m" cx="150.3" cy="160.1" r="4.3"/>
<circle class="s" cx="151.3" cy="192.7" r="3.1"/>
<circle class="s" cx="151.3" cy="215.3" r="3.1"/>
<circle class="s" cx="176.5" cy="148.3" r="3.1"/>
<circle class="s" cx="176.5" cy="171.9" r="3.1"/>
<circle class="m" cx="177.5" cy="203.7" r="4.3"/>
<circle class="m" cx="189.6" cy="160.1" r="4.3"/>
<circle class="s" cx="190.6" cy="192.7" r="3.1"/>
<circle class="s" cx="190.6" cy="215.3" r="3.1"/>
<circle class="s" cx="215.8" cy="148.3" r="3.1"/>
<circle class="s" cx="215.8" cy="171.9" r="3.1"/>
<circle class="m" cx="216.7" cy="203.7" r="4.3"/>
<circle class="m" cx="228.8" cy="160.1" r="4.3"/>
<circle class="s" cx="229.8" cy="192.7" r="3.1"/>
<circle class="s" cx="229.8" cy="215.3" r="3.1"/>
<circle class="s" cx="255" cy="148.3" r="3.1"/>
<circle class="s" cx="255" cy="171.9" r="3.1"/>
<circle class="m" cx="256" cy="203.7" r="4.3"/>
<circle class="m" cx="268.1" cy="160.1" r="4.3"/>
<circle class="s" cx="269.1" cy="192.7" r="3.1"/>
<circle class="s" cx="269.1" cy="215.3" r="3.1"/>
<circle class="s" cx="294.3" cy="148.3" r="3.1"/>
<circle class="s" cx="294.3" cy="171.9" r="3.1"/>
<circle class="m" cx="295.3" cy="203.7" r="4.3"/>
<circle class="m" cx="307.4" cy="160.1" r="4.3"/>
<circle class="s" cx="308.3" cy="192.7" r="3.1"/>
<circle class="s" cx="308.3" cy="215.3" r="3.1"/>
<circle class="s" cx="333.5" cy="148.3" r="3.1"/>
<circle class="s" cx="333.5" cy="171.9" r="3.1"/>
<circle class="m" cx="334.5" cy="203.7" r="4.3"/>
<circle class="m" cx="346.6" cy="160.1" r="4.3"/>
<circle class="s" cx="347.6" cy="192.7" r="3.1"/>
<circle class="s" cx="347.6" cy="215.3" r="3.1"/>
<circle class="s" cx="372.8" cy="148.3" r="3.1"/>
<circle class="s" cx="372.8" cy="171.9" r="3.1"/>
<circle class="m" cx="373.8" cy="203.7" r="4.3"/>
<circle class="m" cx="385.9" cy="160.1" r="4.3"/>
<circle class="s" cx="386.9" cy="192.7" r="3.1"/>
<circle class="s" cx="386.9" cy="215.3" r="3.1"/>
<circle class="s" cx="412" cy="148.3" r="3.1"/>
<circle class="s" cx="412" cy="171.9" r="3.1"/>
<circle class="m" cx="413" cy="203.7" r="4.3"/>
<path class="p" stroke-width="3.3" d="M157.3 204.3L153.6 199M157.3 204.3L153.6 210.4M157.3 204.3L154.3 198.5M157.3 204.3L154.3 209.8M157.3 204.3L163.9 198.7M157.3 204.3L163.9 210.1M169.5 160.3L162.9 154.3M169.5 160.3L162.9 166.2M169.5 160.3L173 154.3M169.5 160.3L173 166.1M196.9 204.3L193.4 199M196.9 204.3L193.4 210.4M196.9 204.3L193.7 198.5M196.9 204.3L193.7 209.8M196.9 204.3L203.5 198.7M196.9 204.3L203.5 210.1M209.1 160.3L202.5 154.3M209.1 160.3L202.5 166.2M209.1 160.3L212.4 154.3M209.1 160.3L212.4 166.1M236.5 204.3L233.2 199M236.5 204.3L233.2 210.4M236.5 204.3L233.1 198.5M236.5 204.3L233.1 209.8M236.5 204.3L243.1 198.7M236.5 204.3L243.1 210.1M248.7 160.3L242.1 154.3M248.7 160.3L242.1 166.2M248.7 160.3L251.9 154.3M248.7 160.3L251.9 166.1M276.1 204.3L273 199M276.1 204.3L273 210.4M276.1 204.3L272.6 198.5M276.1 204.3L272.6 209.8M276.1 204.3L282.7 198.7M276.1 204.3L282.7 210.1M288.3 160.3L281.7 154.3M288.3 160.3L281.7 166.2M288.3 160.3L291.3 154.3M288.3 160.3L291.3 166.1M315.7 204.3L312.8 199M315.7 204.3L312.8 210.4M315.7 204.3L312 198.5M315.7 204.3L312 209.8M315.7 204.3L322.3 198.7M315.7 204.3L322.3 210.1M327.9 160.3L321.3 154.3M327.9 160.3L321.3 166.2M327.9 160.3L330.7 154.3M327.9 160.3L330.7 166.1M355.3 204.3L352.5 199M355.3 204.3L352.5 210.4M355.3 204.3L351.4 198.5M355.3 204.3L351.4 209.8M355.3 204.3L361.9 198.7M355.3 204.3L361.9 210.1M367.5 160.3L360.9 154.3M367.5 160.3L360.9 166.2M367.5 160.3L370.2 154.3M367.5 160.3L370.2 166.1M394.9 204.3L392.3 199M394.9 204.3L392.3 210.4M394.9 204.3L390.9 198.5M394.9 204.3L390.9 209.8M394.9 204.3L401.5 198.7M394.9 204.3L401.5 210.1M407.1 160.3L400.5 154.3M407.1 160.3L400.5 166.2M407.1 160.3L409.6 154.3M407.1 160.3L409.6 166.1"/>
<path class="y" stroke-width="3.3" d="M152.7 154.4L156.3 148.4M152.7 166.3L156.3 172.2M163.9 198.7L170.5 193.2M163.9 210.1L170.5 216M153.3 154.3L156.3 148.4M153.3 166.1L156.3 172.2M162.9 154.3L156.3 148.4M162.9 166.2L156.3 172.2M174 198.5L170.5 193.2M174 209.8L170.5 216M192.4 154.4L195.9 148.4M192.4 166.3L195.9 172.2M203.5 198.7L210.1 193.2M203.5 210.1L210.1 216M192.7 154.3L195.9 148.4M192.7 166.1L195.9 172.2M202.5 154.3L195.9 148.4M202.5 166.2L195.9 172.2M213.4 198.5L210.1 193.2M213.4 209.8L210.1 216M232.2 154.4L235.5 148.4M232.2 166.3L235.5 172.2M243.1 198.7L249.7 193.2M243.1 210.1L249.7 216M232.1 154.3L235.5 148.4M232.1 166.1L235.5 172.2M242.1 154.3L235.5 148.4M242.1 166.2L235.5 172.2M252.8 198.5L249.7 193.2M252.8 209.8L249.7 216M272 154.4L275.1 148.4M272 166.3L275.1 172.2M282.7 198.7L289.3 193.2M282.7 210.1L289.3 216M271.6 154.3L275.1 148.4M271.6 166.1L275.1 172.2M281.7 154.3L275.1 148.4M281.7 166.2L275.1 172.2M292.3 198.5L289.3 193.2M292.3 209.8L289.3 216M311.8 154.4L314.7 148.4M311.8 166.3L314.7 172.2M322.3 198.7L328.9 193.2M322.3 210.1L328.9 216M311 154.3L314.7 148.4M311 166.1L314.7 172.2M321.3 154.3L314.7 148.4M321.3 166.2L314.7 172.2M331.7 198.5L328.9 193.2M331.7 209.8L328.9 216M351.5 154.4L354.3 148.4M351.5 166.3L354.3 172.2M361.9 198.7L368.5 193.2M361.9 210.1L368.5 216M350.4 154.3L354.3 148.4M350.4 166.1L354.3 172.2M360.9 154.3L354.3 148.4M360.9 166.2L354.3 172.2M371.1 198.5L368.5 193.2M371.1 209.8L368.5 216M391.3 154.4L393.9 148.4M391.3 166.3L393.9 172.2M401.5 198.7L408.1 193.2M401.5 210.1L408.1 216M389.9 154.3L393.9 148.4M389.9 166.1L393.9 172.2M400.5 154.3L393.9 148.4M400.5 166.2L393.9 172.2M410.6 198.5L408.1 193.2M410.6 209.8L408.1 216"/>
<circle class="s" cx="156.3" cy="148.4" r="3.1"/>
<circle class="s" cx="156.3" cy="172.2" r="3.1"/>
<circle class="m" cx="157.3" cy="204.3" r="4.4"/>
<circle class="m" cx="169.5" cy="160.3" r="4.4"/>
<circle class="s" cx="170.5" cy="193.2" r="3.1"/>
<circle class="s" cx="170.5" cy="216" r="3.1"/>
<circle class="s" cx="195.9" cy="148.4" r="3.1"/>
<circle class="s" cx="195.9" cy="172.2" r="3.1"/>
<circle class="m" cx="196.9" cy="204.3" r="4.4"/>
<circle class="m" cx="209.1" cy="160.3" r="4.4"/>
<circle class="s" cx="210.1" cy="193.2" r="3.1"/>
<circle class="s" cx="210.1" cy="216" r="3.1"/>
<circle class="s" cx="235.5" cy="148.4" r="3.1"/>
<circle class="s" cx="235.5" cy="172.2" r="3.1"/>
<circle class="m" cx="236.5" cy="204.3" r="4.4"/>
<circle class="m" cx="248.7" cy="160.3" r="4.4"/>
<circle class="s" cx="249.7" cy="193.2" r="3.1"/>
<circle class="s" cx="249.7" cy="216" r="3.1"/>
<circle class="s" cx="275.1" cy="148.4" r="3.1"/>
<circle class="s" cx="275.1" cy="172.2" r="3.1"/>
<circle class="m" cx="276.1" cy="204.3" r="4.4"/>
<circle class="m" cx="288.3" cy="160.3" r="4.4"/>
<circle class="s" cx="289.3" cy="193.2" r="3.1"/>
<circle class="s" cx="289.3" cy="216" r="3.1"/>
<circle class="s" cx="314.7" cy="148.4" r="3.1"/>
<circle class="s" cx="314.7" cy="172.2" r="3.1"/>
<circle class="m" cx="315.7" cy="204.3" r="4.4"/>
<circle class="m" cx="327.9" cy="160.3" r="4.4"/>
<circle class="s" cx="328.9" cy="193.2" r="3.1"/>
<circle class="s" cx="328.9" cy="216" r="3.1"/>
<circle class="s" cx="354.3" cy="148.4" r="3.1"/>
<circle class="s" cx="354.3" cy="172.2" r="3.1"/>
<circle class="m" cx="355.3" cy="204.3" r="4.4"/>
<circle class="m" cx="367.5" cy="160.3" r="4.4"/>
<circle class="s" cx="368.5" cy="193.2" r="3.1"/>
<circle class="s" cx="368.5" cy="216" r="3.1"/>
<circle class="s" cx="393.9" cy="148.4" r="3.1"/>
<circle class="s" cx="393.9" cy="172.2" r="3.1"/>
<circle class="m" cx="394.9" cy="204.3" r="4.4"/>
<circle class="m" cx="407.1" cy="160.3" r="4.4"/>
<circle class="s" cx="408.1" cy="193.2" r="3.1"/>
<circle class="s" cx="408.1" cy="216" r="3.1"/>
<path class="p" stroke-width="3.3" d="M149 160.4L152.7 154.4M149 160.4L152.7 166.3M189 160.4L192.4 154.4M189 160.4L192.4 166.3M228.9 160.4L232.2 154.4M228.9 160.4L232.2 166.3M268.9 160.4L272 154.4M268.9 160.4L272 166.3M308.8 160.4L311.8 154.4M308.8 160.4L311.8 166.3M348.8 160.4L351.5 154.4M348.8 160.4L351.5 166.3M388.7 160.4L391.3 154.4M388.7 160.4L391.3 166.3"/>
<path class="y" stroke-width="3.3" d="M153.6 199L150 193.6M153.6 210.4L150 216.6M193.4 199L190 193.6M193.4 210.4L190 216.6M233.2 199L229.9 193.6M233.2 210.4L229.9 216.6M273 199L269.9 193.6M273 210.4L269.9 216.6M312.8 199L309.8 193.6M312.8 210.4L309.8 216.6M352.5 199L349.8 193.6M352.5 210.4L349.8 216.6M392.3 199L389.7 193.6M392.3 210.4L389.7 216.6"/>
<circle class="m" cx="149" cy="160.4" r="4.4"/>
<circle class="s" cx="150" cy="193.6" r="3.1"/>
<circle class="s" cx="150" cy="216.6" r="3.1"/>
<circle class="m" cx="189" cy="160.4" r="4.4"/>
<circle class="s" cx="190" cy="193.6" r="3.1"/>
<circle class="s" cx="190" cy="216.6" r="3.1"/>
<circle class="m" cx="228.9" cy="160.4" r="4.4"/>
<circle class="s" cx="229.9" cy="193.6" r="3.1"/>
<circle class="s" cx="229.9" cy="216.6" r="3.1"/>
<circle class="m" cx="268.9" cy="160.4" r="4.4"/>
<circle class="s" cx="269.9" cy="193.6" r="3.1"/>
<circle class="s" cx="269.9" cy="216.6" r="3.1"/>
<circle class="m" cx="308.8" cy="160.4" r="4.4"/>
<circle class="s" cx="309.8" cy="193.6" r="3.1"/>
<circle class="s" cx="309.8" cy="216.6" r="3.1"/>
<circle class="m" cx="348.8" cy="160.4" r="4.4"/>
<circle class="s" cx="349.8" cy="193.6" r="3.1"/>
<circle class="s" cx="349.8" cy="216.6" r="3.1"/>
<circle class="m" cx="388.7" cy="160.4" r="4.4"/>
<circle class="s" cx="389.7" cy="193.6" r="3.1"/>
<circle class="s" cx="389.7" cy="216.6" r="3.1"/>
</g>
<g filter="url(#b15)">
<polygon fill="#ff0a0a" points="203.3,57.0 213.8,57.0 213.8,116.5 221.3,116.5 208.6,130.5 195.8,116.5 203.3,116.5"/>
<polygon fill="#ff0a0a" points="333.4,57.0 343.9,57.0 343.9,116.5 351.4,116.5 338.7,130.5 325.9,116.5 333.4,116.5"/>
<polygon fill="#ff0a0a" points="84.3,137.0 95.3,137.0 95.3,195.0 102.3,195.0 89.8,209.5 77.3,195.0 84.3,195.0"/>
<polygon fill="#12b058" points="235.9,126.0 244.9,126.0 244.9,82.0 250.4,82.0 240.4,61.5 230.4,82.0 235.9,82.0"/>
<polygon fill="#12b058" points="370.0,126.0 379.0,126.0 379.0,82.0 384.5,82.0 374.5,61.5 364.5,82.0 370.0,82.0"/>
<polygon fill="#12b058" points="115.2,207.0 124.8,207.0 124.8,161.5 130.0,161.5 120.0,140.5 110.0,161.5 115.2,161.5"/>
</g>
<path d="M369.3 93.5l12 12m0 -12l-12 12" stroke="#111" stroke-width="1.6" fill="none"/>
<path d="M114.8 175.8l12 12m0 -12l-12 12" stroke="#111" stroke-width="1.6" fill="none"/>
<text x="176" y="101.3" font-size="22.5" text-anchor="middle" fill="#e8202a" font-family="Liberation Serif,serif">ω</text>
<text x="262.5" y="101" font-size="22" fill="#12a860">2<tspan font-family="Liberation Serif,serif" font-size="21" dx="1">ω</tspan></text>
<text x="-0.5" y="239" font-size="23">1LG</text>
<text x="340" y="189" font-size="23">2LM</text>
<!--B-->
<text x="437.7" y="15.8" font-size="20.5" font-weight="bold">B</text>
<g clip-path="url(#clipB)">
<rect x="474" y="10" width="350" height="262" fill="url(#bgB)"/>
<g filter="url(#b25)">
<polygon fill="#aa66b8" opacity="0.6" points="470.0,160.0 530.0,165.0 575.0,190.0 600.0,215.0 660.0,280.0 470.0,280.0"/>
<polygon fill="#6b56c9" points="544.0,41.5 706.5,52.5 768.0,143.0 786.0,163.0 795.0,195.5 823.0,275.0 657.0,275.0 650.7,265.0 625.0,234.0 594.0,203.0 589.0,186.0 573.0,185.5 555.0,175.0 521.6,146.5 502.5,116.5"/>
</g>
<g filter="url(#b3)">
<polygon fill="#7a4bcf" opacity="0.55" points="508.0,112.0 543.7,108.0 565.4,76.0 650.0,101.5 786.0,152.0 795.0,196.0 800.0,206.0 660.0,173.6 599.0,160.0 560.0,161.0 544.0,163.0 522.0,146.0"/>
<polygon fill="#6a50cc" opacity="0.6" points="600.0,162.0 660.0,176.0 800.0,208.0 823.0,275.0 657.0,275.0 625.0,234.0 594.0,203.0 589.0,186.0"/>
</g>
<g filter="url(#b2)" fill="none" stroke-linecap="round">
<path d="M536 150 L560 154 L600 155 L650 154.5 L700 156 L740 158.5 L782 161" stroke="#4a78dc" stroke-width="12" opacity="0.75"/>
<path d="M574 169 L600 169 L640 167" stroke="#4a78dc" stroke-width="10" opacity="0.75"/>
<path d="M536 149 L560 153 L600 153.5 L650 152.5 L700 154 L740 157.5 L780 160" stroke="#3f9ae0" stroke-width="4.5" opacity="0.9"/>
<path d="M545 150.5 L565 153" stroke="#38c0d8" stroke-width="3"/>
<path d="M640 152 L680 151.5" stroke="#30a8e0" stroke-width="3"/>
<path d="M700 155 L760 159" stroke="#30a0e0" stroke-width="2.5"/>
<path d="M576 168 L596 166 M608 172 L625 166" stroke="#3f9ae0" stroke-width="4" opacity="0.8"/>
<path d="M650 160 L712 168" stroke="#4a80dc" stroke-width="3" opacity="0.7"/>
</g>
<g filter="url(#b3)">
<polygon fill="#4a80dc" opacity="0.95" points="596.0,203.0 612.0,209.0 634.0,222.0 654.0,238.0 676.0,257.0 704.0,278.0 646.0,278.0 638.0,262.0 625.0,237.0 606.0,218.0"/>
<polygon fill="#2ea2e4" opacity="0.95" points="604.0,211.0 622.0,222.0 640.0,238.0 660.0,254.0 684.0,278.0 652.0,278.0 642.0,258.0 628.0,238.0"/>
<polygon fill="#2cb0e0" opacity="0.6" points="630.0,236.0 650.0,246.0 668.0,262.0 676.0,278.0 656.0,278.0 642.0,256.0"/>
<polygon fill="#5c84d8" opacity="0.9" points="468.0,206.0 480.0,211.0 499.0,227.0 494.0,237.0 468.0,234.0"/>
<polygon fill="#8a70c8" opacity="0.5" points="468.0,160.0 500.0,170.0 520.0,200.0 520.0,250.0 500.0,280.0 468.0,280.0"/>
</g>
<g filter="url(#b2)">
<polygon fill="#c65cc0" points="643.0,259.0 652.0,263.0 655.0,270.0 646.0,267.0"/>
<polygon fill="#40d0d0" points="637.0,263.0 645.0,268.0 650.0,277.0 638.0,277.0"/>
<polygon fill="#a0f090" points="520.0,263.0 530.0,262.5 546.0,276.0 523.0,276.0"/>
<polygon fill="#50b0e0" opacity=".8" points="546.0,268.0 556.0,272.0 560.0,276.0 544.0,276.0"/>
</g>
</g>
<g fill="none" stroke="#fff" stroke-width="2.1" stroke-dasharray="7,4">
<path d="M474.5 91.5 L543.7 108 L565.4 74 L650 101.5 L823 163"/>
<path d="M474.5 119.2 L507.4 127.6 L502.3 137.4 L484.2 150.3 L544.9 163.2 Q570 158 599 160.1 L660 173.6 L823 213"/>
</g>
<rect x="499" y="244.5" width="71" height="8.3" fill="#000"/>
<text x="503.3" y="235.5" font-size="23">10 µm</text>
<text x="646.8" y="87.5" font-size="23">2LM</text>
<text x="610.3" y="146.8" font-size="23.3">2LM/1LG</text>
<text x="768.3" y="115.5" font-size="23">1LG</text>
<text x="727.3" y="44" font-size="23.2">SiO<tspan font-size="14.5" dy="5">2</tspan><tspan dy="-5">/Si</tspan></text>
<path d="M804.7 126.5V157" stroke="#000" stroke-width="2.2"/><polygon points="796,155.5 813.4,155.5 804.7,172" fill="#000"/>
<!--C-->
<g fill="none" stroke-linejoin="round" stroke-width="3">
<polyline stroke="#0000ff" points="57.6,467.5 58.5,460.6 59.5,462.2 60.5,463.5 61.5,459.7 62.5,462.3 63.4,462.4 64.4,456.8 65.4,465.8 66.4,464.5 67.4,460.7 68.3,462.2 69.3,464.4 70.3,462.0 71.3,462.1 72.3,458.3 73.2,464.8 74.2,463.5 75.2,464.1 76.2,458.4 77.2,468.6 78.1,463.9 79.1,462.2 80.1,470.0 81.1,463.4 82.1,458.9 83.0,462.3 84.0,456.3 85.0,467.0 86.0,462.3 87.0,461.3 87.9,467.1 88.9,458.4 89.9,465.5 90.9,457.2 91.9,461.7 92.8,460.0 93.8,468.5 94.8,469.5 95.8,462.8 96.8,466.6 97.7,463.4 98.7,465.8 99.7,461.5 100.7,458.4 101.7,458.1 102.6,465.1 103.6,471.0 104.6,464.6 105.6,462.0 106.6,469.7 107.5,464.3 108.5,463.8 109.5,464.2 110.5,462.9 111.5,462.3 112.4,458.7 113.4,464.8 114.4,462.8 115.4,466.9 116.4,461.8 117.3,456.9 118.3,462.6 119.3,468.3 120.3,461.6 121.3,459.9 122.2,458.8 123.2,459.2 124.2,461.6 125.2,458.7 126.2,467.2 127.1,461.4 128.1,462.5 129.1,466.7 130.1,466.8 131.1,461.2 132.0,462.9 133.0,464.1 134.0,461.0 135.0,455.8 136.0,463.5 136.9,464.2 137.9,462.5 138.9,458.2 139.9,460.4 140.9,459.1 141.8,460.0 142.8,465.0 143.8,465.7 144.8,462.9 145.8,462.5 146.7,462.8 147.7,460.6 148.7,460.3 149.7,458.4 150.7,460.3 151.6,467.6 152.6,463.1 153.6,459.2 154.6,458.8 155.6,457.5 156.5,461.4 157.5,461.4 158.5,455.5 159.5,461.5 160.5,456.7 161.4,449.8 162.4,402.7 163.4,374.3 164.4,400.6 165.4,444.1 166.3,459.1 167.3,462.9 168.3,461.3 169.3,455.5 170.3,460.0 171.2,459.4 172.2,457.9 173.2,457.1 174.2,464.7 175.2,457.8 176.1,456.3 177.1,461.0 178.1,459.3 179.1,458.6 180.1,461.3 181.0,460.3 182.0,459.8 183.0,461.7 184.0,459.4 185.0,456.4 185.9,457.1 186.9,456.5 187.9,458.7 188.9,454.4 189.9,451.9 190.8,457.9 191.8,453.1 192.8,451.0 193.8,458.3 194.8,454.7 195.7,458.4 196.7,454.9 197.7,452.9 198.7,452.3 199.7,454.5 200.6,455.1 201.6,453.2 202.6,454.8 203.6,450.6 204.6,455.5 205.5,449.6 206.5,454.8 207.5,457.7 208.5,459.1 209.5,461.4 210.4,451.2 211.4,459.0 212.4,460.7 213.4,460.3 214.4,454.6 215.3,459.2 216.3,464.2 217.3,453.8 218.3,460.4 219.3,462.8 220.2,457.3 221.2,461.8 222.2,456.8 223.2,458.0 224.2,458.3 225.1,461.8 226.1,461.2 227.1,464.9 228.1,459.2 229.1,462.1 230.0,465.8 231.0,464.7 232.0,458.6 233.0,464.9 234.0,461.1 234.9,463.5 235.9,462.9 236.9,465.4 237.9,461.5 238.9,454.8 239.8,455.9 240.8,462.3 241.8,458.7 242.8,462.8 243.8,459.6 244.7,455.9 245.7,461.4 246.7,455.1 247.7,451.0 248.7,464.0 249.6,451.3 250.6,459.5 251.6,460.6 252.6,458.3 253.6,452.6 254.5,461.4 255.5,453.7 256.5,454.2 257.5,457.5 258.5,461.4 259.4,460.0 260.4,461.9 261.4,458.1 262.4,459.2 263.4,456.5 264.3,459.4 265.3,462.7 266.3,460.2 267.3,463.1 268.3,460.1 269.2,460.4 270.2,462.8 271.2,462.5 272.2,465.4 273.2,464.4 274.1,469.8 275.1,463.9 276.1,464.3 277.1,462.0 278.1,465.8 279.0,468.2 280.0,463.9 281.0,466.4 282.0,469.1 283.0,466.6 283.9,465.5 284.9,470.4 285.9,467.8 286.9,468.9 287.9,471.5 288.8,471.6 289.8,467.0 290.8,466.6 291.8,469.4 292.8,468.2 293.7,462.7 294.7,473.0 295.7,469.2 296.7,471.6 297.7,465.6 298.6,473.7 299.6,467.8 300.6,469.4 301.6,465.3 302.6,469.3 303.5,469.1 304.5,469.3 305.5,471.3 306.5,470.1 307.5,473.0 308.4,468.4 309.4,466.7 310.4,469.9 311.4,472.0 312.4,473.9 313.3,472.6 314.3,464.3 315.3,471.2 316.3,474.7 317.3,470.2 318.2,468.4 319.2,471.0 320.2,468.5 321.2,472.1 322.2,470.1 323.1,474.6 324.1,471.7 325.1,467.8 326.1,472.1 327.1,473.2 328.0,468.4 329.0,468.8 330.0,462.8 331.0,473.1 332.0,468.3 332.9,463.4 333.9,464.5 334.9,469.4 335.9,472.6 336.9,469.8 337.8,471.6 338.8,466.6 339.8,465.8 340.8,472.9 341.8,471.6 342.7,470.0 343.7,474.2 344.7,467.0 345.7,468.7 346.7,473.3 347.6,475.9 348.6,470.0 349.6,475.4 350.6,468.0 351.6,471.0 352.5,469.4 353.5,464.9 354.5,470.8 355.5,472.9 356.5,469.4 357.4,469.7 358.4,474.3 359.4,465.9 360.4,465.1 361.4,467.8 362.3,466.0 363.3,474.1 364.3,470.8 365.3,467.0 366.3,467.8 367.2,478.9 368.2,467.8 369.2,467.3 370.2,470.7 371.2,471.8 372.1,470.4 373.1,466.8 374.1,466.0 375.1,471.6 376.1,469.5 377.0,464.4 378.0,473.4 379.0,472.1 380.0,468.9 381.0,468.8 381.9,470.4 382.9,467.4 383.9,465.3 384.9,470.6 385.9,465.0 386.8,470.8 387.8,465.0 388.8,469.2 389.8,469.1 390.8,475.2 391.7,466.1 392.7,465.0 393.7,467.4"/>
<polyline stroke="#ff0000" points="57.6,499.1 58.5,500.7 59.5,503.8 60.5,504.8 61.5,507.5 62.5,500.3 63.4,510.5 64.4,508.5 65.4,502.0 66.4,495.7 67.4,502.3 68.3,502.8 69.3,495.7 70.3,502.8 71.3,502.0 72.3,500.3 73.2,504.5 74.2,505.7 75.2,501.2 76.2,503.4 77.2,500.7 78.1,500.3 79.1,502.9 80.1,504.3 81.1,501.0 82.1,496.1 83.0,504.5 84.0,497.9 85.0,503.1 86.0,508.1 87.0,502.7 87.9,499.2 88.9,498.4 89.9,506.3 90.9,502.7 91.9,504.4 92.8,505.6 93.8,502.7 94.8,501.9 95.8,500.0 96.8,493.6 97.7,498.3 98.7,502.7 99.7,502.4 100.7,504.1 101.7,502.5 102.6,503.4 103.6,505.3 104.6,500.3 105.6,502.1 106.6,498.1 107.5,505.9 108.5,503.1 109.5,504.4 110.5,507.6 111.5,506.2 112.4,502.8 113.4,505.4 114.4,498.7 115.4,504.3 116.4,503.4 117.3,498.2 118.3,507.1 119.3,500.9 120.3,505.1 121.3,501.8 122.2,506.1 123.2,507.0 124.2,500.6 125.2,498.5 126.2,502.7 127.1,505.7 128.1,502.0 129.1,501.3 130.1,504.6 131.1,494.9 132.0,501.2 133.0,499.0 134.0,504.1 135.0,501.0 136.0,499.9 136.9,502.1 137.9,498.8 138.9,503.2 139.9,501.2 140.9,502.1 141.8,501.1 142.8,506.0 143.8,502.9 144.8,504.9 145.8,504.7 146.7,500.9 147.7,505.0 148.7,504.4 149.7,504.3 150.7,502.1 151.6,502.1 152.6,505.7 153.6,509.9 154.6,500.9 155.6,505.0 156.5,502.3 157.5,505.7 158.5,504.7 159.5,506.6 160.5,495.0 161.4,501.6 162.4,500.5 163.4,503.1 164.4,501.3 165.4,501.5 166.3,505.5 167.3,509.2 168.3,495.0 169.3,502.6 170.3,504.4 171.2,503.5 172.2,502.5 173.2,499.5 174.2,500.7 175.2,505.7 176.1,506.8 177.1,503.9 178.1,501.1 179.1,503.9 180.1,502.9 181.0,505.2 182.0,504.0 183.0,501.8 184.0,504.2 185.0,500.1 185.9,506.1 186.9,507.2 187.9,500.1 188.9,504.9 189.9,500.7 190.8,506.9 191.8,506.4 192.8,503.0 193.8,506.7 194.8,502.4 195.7,501.8 196.7,502.0 197.7,503.3 198.7,502.8 199.7,504.2 200.6,501.9 201.6,506.1 202.6,506.9 203.6,502.3 204.6,499.5 205.5,506.0 206.5,507.2 207.5,503.3 208.5,500.0 209.5,504.7 210.4,508.4 211.4,498.2 212.4,505.3 213.4,503.0 214.4,501.3 215.3,505.4 216.3,500.0 217.3,504.8 218.3,507.9 219.3,504.5 220.2,501.3 221.2,498.6 222.2,500.1 223.2,498.5 224.2,508.8 225.1,503.2 226.1,500.9 227.1,500.1 228.1,500.8 229.1,503.0 230.0,500.2 231.0,509.1 232.0,501.8 233.0,501.7 234.0,505.0 234.9,508.4 235.9,508.1 236.9,502.6 237.9,504.9 238.9,504.6 239.8,505.7 240.8,504.9 241.8,501.3 242.8,500.4 243.8,504.7 244.7,500.6 245.7,508.3 246.7,504.3 247.7,501.1 248.7,503.2 249.6,502.7 250.6,503.8 251.6,507.1 252.6,499.9 253.6,498.6 254.5,505.3 255.5,503.7 256.5,504.8 257.5,505.6 258.5,503.8 259.4,506.7 260.4,501.6 261.4,504.5 262.4,501.8 263.4,500.9 264.3,506.2 265.3,506.1 266.3,498.5 267.3,501.0 268.3,505.3 269.2,507.6 270.2,502.4 271.2,503.9 272.2,500.2 273.2,512.0 274.1,505.9 275.1,507.1 276.1,506.4 277.1,507.3 278.1,506.3 279.0,503.5 280.0,506.7 281.0,504.7 282.0,508.4 283.0,502.3 283.9,502.9 284.9,506.5 285.9,508.4 286.9,505.0 287.9,502.4 288.8,504.2 289.8,503.1 290.8,510.3 291.8,507.3 292.8,508.4 293.7,505.5 294.7,503.0 295.7,508.1 296.7,509.6 297.7,506.4 298.6,504.6 299.6,507.9 300.6,503.6 301.6,507.0 302.6,502.6 303.5,501.8 304.5,506.4 305.5,505.7 306.5,510.4 307.5,503.9 308.4,504.8 309.4,501.3 310.4,499.2 311.4,499.4 312.4,506.2 313.3,501.3 314.3,508.2 315.3,509.1 316.3,504.0 317.3,509.8 318.2,505.5 319.2,508.2 320.2,504.2 321.2,507.7 322.2,502.0 323.1,506.7 324.1,503.5 325.1,504.5 326.1,506.8 327.1,505.4 328.0,504.7 329.0,507.1 330.0,507.3 331.0,500.8 332.0,506.6 332.9,507.0 333.9,502.7 334.9,506.1 335.9,501.0 336.9,509.3 337.8,504.3 338.8,504.8 339.8,508.6 340.8,504.6 341.8,506.8 342.7,501.9 343.7,503.3 344.7,500.9 345.7,504.4 346.7,508.2 347.6,505.8 348.6,507.8 349.6,502.0 350.6,502.5 351.6,503.7 352.5,506.9 353.5,506.2 354.5,505.1 355.5,507.0 356.5,504.7 357.4,505.1 358.4,509.1 359.4,503.4 360.4,505.8 361.4,510.0 362.3,505.5 363.3,507.4 364.3,503.4 365.3,511.1 366.3,498.5 367.2,501.9 368.2,502.1 369.2,510.1 370.2,506.3 371.2,504.5 372.1,501.5 373.1,506.4 374.1,505.7 375.1,503.3 376.1,500.9 377.0,502.0 378.0,506.0 379.0,506.3 380.0,505.6 381.0,504.9 381.9,500.1 382.9,505.6 383.9,502.3 384.9,505.5 385.9,506.8 386.8,503.4 387.8,502.4 388.8,508.4 389.8,506.5 390.8,503.6 391.7,496.5 392.7,505.3 393.7,507.4"/>
<polyline stroke="#000" points="57.6,579.5 58.5,573.4 59.5,573.4 60.5,573.9 61.5,577.9 62.5,571.0 63.4,574.3 64.4,571.4 65.4,575.1 66.4,568.8 67.4,575.0 68.3,571.9 69.3,572.6 70.3,574.8 71.3,576.6 72.3,567.0 73.2,575.7 74.2,574.1 75.2,571.1 76.2,576.5 77.2,572.3 78.1,575.8 79.1,569.5 80.1,568.4 81.1,575.2 82.1,578.2 83.0,573.0 84.0,573.7 85.0,569.0 86.0,566.1 87.0,569.6 87.9,575.1 88.9,563.9 89.9,568.3 90.9,563.5 91.9,570.0 92.8,572.4 93.8,565.3 94.8,567.9 95.8,573.5 96.8,568.7 97.7,564.7 98.7,564.3 99.7,561.8 100.7,570.7 101.7,565.4 102.6,571.1 103.6,570.2 104.6,564.8 105.6,564.9 106.6,568.9 107.5,566.5 108.5,566.5 109.5,559.9 110.5,568.0 111.5,561.8 112.4,556.9 113.4,562.0 114.4,565.1 115.4,570.3 116.4,561.8 117.3,558.3 118.3,569.4 119.3,562.6 120.3,560.9 121.3,557.9 122.2,557.8 123.2,565.6 124.2,559.5 125.2,558.3 126.2,558.1 127.1,564.6 128.1,557.1 129.1,560.8 130.1,559.1 131.1,558.6 132.0,554.4 133.0,558.9 134.0,561.5 135.0,555.5 136.0,552.0 136.9,550.2 137.9,554.6 138.9,552.5 139.9,552.5 140.9,552.3 141.8,546.8 142.8,553.7 143.8,551.3 144.8,549.8 145.8,550.2 146.7,551.9 147.7,548.5 148.7,544.9 149.7,551.0 150.7,545.2 151.6,543.7 152.6,540.4 153.6,545.0 154.6,540.9 155.6,542.1 156.5,544.8 157.5,542.8 158.5,545.5 159.5,542.6 160.5,539.7 161.4,539.4 162.4,538.3 163.4,541.6 164.4,539.0 165.4,537.0 166.3,540.6 167.3,537.7 168.3,535.3 169.3,531.4 170.3,537.3 171.2,536.2 172.2,535.1 173.2,533.0 174.2,531.2 175.2,532.7 176.1,533.7 177.1,532.0 178.1,531.5 179.1,529.9 180.1,532.1 181.0,531.3 182.0,527.5 183.0,532.0 184.0,531.6 185.0,531.2 185.9,527.6 186.9,526.9 187.9,523.2 188.9,529.1 189.9,519.0 190.8,524.3 191.8,524.0 192.8,527.4 193.8,524.1 194.8,520.4 195.7,518.4 196.7,520.2 197.7,522.5 198.7,521.8 199.7,520.5 200.6,518.4 201.6,519.5 202.6,523.1 203.6,515.8 204.6,519.4 205.5,524.6 206.5,521.2 207.5,518.3 208.5,522.8 209.5,519.2 210.4,522.9 211.4,529.3 212.4,531.9 213.4,521.5 214.4,530.8 215.3,536.3 216.3,529.6 217.3,533.9 218.3,539.8 219.3,535.2 220.2,540.4 221.2,540.7 222.2,536.3 223.2,545.2 224.2,544.4 225.1,548.8 226.1,552.9 227.1,548.3 228.1,544.8 229.1,547.5 230.0,546.7 231.0,549.4 232.0,541.3 233.0,542.0 234.0,538.9 234.9,547.3 235.9,544.8 236.9,542.1 237.9,541.1 238.9,540.8 239.8,538.7 240.8,539.7 241.8,538.1 242.8,543.2 243.8,538.4 244.7,533.4 245.7,533.2 246.7,538.5 247.7,535.9 248.7,535.5 249.6,537.6 250.6,541.4 251.6,533.6 252.6,536.5 253.6,534.6 254.5,543.5 255.5,542.1 256.5,542.9 257.5,544.6 258.5,551.5 259.4,551.1 260.4,552.3 261.4,560.9 262.4,556.1 263.4,558.3 264.3,573.9 265.3,567.0 266.3,569.4 267.3,571.8 268.3,576.8 269.2,582.7 270.2,585.4 271.2,587.3 272.2,587.0 273.2,585.0 274.1,592.4 275.1,597.7 276.1,597.2 277.1,593.9 278.1,597.6 279.0,593.9 280.0,595.3 281.0,591.7 282.0,595.1 283.0,596.8 283.9,596.0 284.9,599.3 285.9,603.1 286.9,601.3 287.9,596.0 288.8,594.6 289.8,594.8 290.8,593.8 291.8,597.1 292.8,598.4 293.7,597.6 294.7,597.6 295.7,597.5 296.7,596.6 297.7,594.6 298.6,602.7 299.6,600.5 300.6,594.0 301.6,594.0 302.6,595.1 303.5,597.1 304.5,601.2 305.5,600.3 306.5,600.5 307.5,600.6 308.4,600.7 309.4,599.4 310.4,598.5 311.4,596.6 312.4,591.2 313.3,596.6 314.3,602.9 315.3,595.2 316.3,594.9 317.3,600.4 318.2,597.3 319.2,595.4 320.2,602.1 321.2,599.1 322.2,599.5 323.1,595.1 324.1,598.6 325.1,598.2 326.1,599.6 327.1,600.8 328.0,600.7 329.0,597.6 330.0,599.3 331.0,593.2 332.0,599.1 332.9,599.3 333.9,595.7 334.9,594.4 335.9,596.8 336.9,593.0 337.8,598.1 338.8,598.0 339.8,593.9 340.8,597.2 341.8,600.5 342.7,600.5 343.7,600.3 344.7,596.5 345.7,595.9 346.7,595.7 347.6,599.0 348.6,604.8 349.6,601.6 350.6,602.2 351.6,601.5 352.5,591.7 353.5,596.3 354.5,595.6 355.5,601.1 356.5,602.6 357.4,594.8 358.4,597.1 359.4,598.8 360.4,595.4 361.4,594.9 362.3,594.8 363.3,599.9 364.3,594.0 365.3,600.7 366.3,597.3 367.2,599.5 368.2,602.1 369.2,594.8 370.2,594.3 371.2,598.4 372.1,593.6 373.1,594.6 374.1,596.6 375.1,597.5 376.1,592.9 377.0,595.7 378.0,598.9 379.0,601.4 380.0,590.5 381.0,601.3 381.9,599.9 382.9,593.4 383.9,592.2 384.9,598.4 385.9,595.6 386.8,597.4 387.8,599.8 388.8,595.8 389.8,597.5 390.8,598.6 391.7,599.9 392.7,602.8 393.7,602.6"/>
</g>
<rect x="57.5" y="312.3" width="340.9" height="306.4" fill="none" stroke="#000" stroke-width="2.1"/>
<line x1="57.5" y1="618.5" x2="57.5" y2="624.7" stroke="#000" stroke-width="2.1"/>
<text x="57.5" y="647" font-size="22" text-anchor="middle">500</text>
<line x1="142.7" y1="618.5" x2="142.7" y2="624.7" stroke="#000" stroke-width="2.1"/>
<text x="142.7" y="647" font-size="22" text-anchor="middle">525</text>
<line x1="227.9" y1="618.5" x2="227.9" y2="624.7" stroke="#000" stroke-width="2.1"/>
<text x="227.9" y="647" font-size="22" text-anchor="middle">550</text>
<line x1="313.2" y1="618.5" x2="313.2" y2="624.7" stroke="#000" stroke-width="2.1"/>
<text x="313.2" y="647" font-size="22" text-anchor="middle">575</text>
<line x1="398.4" y1="618.5" x2="398.4" y2="624.7" stroke="#000" stroke-width="2.1"/>
<text x="398.4" y="647" font-size="22" text-anchor="middle">600</text>
<text x="228.3" y="672" font-size="22.6" text-anchor="middle">Wavelength (nm)</text>
<text transform="translate(35,463.5) rotate(-90)" font-size="22.4" text-anchor="middle">SHG intensity (a.u.)</text>
<text x="65.5" y="451.5" font-size="19.5" fill="#0000ff">2LM/1LG</text>
<text x="65.5" y="493" font-size="19.5" fill="#ff0000">2LM</text>
<text x="66" y="559" font-size="19.5" fill="#111">1LG</text>
<text x="0.6" y="317.2" font-size="20" font-weight="bold">C</text>
<g>
<line x1="278.6" y1="397.9" x2="377" y2="329.8" stroke="#f01018" stroke-width="2.2" stroke-dasharray="7,4.5"/>
<circle cx="304.5" cy="379.0" r="4.2" fill="url(#rdot)" stroke="#fff" stroke-width="0.7"/>
<circle cx="314.5" cy="371.3" r="4.2" fill="url(#rdot)" stroke="#fff" stroke-width="0.7"/>
<circle cx="325.0" cy="364.7" r="4.2" fill="url(#rdot)" stroke="#fff" stroke-width="0.7"/>
<circle cx="334.6" cy="358.0" r="4.2" fill="url(#rdot)" stroke="#fff" stroke-width="0.7"/>
<circle cx="341.7" cy="352.2" r="4.2" fill="url(#rdot)" stroke="#fff" stroke-width="0.7"/>
<circle cx="345.0" cy="349.3" r="4.2" fill="url(#rdot)" stroke="#fff" stroke-width="0.7"/>
<rect x="278.6" y="320.0" width="101.8" height="82.3" fill="none" stroke="#222" stroke-width="1.3"/>
<line x1="280.8" y1="402.3" x2="280.8" y2="403.9" stroke="#222" stroke-width="0.9"/>
<line x1="289.0" y1="402.3" x2="289.0" y2="403.9" stroke="#222" stroke-width="0.9"/>
<line x1="295.3" y1="402.3" x2="295.3" y2="403.9" stroke="#222" stroke-width="0.9"/>
<line x1="300.5" y1="402.3" x2="300.5" y2="403.9" stroke="#222" stroke-width="0.9"/>
<line x1="304.9" y1="402.3" x2="304.9" y2="403.9" stroke="#222" stroke-width="0.9"/>
<line x1="308.7" y1="402.3" x2="308.7" y2="403.9" stroke="#222" stroke-width="0.9"/>
<line x1="312.0" y1="402.3" x2="312.0" y2="403.9" stroke="#222" stroke-width="0.9"/>
<line x1="315.0" y1="402.3" x2="315.0" y2="405.1" stroke="#222" stroke-width="0.9"/>
<line x1="334.7" y1="402.3" x2="334.7" y2="403.9" stroke="#222" stroke-width="0.9"/>
<line x1="346.2" y1="402.3" x2="346.2" y2="403.9" stroke="#222" stroke-width="0.9"/>
<line x1="354.4" y1="402.3" x2="354.4" y2="403.9" stroke="#222" stroke-width="0.9"/>
<line x1="360.7" y1="402.3" x2="360.7" y2="403.9" stroke="#222" stroke-width="0.9"/>
<line x1="365.9" y1="402.3" x2="365.9" y2="403.9" stroke="#222" stroke-width="0.9"/>
<line x1="370.3" y1="402.3" x2="370.3" y2="403.9" stroke="#222" stroke-width="0.9"/>
<line x1="374.1" y1="402.3" x2="374.1" y2="403.9" stroke="#222" stroke-width="0.9"/>
<line x1="377.4" y1="402.3" x2="377.4" y2="403.9" stroke="#222" stroke-width="0.9"/>
<line x1="278.6" y1="401.1" x2="277.0" y2="401.1" stroke="#222" stroke-width="0.9"/>
<line x1="278.6" y1="397.7" x2="277.0" y2="397.7" stroke="#222" stroke-width="0.9"/>
<line x1="278.6" y1="395.0" x2="277.0" y2="395.0" stroke="#222" stroke-width="0.9"/>
<line x1="278.6" y1="392.9" x2="277.0" y2="392.9" stroke="#222" stroke-width="0.9"/>
<line x1="278.6" y1="391.0" x2="277.0" y2="391.0" stroke="#222" stroke-width="0.9"/>
<line x1="278.6" y1="389.4" x2="277.0" y2="389.4" stroke="#222" stroke-width="0.9"/>
<line x1="278.6" y1="388.0" x2="277.0" y2="388.0" stroke="#222" stroke-width="0.9"/>
<line x1="278.6" y1="386.8" x2="275.8" y2="386.8" stroke="#222" stroke-width="0.9"/>
<line x1="278.6" y1="378.6" x2="277.0" y2="378.6" stroke="#222" stroke-width="0.9"/>
<line x1="278.6" y1="373.8" x2="277.0" y2="373.8" stroke="#222" stroke-width="0.9"/>
<line x1="278.6" y1="370.4" x2="277.0" y2="370.4" stroke="#222" stroke-width="0.9"/>
<line x1="278.6" y1="367.7" x2="277.0" y2="367.7" stroke="#222" stroke-width="0.9"/>
<line x1="278.6" y1="365.6" x2="277.0" y2="365.6" stroke="#222" stroke-width="0.9"/>
<line x1="278.6" y1="363.7" x2="277.0" y2="363.7" stroke="#222" stroke-width="0.9"/>
<line x1="278.6" y1="362.1" x2="277.0" y2="362.1" stroke="#222" stroke-width="0.9"/>
<line x1="278.6" y1="360.7" x2="277.0" y2="360.7" stroke="#222" stroke-width="0.9"/>
<line x1="278.6" y1="359.5" x2="275.8" y2="359.5" stroke="#222" stroke-width="0.9"/>
<line x1="278.6" y1="351.3" x2="277.0" y2="351.3" stroke="#222" stroke-width="0.9"/>
<line x1="278.6" y1="346.5" x2="277.0" y2="346.5" stroke="#222" stroke-width="0.9"/>
<line x1="278.6" y1="343.1" x2="277.0" y2="343.1" stroke="#222" stroke-width="0.9"/>
<line x1="278.6" y1="340.4" x2="277.0" y2="340.4" stroke="#222" stroke-width="0.9"/>
<line x1="278.6" y1="338.3" x2="277.0" y2="338.3" stroke="#222" stroke-width="0.9"/>
<line x1="278.6" y1="336.4" x2="277.0" y2="336.4" stroke="#222" stroke-width="0.9"/>
<line x1="278.6" y1="334.8" x2="277.0" y2="334.8" stroke="#222" stroke-width="0.9"/>
<line x1="278.6" y1="333.4" x2="277.0" y2="333.4" stroke="#222" stroke-width="0.9"/>
<line x1="278.6" y1="332.2" x2="275.8" y2="332.2" stroke="#222" stroke-width="0.9"/>
<line x1="278.6" y1="324.0" x2="277.0" y2="324.0" stroke="#222" stroke-width="0.9"/>
<text x="254.5" y="337.5" font-size="13.5" fill="#111">10<tspan dy="-5.5" font-size="9.5">3</tspan></text>
<text x="254.5" y="364.0" font-size="13.5" fill="#111">10<tspan dy="-5.5" font-size="9.5">2</tspan></text>
<text x="254.5" y="391.8" font-size="13.5" fill="#111">10<tspan dy="-5.5" font-size="9.5">1</tspan></text>
<text x="305" y="423" font-size="13.5" fill="#111">10<tspan dy="-5.5" font-size="9.5">1</tspan></text>
<text x="373.5" y="423" font-size="13.5" fill="#111">10<tspan dy="-5.5" font-size="9.5">2</tspan></text>
<text x="329.5" y="440" font-size="14.75" text-anchor="middle" fill="#111">Laser power (mW)</text>
<text transform="translate(246.5,379.5) rotate(-90)" font-size="13.7" text-anchor="middle" fill="#111">SHG intensity (a.u.)</text>
<text x="281" y="332.5" font-size="12.5" fill="#111">Slope<tspan dx="0.5" font-size="10">:</tspan></text>
<text x="281" y="349.3" font-size="12" fill="#111">1.75 ± 0.06</text>
</g>
<!--D-->
<text x="437.6" y="316.8" font-size="20.5" font-weight="bold" textLength="14.3" lengthAdjust="spacingAndGlyphs">D</text>
<g clip-path="url(#clipD)">
<g filter="url(#heat)">
<rect x="440" y="290" width="400" height="300" fill="#000"/>
<polygon fill="#b0b0b0" points="500.0,417.0 520.0,412.0 556.7,411.0 579.0,377.5 650.0,402.0 780.0,466.0 794.5,485.0 803.5,530.5 730.0,510.0 678.0,491.0 650.0,492.0 640.0,497.0 617.5,504.0 588.0,496.0 563.0,483.0 545.0,464.0 526.4,453.0 503.0,435.0"/>
<polygon fill="#b4b4b4" points="629.0,541.0 648.0,537.0 702.0,578.0 668.0,580.0"/>
<ellipse cx="542" cy="437" rx="10" ry="9" fill="#fff"/>
<ellipse cx="592" cy="440" rx="10" ry="12" fill="#e8e8e8"/>
<ellipse cx="790" cy="518" rx="9" ry="10" fill="#e0e0e0"/>
<ellipse cx="640" cy="480" rx="18" ry="8" fill="#d0d0d0"/>
<ellipse cx="740" cy="495" rx="30" ry="9" fill="#d0d0d0" transform="rotate(22 740 495)"/>
</g>
</g>
<g clip-path="url(#clipD)">
<polyline fill="none" stroke="#f4f4f4" stroke-width="2" stroke-linejoin="miter" points="686.8,573.0 632.8,528.4 622.4,526.0 601.9,513.5 595.9,495.4 580.2,495.4 564.6,487.7 548.9,461.2 539.3,461.2 514.5,414.9 562.0,342.7 729.3,370.2 786.8,476.8 796.0,483.5 815.5,573.0"/>
<g fill="none" stroke="#fff" stroke-width="1.9" stroke-dasharray="6.3,3.8">
<path d="M489.5 389.7 L557 412.6 L582.2 378.7 L780.8 467.5 L823 485"/>
<path d="M488.7 418.9 L514.5 427.5 L506 441.8 L491 451 L556 466.5 Q580 462 600 467.5 L798 532.3 L823 540.5"/>
</g>
</g>
<rect x="498.2" y="546.5" width="72.4" height="8.7" fill="#fff"/>
<g fill="#fff">
<text x="670.8" y="400" font-size="23.2">2LM</text>
<text x="611" y="454.5" font-size="23.2">2LM/1LG</text>
<text x="774" y="451" font-size="22.5">1LG</text>
<text x="731.2" y="347.3" font-size="23.1">SiO<tspan font-size="14.5" dy="5">2</tspan><tspan dy="-5">/Si</tspan></text>
</g>
<path d="M809.6 462V494" stroke="#fff" stroke-width="2.2"/><polygon points="801.5,492.3 818,492.3 809.7,508" fill="#fff"/>
<rect x="477.4" y="593" width="344.6" height="21.8" fill="url(#cbar)" stroke="#000" stroke-width="1.8"/>
<text x="475.8" y="644.3" font-size="23.2">Min.</text>
<text x="781" y="644.3" font-size="23.2">Max.</text>
<g fill="none" stroke-linecap="round" stroke-linejoin="round">
<path transform="translate(721.7,633.0) scale(0.95,0.95)" d="M6 1L2.5 8M4.3 6V19M17 1.5L10 3.5M10 3.5V14.5L13 13M10 8.2H19.5M14 3L15.5 13Q16.5 17 19.5 17.5V14.5M12 17L14 19.5" stroke="#1a1a1a" stroke-width="2.3"/>
<path transform="translate(741.4,633.0) scale(0.95,0.95)" d="M5 1L2 6H6.5L2 12L7.5 11M1 17.5L7.5 15M11.5 1L8.5 6.5M9.7 5V19.5M14.5 0.5L15.5 3M14.5 4.5V18.5M9.7 4.8H19M9.7 9.3H18.5M9.7 13.8H18.5M9.7 18.5H19.5" stroke="#1a1a1a" stroke-width="2.3"/>
<path transform="translate(766.9,633.0) scale(0.95,0.95)" d="M4 1H16V8.5H4ZM4 4.8H16M8.5 10.5L3.5 12.5M4.3 12V17.5L8.5 15.5M11.5 10.5H17.5V16.5L15.5 15.5M11.5 10.5V19.5" stroke="#1a1a1a" stroke-width="2.3"/>
<path transform="translate(785.4,633.0) scale(0.95,0.95)" d="M5 1L2 6H6.5L2 12L7.5 11M1 17.5L7.5 15M11.5 1L8.5 6.5M9.7 5V19.5M14.5 0.5L15.5 3M14.5 4.5V18.5M9.7 4.8H19M9.7 9.3H18.5M9.7 13.8H18.5M9.7 18.5H19.5" stroke="#1a1a1a" stroke-width="2.3"/>
<path transform="translate(720.6,632.0) scale(0.95,0.95)" d="M6 1L2.5 8M4.3 6V19M17 1.5L10 3.5M10 3.5V14.5L13 13M10 8.2H19.5M14 3L15.5 13Q16.5 17 19.5 17.5V14.5M12 17L14 19.5" stroke="#fff" stroke-width="2.6"/>
<path transform="translate(740.3,632.0) scale(0.95,0.95)" d="M5 1L2 6H6.5L2 12L7.5 11M1 17.5L7.5 15M11.5 1L8.5 6.5M9.7 5V19.5M14.5 0.5L15.5 3M14.5 4.5V18.5M9.7 4.8H19M9.7 9.3H18.5M9.7 13.8H18.5M9.7 18.5H19.5" stroke="#fff" stroke-width="2.6"/>
<path transform="translate(765.8,632.0) scale(0.95,0.95)" d="M4 1H16V8.5H4ZM4 4.8H16M8.5 10.5L3.5 12.5M4.3 12V17.5L8.5 15.5M11.5 10.5H17.5V16.5L15.5 15.5M11.5 10.5V19.5" stroke="#fff" stroke-width="2.6"/>
<path transform="translate(784.3,632.0) scale(0.95,0.95)" d="M5 1L2 6H6.5L2 12L7.5 11M1 17.5L7.5 15M11.5 1L8.5 6.5M9.7 5V19.5M14.5 0.5L15.5 3M14.5 4.5V18.5M9.7 4.8H19M9.7 9.3H18.5M9.7 13.8H18.5M9.7 18.5H19.5" stroke="#fff" stroke-width="2.6"/>
</g>
<g fill="#fff" stroke="#b4b4b4" stroke-width="0.8">
<path d="M692.4 627.7c-6.1 0-11 4.2-11 9.4c0 3 1.6 5.6 4.1 7.3l-1 3.6l4-2.2c1.2.4 2.5.6 3.9.6c6.1 0 11-4.2 11-9.4s-4.900-9.300-11-9.300z"/>
<path d="M703.6 636.800c-5.400 0-9.700 3.700-9.700 8.200s4.300 8.200 9.700 8.200c1.100 0 2.200-.2 3.200-.5l3.400 1.900l-.9-3.100c2.400-1.500 4-3.900 4-6.500c0-4.500-4.300-8.200-9.700-8.200z"/>
</g>
<g fill="#aaa"><circle cx="688.5" cy="634.5" r="1"/><circle cx="696.3" cy="634.5" r="1"/><circle cx="700.3" cy="642.5" r=".9"/><circle cx="706.800" cy="642.5" r=".9"/></g>
</svg>
</body></html>
